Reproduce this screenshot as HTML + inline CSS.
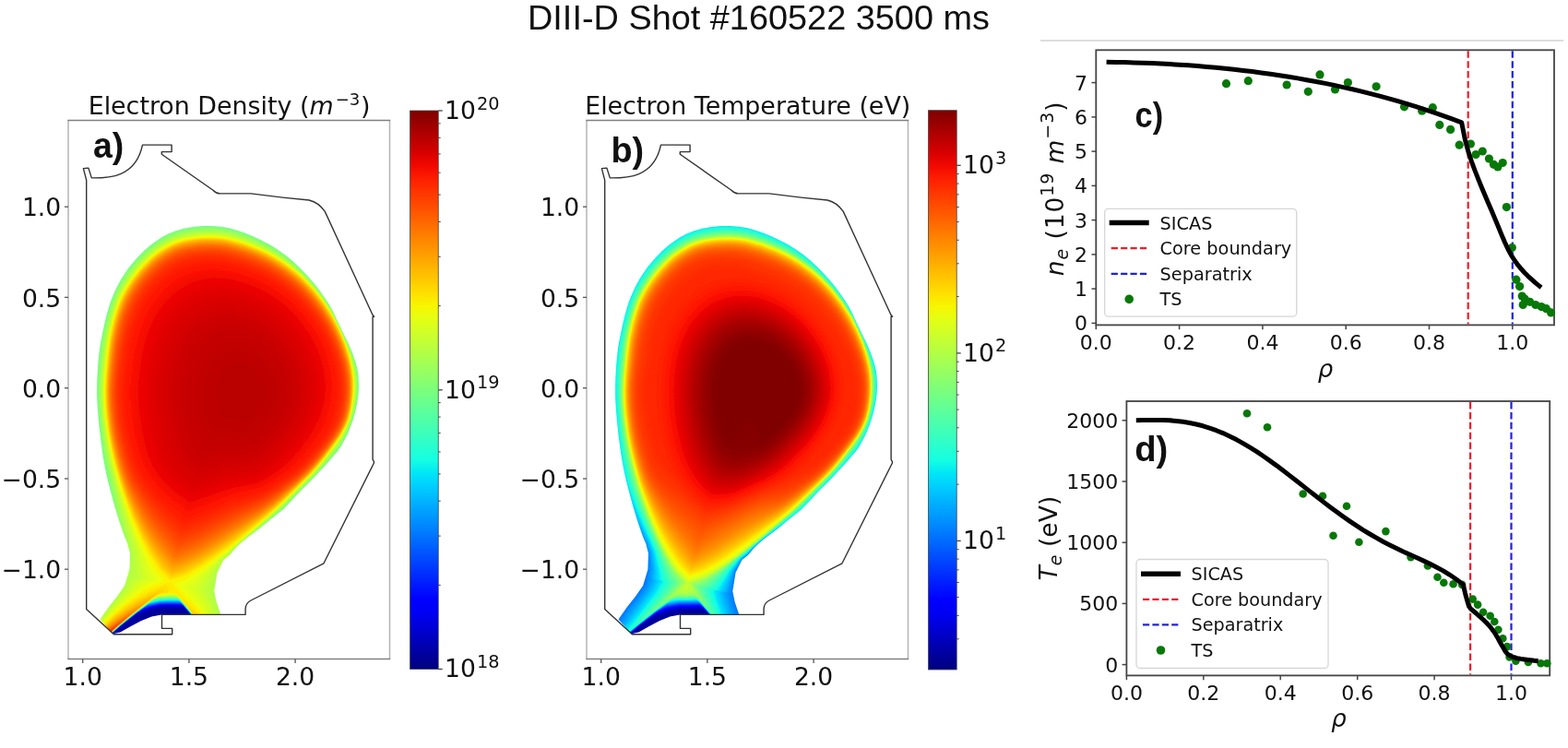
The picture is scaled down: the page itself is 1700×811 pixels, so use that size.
<!DOCTYPE html><html><head><meta charset="utf-8"><title>DIII-D Shot #160522 3500 ms</title><style>html,body{margin:0;padding:0;background:#fff;overflow:hidden}svg{display:block}text{font-family:"DejaVu Sans","Liberation Sans",sans-serif;fill:#111}</style></head><body>
<svg width="1700" height="811" viewBox="0 0 1700 811">
<defs><linearGradient id="gjet" x1="0" y1="0" x2="0" y2="1"><stop offset="0.000" stop-color="#800000"/><stop offset="0.025" stop-color="#9c0000"/><stop offset="0.050" stop-color="#b90000"/><stop offset="0.075" stop-color="#d60000"/><stop offset="0.100" stop-color="#f30900"/><stop offset="0.125" stop-color="#ff2100"/><stop offset="0.150" stop-color="#ff3900"/><stop offset="0.175" stop-color="#ff5000"/><stop offset="0.200" stop-color="#ff6800"/><stop offset="0.225" stop-color="#ff8000"/><stop offset="0.250" stop-color="#ff9700"/><stop offset="0.275" stop-color="#ffaf00"/><stop offset="0.300" stop-color="#ffc600"/><stop offset="0.325" stop-color="#ffde00"/><stop offset="0.350" stop-color="#f7f600"/><stop offset="0.375" stop-color="#e2ff15"/><stop offset="0.400" stop-color="#ceff29"/><stop offset="0.425" stop-color="#b9ff3e"/><stop offset="0.450" stop-color="#a5ff52"/><stop offset="0.475" stop-color="#90ff67"/><stop offset="0.500" stop-color="#7bff7b"/><stop offset="0.525" stop-color="#67ff90"/><stop offset="0.550" stop-color="#52ffa5"/><stop offset="0.575" stop-color="#3effb9"/><stop offset="0.600" stop-color="#29ffce"/><stop offset="0.625" stop-color="#15ffe2"/><stop offset="0.650" stop-color="#00e5f7"/><stop offset="0.675" stop-color="#00ccff"/><stop offset="0.700" stop-color="#00b2ff"/><stop offset="0.725" stop-color="#0099ff"/><stop offset="0.750" stop-color="#0080ff"/><stop offset="0.775" stop-color="#0066ff"/><stop offset="0.800" stop-color="#004cff"/><stop offset="0.825" stop-color="#0033ff"/><stop offset="0.850" stop-color="#0019ff"/><stop offset="0.875" stop-color="#0000ff"/><stop offset="0.900" stop-color="#0000f3"/><stop offset="0.925" stop-color="#0000d6"/><stop offset="0.950" stop-color="#0000b9"/><stop offset="0.975" stop-color="#00009c"/><stop offset="1.000" stop-color="#000080"/></linearGradient><clipPath id="cda"><path d="M108.5 671.5 117.6 658.5 126.9 646.8 135.1 635.1 140.4 617.6 141.0 600.0 138.2 589.3 137.6 587.9 136.7 585.8 135.5 582.9 133.9 578.8 132.0 573.3 129.7 566.4 127.1 558.2 124.4 549.4 121.8 540.0 119.2 530.1 116.5 519.5 114.2 508.7 112.1 497.5 110.4 486.1 108.9 474.4 107.7 463.9 106.8 454.7 106.1 446.8 105.6 440.0 105.3 433.8 105.1 427.9 105.1 422.5 105.1 417.5 105.3 412.2 105.5 406.6 105.9 400.6 106.3 394.4 106.8 388.8 107.3 383.8 107.8 379.6 108.3 375.9 109.1 371.2 110.3 365.3 111.7 358.2 113.5 350.1 115.4 342.3 117.4 335.0 119.6 328.1 122.0 321.7 124.8 315.2 128.0 308.8 131.6 302.3 135.7 295.9 140.2 289.6 145.2 283.4 150.6 277.4 156.5 271.6 162.7 266.2 169.1 261.4 175.8 257.1 182.9 253.3 190.8 250.2 199.5 247.8 209.2 246.1 219.7 245.1 229.8 245.0 239.4 245.7 248.5 247.3 257.1 249.7 265.8 252.7 274.5 256.3 283.3 260.5 292.1 265.1 300.5 270.3 308.4 275.8 315.8 281.8 322.9 288.3 329.6 295.0 336.0 302.0 342.2 309.3 348.0 317.0 353.2 324.4 357.7 331.6 361.5 338.6 364.7 345.4 367.8 352.0 370.8 358.3 373.8 364.5 376.8 370.4 379.4 376.2 381.8 381.9 383.8 387.4 385.5 392.8 386.9 397.8 387.9 402.5 388.5 406.8 388.7 410.8 388.9 414.5 389.0 417.9 389.0 421.1 388.8 424.1 388.6 427.5 388.1 431.5 387.4 435.9 386.5 440.8 385.4 445.7 384.1 450.7 382.6 455.6 380.9 460.5 379.0 465.3 377.1 469.9 375.0 474.3 372.7 478.6 370.7 482.2 368.9 485.2 367.3 487.6 365.9 489.4 363.7 492.0 360.6 495.5 356.8 499.9 352.1 505.2 347.1 510.6 341.9 516.2 336.3 521.9 330.5 527.7 325.2 533.1 320.6 537.9 316.6 542.2 313.1 546.1 309.7 549.6 306.2 552.9 302.6 556.0 299.0 558.8 296.3 560.9 294.5 562.3 282.2 572.5 265.5 585.0 256.3 593.2 248.9 602.1 242.5 607.0 235.6 620.8 232.3 641.0 234.7 652.7 239.3 666.5 175.2 666.5 175.2 666.5 164.4 668.5 152.7 673.2 141.0 679.6 130.4 685.5 122.2 687.2Z"/></clipPath><clipPath id="cdb"><path d="M670.5 671.5 679.6 658.5 688.9 646.8 697.1 635.1 702.4 617.6 703.0 600.0 700.2 589.3 699.6 587.9 698.7 585.8 697.5 582.9 695.9 578.8 694.0 573.3 691.7 566.4 689.1 558.2 686.4 549.4 683.8 540.0 681.2 530.1 678.5 519.5 676.2 508.7 674.1 497.5 672.4 486.1 670.9 474.4 669.7 463.9 668.8 454.7 668.1 446.8 667.6 440.0 667.3 433.8 667.1 427.9 667.1 422.5 667.1 417.5 667.3 412.2 667.5 406.6 667.9 400.6 668.3 394.4 668.8 388.8 669.3 383.8 669.8 379.6 670.3 375.9 671.1 371.2 672.3 365.3 673.7 358.2 675.5 350.1 677.4 342.3 679.4 335.0 681.6 328.1 684.0 321.7 686.8 315.2 690.0 308.8 693.6 302.3 697.7 295.9 702.2 289.6 707.2 283.4 712.6 277.4 718.5 271.6 724.6 266.2 731.1 261.4 737.8 257.1 744.9 253.3 752.8 250.2 761.5 247.8 771.2 246.1 781.7 245.1 791.8 245.0 801.4 245.7 810.5 247.3 819.1 249.7 827.8 252.7 836.5 256.3 845.3 260.5 854.1 265.1 862.5 270.3 870.4 275.8 877.8 281.8 884.9 288.3 891.6 295.0 898.0 302.0 904.2 309.3 910.0 317.0 915.2 324.4 919.7 331.6 923.5 338.6 926.7 345.4 929.8 352.0 932.8 358.3 935.8 364.5 938.8 370.4 941.4 376.2 943.8 381.9 945.8 387.4 947.5 392.8 948.9 397.8 949.9 402.5 950.5 406.8 950.7 410.8 950.9 414.5 951.0 417.9 951.0 421.1 950.8 424.1 950.6 427.5 950.1 431.5 949.4 435.9 948.5 440.8 947.4 445.7 946.1 450.7 944.6 455.6 942.9 460.5 941.0 465.3 939.1 469.9 937.0 474.3 934.7 478.6 932.7 482.2 930.9 485.2 929.3 487.6 927.9 489.4 925.7 492.0 922.6 495.5 918.8 499.9 914.1 505.2 909.1 510.6 903.9 516.2 898.3 521.9 892.5 527.7 887.2 533.1 882.6 537.9 878.6 542.2 875.1 546.1 871.7 549.6 868.2 552.9 864.6 556.0 861.0 558.8 858.3 560.9 856.5 562.3 844.2 572.5 827.5 585.0 818.3 593.2 810.9 602.1 804.5 607.0 797.6 620.8 794.3 641.0 796.7 652.7 801.3 666.5 737.2 666.5 737.2 666.5 726.4 668.5 714.7 673.2 703.0 679.6 692.4 685.5 684.2 687.2Z"/></clipPath><filter id="sm" x="0" y="0" width="1" height="1"><feGaussianBlur stdDeviation="0.7"/></filter></defs>
<rect width="1700" height="811" fill="#fff"/>
<text x="572" y="32.1" font-size="36.5" textLength="501" lengthAdjust="spacingAndGlyphs" style="font-family:'Liberation Sans',sans-serif">DIII-D Shot #160522 3500 ms</text>
<line x1="1128" y1="44.1" x2="1695" y2="44.1" stroke="#d2d2d2" stroke-width="1.5"/>
<g clip-path="url(#cda)"><g filter="url(#sm)"><path fill="#00009e" fill-rule="evenodd" d="M95.0 235.0H400.0V695.0H95.0Z"/>
<path fill="#0000ab" fill-rule="evenodd" d="M400.0 695.0 206.2 695.0 206.2 666.5 200.5 659.6 199.5 659.0 182.0 659.0 174.5 659.1 162.5 661.3 149.5 666.5 142.0 670.6 135.5 675.5 122.8 686.5 114.4 695.0 95.0 695.0 95.0 235.0 400.0 235.0 400.0 695.0Z"/>
<path fill="#0000b9" fill-rule="evenodd" d="M400.0 695.0 206.4 695.0 206.4 666.5 199.5 658.5 181.0 658.3 174.0 658.5 162.5 660.7 148.2 666.5 142.4 670.0 131.0 679.0 122.5 686.5 114.3 695.0 95.0 695.0 95.0 235.0 400.0 235.0 400.0 695.0Z"/>
<path fill="#0000c7" fill-rule="evenodd" d="M400.0 695.0 206.5 695.0 206.5 666.5 199.0 657.9 181.0 657.8 174.0 658.0 162.5 660.1 147.2 666.5 141.5 670.5 131.5 678.5 122.3 686.5 114.2 695.0 95.0 695.0 95.0 235.0 400.0 235.0 400.0 695.0Z"/>
<path fill="#0000d5" fill-rule="evenodd" d="M400.0 695.0 206.6 695.0 206.6 666.5 200.5 659.0 198.5 657.4 181.0 657.3 174.0 657.5 162.5 659.7 149.0 665.1 142.0 670.0 131.4 678.5 122.2 686.5 114.1 695.0 95.0 695.0 95.0 235.0 400.0 235.0 400.0 695.0Z"/>
<path fill="#0000e3" fill-rule="evenodd" d="M400.0 695.0 206.7 695.0 206.7 666.5 198.5 657.1 181.0 656.9 174.0 657.1 162.0 659.4 149.5 664.5 131.2 678.5 122.0 686.5 113.5 695.0 95.0 695.0 95.0 235.0 400.0 235.0 400.0 695.0Z"/>
<path fill="#0000f1" fill-rule="evenodd" d="M400.0 695.0 206.8 695.0 206.8 666.5 200.5 658.8 198.0 656.6 181.0 656.6 174.0 656.8 162.3 659.0 150.0 664.0 131.1 678.5 122.0 686.4 113.5 695.0 95.0 695.0 95.0 235.0 400.0 235.0 400.0 695.0Z"/>
<path fill="#0000ff" fill-rule="evenodd" d="M400.0 695.0 207.0 695.0 207.0 666.5 200.5 658.7 198.0 656.4 181.5 656.2 174.0 656.4 162.0 658.7 150.5 663.5 131.0 678.5 122.0 686.4 113.5 695.0 95.0 695.0 95.0 235.0 400.0 235.0 400.0 695.0Z"/>
<path fill="#0000ff" fill-rule="evenodd" d="M400.0 695.0 207.0 695.0 207.0 666.5 200.0 658.0 197.5 655.9 181.5 655.9 174.0 656.1 162.0 658.4 151.0 663.0 130.9 678.5 122.0 686.3 113.5 695.0 95.0 695.0 95.0 235.0 400.0 235.0 400.0 695.0Z"/>
<path fill="#0009ff" fill-rule="evenodd" d="M400.0 695.0 207.1 695.0 207.1 666.5 200.5 658.5 197.5 655.7 181.5 655.6 174.0 655.8 162.0 658.1 152.4 662.0 144.0 668.0 131.4 678.0 122.0 686.2 113.5 695.0 95.0 695.0 95.0 235.0 400.0 235.0 400.0 695.0Z"/>
<path fill="#0015ff" fill-rule="evenodd" d="M400.0 695.0 207.2 695.0 207.2 666.5 200.5 658.4 197.5 655.5 181.5 655.3 174.0 655.5 162.0 657.8 153.0 661.5 144.5 667.5 131.4 678.0 122.0 686.2 113.5 695.0 95.0 695.0 95.0 235.0 400.0 235.0 400.0 695.0Z"/>
<path fill="#0022ff" fill-rule="evenodd" d="M400.0 695.0 207.3 695.0 207.3 666.5 200.0 657.7 197.0 655.1 181.5 655.0 174.0 655.2 162.0 657.5 153.5 661.0 144.4 667.5 131.3 678.0 122.0 686.1 113.5 695.0 95.0 695.0 95.0 235.0 400.0 235.0 400.0 695.0Z"/>
<path fill="#002eff" fill-rule="evenodd" d="M400.0 695.0 207.3 695.0 207.3 666.5 200.0 657.6 197.0 654.9 181.5 654.7 174.0 655.0 162.5 657.2 155.0 660.0 147.0 665.5 131.2 678.0 122.0 686.1 113.4 695.0 95.0 695.0 95.0 235.0 400.0 235.0 400.0 695.0Z"/>
<path fill="#003aff" fill-rule="evenodd" d="M400.0 695.0 207.4 695.0 207.4 666.5 200.0 657.5 196.5 654.5 181.5 654.4 174.0 654.7 162.0 657.0 154.8 660.0 147.5 665.0 131.1 678.0 122.0 686.0 121.9 686.5 113.4 695.0 95.0 695.0 95.0 235.0 400.0 235.0 400.0 695.0Z"/>
<path fill="#0046ff" fill-rule="evenodd" d="M400.0 695.0 207.5 695.0 207.5 666.5 200.0 657.4 196.5 654.3 181.5 654.2 173.5 654.5 162.0 656.7 155.3 659.5 147.4 665.0 131.0 678.0 122.0 685.9 121.9 686.5 113.4 695.0 95.0 695.0 95.0 235.0 400.0 235.0 400.0 695.0Z"/>
<path fill="#0053ff" fill-rule="evenodd" d="M400.0 695.0 207.6 695.0 207.6 666.5 200.0 657.3 196.5 654.2 181.5 653.9 173.5 654.2 162.0 656.5 156.0 659.0 148.0 664.5 131.0 678.0 122.0 685.9 121.9 686.5 113.4 695.0 95.0 695.0 95.0 235.0 400.0 235.0 400.0 695.0Z"/>
<path fill="#005fff" fill-rule="evenodd" d="M400.0 695.0 207.6 695.0 207.6 666.5 200.0 657.3 196.5 654.0 181.5 653.6 173.0 654.1 161.5 656.4 156.5 658.5 147.9 664.5 130.9 678.0 122.0 685.8 121.9 686.5 113.4 695.0 95.0 695.0 95.0 235.0 400.0 235.0 400.0 695.0Z"/>
<path fill="#006bff" fill-rule="evenodd" d="M400.0 695.0 207.7 695.0 207.7 666.5 199.5 656.6 196.0 653.6 181.5 653.4 173.0 653.8 161.5 656.1 157.2 658.0 148.5 664.0 130.8 678.0 122.0 685.8 121.9 686.5 113.4 695.0 95.0 695.0 95.0 235.0 400.0 235.0 400.0 695.0Z"/>
<path fill="#0077ff" fill-rule="evenodd" d="M400.0 695.0 207.8 695.0 207.8 666.5 200.0 657.1 196.0 653.4 181.5 653.1 172.5 653.7 161.0 656.0 157.0 658.0 148.4 664.0 130.8 678.0 122.0 685.7 121.9 686.5 113.4 695.0 95.0 695.0 95.0 235.0 400.0 235.0 400.0 695.0Z"/>
<path fill="#0083ff" fill-rule="evenodd" d="M400.0 695.0 207.8 695.0 207.8 666.5 199.5 656.4 195.5 653.0 181.5 652.9 173.0 653.3 161.0 655.8 157.5 657.5 147.0 665.0 130.7 678.0 122.0 685.7 121.9 686.5 113.4 695.0 95.0 695.0 95.0 235.0 400.0 235.0 400.0 695.0Z"/>
<path fill="#0090ff" fill-rule="evenodd" d="M400.0 695.0 207.9 695.0 207.9 666.5 199.5 656.4 195.5 652.8 181.5 652.6 173.0 653.1 161.5 655.4 159.0 656.5 148.2 664.0 130.6 678.0 122.0 685.6 121.9 686.5 113.4 695.0 95.0 695.0 95.0 235.0 400.0 235.0 400.0 695.0Z"/>
<path fill="#009cff" fill-rule="evenodd" d="M400.0 695.0 208.0 695.0 208.0 666.5 199.5 656.3 195.5 652.7 181.5 652.4 173.0 652.9 161.5 655.2 159.5 656.1 148.1 664.0 130.6 678.0 122.0 685.6 121.9 686.5 113.4 695.0 95.0 695.0 95.0 235.0 400.0 235.0 400.0 695.0Z"/>
<path fill="#00a8ff" fill-rule="evenodd" d="M400.0 695.0 208.0 695.0 208.0 666.5 199.5 656.2 195.5 652.5 194.5 652.2 181.5 652.2 173.0 652.6 161.5 655.0 159.5 655.9 148.1 664.0 130.5 678.0 122.0 685.5 121.9 686.5 113.4 695.0 95.0 695.0 95.0 235.0 400.0 235.0 400.0 695.0Z"/>
<path fill="#00b4ff" fill-rule="evenodd" d="M400.0 695.0 208.1 695.0 208.1 666.5 199.5 656.1 195.5 652.4 194.5 652.0 182.0 651.9 173.0 652.4 162.0 654.6 160.0 655.5 148.0 664.0 130.5 677.9 122.0 685.5 121.9 686.5 113.4 695.0 95.0 695.0 95.0 235.0 400.0 235.0 400.0 695.0Z"/>
<path fill="#00c1ff" fill-rule="evenodd" d="M400.0 695.0 208.1 695.0 208.1 666.5 199.5 656.0 195.0 652.0 182.0 651.7 173.0 652.2 162.5 654.3 159.8 655.5 148.0 663.9 130.5 677.9 121.9 685.5 121.8 686.5 113.3 695.0 95.0 695.0 95.0 235.0 400.0 235.0 400.0 695.0Z"/>
<path fill="#00cdff" fill-rule="evenodd" d="M400.0 695.0 208.2 695.0 208.2 666.5 199.5 655.9 195.0 651.8 194.0 651.5 182.0 651.4 173.0 651.9 162.5 654.1 159.7 655.5 148.5 663.5 130.5 677.8 121.8 685.5 121.8 686.5 113.3 695.0 95.0 695.0 95.0 235.0 400.0 235.0 400.0 695.0Z"/>
<path fill="#00d9ff" fill-rule="evenodd" d="M400.0 695.0 208.3 695.0 208.3 666.5 199.5 655.9 195.0 651.7 193.5 651.3 182.0 651.2 172.5 651.8 163.0 653.8 159.5 655.5 148.0 663.8 130.5 677.8 121.7 685.5 121.8 686.5 113.3 695.0 95.0 695.0 95.0 235.0 400.0 235.0 400.0 695.0Z"/>
<path fill="#00e5f7" fill-rule="evenodd" d="M400.0 695.0 208.3 695.0 208.3 666.5 199.5 655.8 195.0 651.6 193.5 651.0 182.0 651.0 172.5 651.6 163.0 653.5 160.0 655.1 148.0 663.7 130.5 677.7 121.7 685.5 121.8 686.5 113.3 695.0 95.0 695.0 95.0 235.0 400.0 235.0 400.0 695.0Z"/>
<path fill="#0af2ed" fill-rule="evenodd" d="M400.0 695.0 208.4 695.0 208.4 666.5 199.0 655.1 194.5 651.1 193.5 650.8 182.0 650.7 172.5 651.3 163.5 653.2 160.0 655.0 148.0 663.7 130.5 677.7 121.6 685.5 121.8 686.5 113.3 695.0 95.0 695.0 95.0 235.0 400.0 235.0 400.0 695.0Z"/>
<path fill="#14fee3" fill-rule="evenodd" d="M400.0 695.0 208.5 695.0 208.5 666.5 199.0 655.1 194.5 651.0 193.0 650.5 182.0 650.5 172.5 651.1 163.6 653.0 160.0 654.9 148.0 663.6 130.5 677.6 121.5 685.5 121.8 686.5 113.3 695.0 95.0 695.0 95.0 235.0 400.0 235.0 400.0 695.0Z"/>
<path fill="#1effd9" fill-rule="evenodd" d="M400.0 695.0 208.5 695.0 208.5 666.5 199.0 655.0 194.5 650.8 193.0 650.3 182.0 650.3 172.5 650.9 164.5 652.5 160.5 654.5 148.0 663.6 130.5 677.6 121.5 685.5 121.8 686.5 113.3 695.0 95.0 695.0 95.0 235.0 400.0 235.0 400.0 695.0Z"/>
<path fill="#27ffcf" fill-rule="evenodd" d="M400.0 695.0 208.6 695.0 208.6 666.5 199.0 654.9 194.5 650.7 193.0 650.1 182.0 650.0 172.0 650.7 164.5 652.4 160.5 654.4 148.0 663.5 130.5 677.5 121.5 685.4 121.8 686.5 113.3 695.0 95.0 695.0 95.0 235.0 400.0 235.0 400.0 695.0Z"/>
<path fill="#31ffc6" fill-rule="evenodd" d="M400.0 695.0 208.6 695.0 208.6 666.5 199.0 654.8 194.5 650.6 192.5 649.8 182.0 649.8 173.5 650.3 166.0 651.8 163.5 652.6 160.0 654.7 148.0 663.4 130.5 677.5 121.5 685.4 121.8 686.5 113.3 695.0 95.0 695.0 95.0 235.0 400.0 235.0 400.0 695.0Z"/>
<path fill="#3bffbc" fill-rule="evenodd" d="M400.0 695.0 208.7 695.0 208.7 666.5 199.0 654.7 194.0 650.1 192.5 649.6 182.0 649.5 173.5 650.0 166.0 651.5 160.0 654.6 148.0 663.4 130.4 677.5 121.5 685.3 121.8 686.5 113.3 695.0 95.0 695.0 95.0 235.0 400.0 235.0 400.0 695.0Z"/>
<path fill="#45ffb2" fill-rule="evenodd" d="M400.0 695.0 208.8 695.0 208.8 666.5 199.0 654.6 194.0 650.0 192.5 649.4 182.0 649.3 173.5 649.8 166.5 651.2 160.0 654.5 148.0 663.3 130.0 677.8 121.5 685.3 121.8 686.5 113.3 695.0 95.0 695.0 95.0 235.0 400.0 235.0 400.0 695.0Z"/>
<path fill="#4fffa8" fill-rule="evenodd" d="M400.0 695.0 208.8 695.0 208.8 666.5 199.0 654.5 194.0 649.8 192.0 649.1 182.0 649.0 173.5 649.6 166.5 651.0 160.0 654.4 148.0 663.3 130.0 677.7 121.5 685.2 121.8 686.5 113.3 695.0 95.0 695.0 95.0 235.0 400.0 235.0 400.0 695.0Z"/>
<path fill="#59ff9e" fill-rule="evenodd" d="M400.0 695.0 208.9 695.0 208.9 666.5 198.5 653.9 194.0 649.7 192.0 648.9 182.0 648.8 173.5 649.3 167.0 650.6 160.5 654.0 148.0 663.2 130.0 677.7 121.5 685.2 121.7 686.5 113.2 695.0 95.0 695.0 95.0 235.0 400.0 235.0 400.0 695.0Z"/>
<path fill="#63ff94" fill-rule="evenodd" d="M400.0 695.0 209.0 695.0 209.0 666.5 199.0 654.3 194.0 649.6 192.0 648.6 182.0 648.5 173.5 649.1 167.5 650.3 160.5 653.9 148.0 663.1 130.0 677.6 121.5 685.2 121.7 686.5 113.2 695.0 95.0 695.0 95.0 235.0 400.0 235.0 400.0 695.0Z"/>
<path fill="#6cff8a" fill-rule="evenodd" d="M400.0 695.0 209.0 695.0 209.0 666.5 199.0 654.2 194.0 649.4 191.5 648.3 182.0 648.3 173.5 648.8 167.5 650.1 160.5 653.8 148.0 663.1 130.0 677.6 121.5 685.1 121.7 686.5 113.2 695.0 95.0 695.0 95.0 235.0 400.0 235.0 400.0 695.0Z"/>
<path fill="#76ff80" fill-rule="evenodd" d="M400.0 695.0 209.1 695.0 209.1 666.5 198.5 653.6 193.5 648.9 191.5 648.1 182.0 648.0 173.5 648.6 168.0 649.7 160.5 653.7 147.5 663.4 130.0 677.5 121.5 685.1 121.7 686.5 113.2 695.0 95.0 695.0 95.0 235.0 400.0 235.0 400.0 695.0Z"/>
<path fill="#80ff77" fill-rule="evenodd" d="M400.0 695.0 209.2 695.0 209.2 666.5 198.5 653.5 193.5 648.8 191.5 647.8 182.0 647.8 173.5 648.3 168.0 649.5 160.5 653.6 147.5 663.4 130.0 677.5 121.5 685.0 121.7 686.5 113.2 695.0 95.0 695.0 95.0 546.1 105.5 543.2 107.5 542.2 119.0 538.7 121.1 537.5 121.0 536.6 119.0 536.5 120.5 535.8 120.7 535.0 120.5 534.0 119.5 534.0 120.0 534.0 120.3 533.0 115.0 508.5 111.1 486.0 108.2 462.0 106.3 440.0 105.8 422.5 106.6 401.0 108.5 380.0 110.9 365.5 116.0 342.5 122.1 323.5 128.7 309.0 136.2 296.5 145.8 284.0 157.3 272.0 169.5 262.2 183.0 254.2 191.0 251.1 200.0 248.7 209.5 247.0 219.5 246.1 230.0 245.9 240.5 246.8 248.5 248.2 256.5 250.4 267.0 254.1 282.5 260.9 291.5 265.6 300.0 270.8 315.2 282.0 329.0 295.0 341.0 308.5 341.6 308.5 341.4 309.0 343.0 311.0 343.6 311.0 343.4 311.5 344.5 312.9 345.3 313.0 345.0 313.5 348.0 317.5 348.6 317.5 348.4 318.0 349.0 318.9 349.7 319.0 349.4 319.5 350.0 320.3 350.9 320.5 350.5 321.0 351.5 322.5 352.1 322.5 351.9 323.0 352.5 323.9 353.3 324.0 352.9 324.5 353.5 325.4 354.2 325.5 353.9 326.0 354.5 327.0 355.0 327.0 355.0 327.8 355.9 328.0 355.4 328.5 356.0 329.4 356.7 329.5 356.4 330.0 357.0 331.0 357.5 331.0 357.5 331.8 358.3 332.0 358.0 332.7 358.9 333.0 358.5 333.5 359.0 334.5 359.5 334.5 359.5 335.4 360.1 335.5 360.0 336.3 360.7 336.5 360.5 337.2 361.3 337.5 361.0 338.1 361.9 338.5 361.5 339.0 362.4 339.5 361.9 340.0 362.8 340.5 362.4 341.0 363.3 341.5 362.9 342.0 363.7 342.5 363.3 343.0 364.1 343.5 364.0 344.4 366.5 344.5 368.5 343.5 369.8 343.5 366.0 345.3 365.0 346.5 365.9 347.0 365.5 347.5 366.4 348.0 365.9 348.5 366.8 349.0 366.4 349.5 367.3 350.0 366.9 350.5 367.7 351.0 367.4 351.5 368.2 352.0 367.8 352.5 368.6 353.0 368.5 353.9 371.0 353.9 374.5 352.4 375.5 352.5 376.0 351.9 377.0 352.0 383.5 349.0 384.9 349.0 371.0 355.9 370.0 357.0 370.9 357.5 370.5 358.1 371.4 358.5 371.0 359.1 371.9 359.5 371.5 360.1 372.3 360.5 372.0 361.2 372.8 361.5 372.4 362.0 373.3 362.5 372.9 363.0 373.8 363.5 373.4 364.0 374.2 364.5 373.9 365.0 374.7 365.5 374.3 366.0 375.2 366.5 374.8 367.0 375.7 367.5 375.3 368.0 376.1 368.5 376.0 369.4 376.6 369.5 376.3 370.0 377.1 370.5 377.0 371.5 377.9 372.0 377.4 372.5 378.3 373.0 377.9 373.5 378.7 374.0 378.3 374.5 379.1 375.0 378.8 375.5 379.5 376.0 379.5 377.2 380.2 377.5 379.8 378.0 380.6 378.5 380.5 379.6 381.3 380.0 380.9 380.5 381.6 381.0 381.3 381.5 382.2 382.5 381.8 383.0 382.5 383.5 382.2 384.0 382.5 384.9 383.1 385.0 382.7 385.5 383.0 386.3 383.6 386.5 383.3 387.0 383.5 387.7 384.1 388.0 383.8 388.5 384.0 389.3 384.6 389.5 384.2 390.0 384.5 390.9 385.1 391.0 384.7 391.5 385.0 392.5 385.5 392.5 385.2 393.0 385.5 394.3 386.1 394.5 385.7 395.0 387.5 403.1 388.1 403.5 387.6 404.0 388.0 406.7 388.5 407.0 388.1 407.5 388.5 417.0 400.0 417.0 400.0 421.3 388.5 421.3 388.1 427.5 389.0 428.5 388.0 428.5 387.6 431.5 388.1 432.0 387.5 432.4 387.1 435.0 387.5 435.5 387.0 435.7 386.6 438.0 387.0 438.5 386.5 438.6 386.2 440.5 386.6 441.0 386.0 441.3 385.6 443.0 386.0 443.5 385.5 443.6 385.2 445.0 385.6 445.5 385.0 445.8 384.7 447.0 385.1 447.5 384.5 447.7 384.2 449.0 384.6 449.5 384.0 449.7 383.2 452.5 383.5 453.0 383.0 453.0 382.7 454.0 383.1 454.5 382.5 454.7 382.2 455.5 382.6 456.0 382.0 456.2 381.7 457.0 382.1 457.5 381.5 457.6 381.2 458.5 381.5 459.0 381.0 459.0 374.6 474.0 366.7 487.5 352.1 504.5 341.5 516.0 309.5 549.2 299.5 558.5 297.8 559.5 297.7 560.5 298.6 562.0 298.5 562.9 296.5 560.9 295.4 561.5 295.3 562.5 301.2 571.5 305.2 576.0 305.2 576.5 339.2 618.5 339.2 619.0 345.2 626.0 345.2 626.5 351.2 633.5 351.2 634.0 357.2 641.0 357.2 641.5 361.2 646.0 361.2 646.5 363.2 648.5 363.2 649.0 373.2 661.0 375.2 664.0 385.2 676.0 385.2 676.5 389.0 679.5 393.5 681.5 394.5 682.5 398.0 684.0 400.0 685.5 400.0 695.0ZM371.5 342.8 371.8 342.5 371.5 342.8ZM370.5 343.3 370.0 343.0 370.8 343.0 370.5 343.3ZM388.5 347.4 388.9 347.0 388.5 347.4ZM387.5 347.9 387.9 347.5 387.5 347.9ZM386.5 348.4 386.0 348.0 386.9 348.0 386.5 348.4ZM385.5 348.9 385.0 348.5 385.9 348.5 385.5 348.9ZM299.0 563.4 298.6 563.0 299.1 563.0 299.0 563.4ZM299.5 563.9 299.1 563.5 299.6 563.5 299.5 563.9Z"/>
<path fill="#8aff6d" fill-rule="evenodd" d="M400.0 695.0 209.2 695.0 209.2 666.5 198.5 653.4 193.5 648.6 191.0 647.5 182.0 647.5 173.5 648.1 168.5 649.1 160.0 653.9 147.5 663.3 130.0 677.4 121.5 685.0 121.7 686.5 113.2 695.0 95.0 695.0 95.0 561.1 96.5 561.1 98.5 560.1 103.5 559.1 104.0 558.6 123.0 552.6 125.1 551.5 125.0 550.8 123.9 550.5 124.8 550.0 124.1 546.0 113.8 496.5 109.9 469.5 107.4 444.5 106.6 422.5 107.4 401.0 109.4 379.5 112.8 360.5 116.9 342.5 123.3 322.5 129.4 309.5 137.0 297.0 146.5 284.6 158.0 272.6 170.1 263.0 183.5 255.2 191.5 252.1 200.0 249.8 209.0 248.2 220.0 247.2 230.5 247.1 239.0 247.7 247.5 249.1 256.5 251.5 267.0 255.2 282.5 261.9 292.5 267.2 307.5 276.8 316.0 283.6 329.0 295.7 336.5 303.8 347.6 317.5 357.0 331.6 364.0 344.9 364.6 345.0 364.3 345.5 365.0 346.0 364.8 346.5 368.5 354.3 369.1 354.5 369.0 355.4 369.6 355.5 369.3 356.0 370.1 356.5 369.8 357.0 370.5 357.5 370.2 358.0 376.2 370.5 381.0 382.0 384.7 393.0 387.0 403.0 387.9 414.5 387.6 427.5 385.6 441.0 381.8 455.5 378.2 465.0 373.7 474.5 368.0 484.5 362.6 491.5 346.5 510.0 312.3 545.5 305.2 552.5 286.8 568.5 286.8 569.5 289.7 574.5 296.6 583.0 296.6 583.5 299.1 586.0 299.1 586.5 301.6 589.0 301.6 589.5 304.1 592.0 304.1 592.5 311.6 601.0 311.6 601.5 336.6 631.0 336.6 631.5 341.6 637.0 341.6 637.5 344.1 640.0 344.1 640.5 346.6 643.0 349.1 646.5 351.6 649.0 354.1 652.5 356.6 655.0 356.6 655.5 366.6 667.0 366.6 667.5 368.5 669.0 388.0 678.6 389.0 679.6 393.5 681.6 394.5 682.6 399.5 685.1 400.0 685.6 400.0 695.0Z"/>
<path fill="#94ff63" fill-rule="evenodd" d="M400.0 695.0 209.3 695.0 209.3 666.5 198.5 653.3 193.5 648.5 191.0 647.3 182.0 647.2 181.5 647.5 173.5 647.8 169.0 648.8 165.5 650.3 160.0 653.8 147.5 663.2 130.0 677.4 121.5 684.9 121.7 686.5 113.2 695.0 95.0 695.0 95.0 574.9 95.5 574.4 96.5 574.4 100.0 572.9 101.0 572.9 101.5 572.4 102.5 572.4 103.0 571.9 104.0 571.9 104.5 571.4 105.5 571.4 107.5 570.4 123.5 565.4 124.0 564.9 125.0 564.9 125.5 564.4 126.5 564.4 128.7 563.0 124.9 543.5 114.8 497.0 111.3 474.0 108.3 446.5 107.4 427.5 107.9 406.5 110.2 380.0 113.5 360.5 117.7 342.5 123.8 323.5 130.1 310.0 137.7 297.5 147.4 285.0 158.5 273.5 170.5 263.9 184.0 256.1 191.5 253.2 198.5 251.3 209.5 249.2 220.0 248.2 230.5 248.1 242.0 249.2 248.0 250.3 256.0 252.4 266.5 256.0 282.0 262.6 292.0 267.8 307.0 277.3 315.5 283.9 328.5 295.9 336.1 304.0 347.1 317.5 356.9 332.0 362.1 341.5 378.7 377.0 384.1 392.5 386.4 403.0 387.4 414.5 387.0 428.5 384.1 445.5 379.9 459.5 375.0 470.8 367.5 484.0 362.6 490.5 351.2 504.0 340.7 515.5 308.6 548.5 279.2 574.5 279.1 575.5 280.0 577.6 278.0 575.6 277.4 576.0 277.4 577.0 280.3 582.0 333.8 653.0 339.0 655.6 340.0 655.6 344.5 658.1 345.5 658.1 350.0 660.6 351.0 660.6 355.5 663.1 356.5 663.1 365.0 667.6 366.0 667.6 398.0 684.2 400.0 685.7 400.0 695.0Z"/>
<path fill="#9eff59" fill-rule="evenodd" d="M400.0 695.0 209.4 695.0 209.4 666.5 198.5 653.2 193.5 648.3 191.0 647.0 182.5 646.9 173.5 647.6 169.5 648.4 165.5 650.2 160.5 653.3 148.0 662.8 130.0 677.3 121.5 684.9 121.7 686.5 113.2 695.0 95.0 695.0 95.0 587.9 96.0 587.9 98.0 586.9 100.5 586.4 101.0 585.9 102.0 585.9 102.5 585.4 103.5 585.4 105.5 584.4 106.5 584.4 107.0 583.9 108.0 583.9 110.0 582.9 111.0 582.9 111.5 582.4 129.0 576.9 129.5 576.4 130.5 576.4 132.7 575.0 126.8 546.0 115.6 496.5 112.1 474.0 109.0 446.5 108.1 427.5 108.7 406.5 111.0 380.0 114.3 360.5 118.3 343.0 124.2 324.5 130.8 310.5 138.4 298.0 148.0 285.7 159.0 274.3 171.0 264.8 183.5 257.5 192.0 254.1 200.5 251.8 210.0 250.2 219.5 249.3 230.5 249.2 239.0 249.8 247.5 251.2 256.0 253.4 266.5 257.0 282.0 263.5 292.0 268.7 307.0 278.1 315.5 284.7 328.0 296.1 336.0 304.5 347.0 318.0 356.6 332.0 361.9 341.5 378.4 377.0 383.8 393.0 385.9 403.0 387.0 418.0 386.2 431.0 383.7 445.5 379.2 460.0 373.3 473.0 366.8 484.0 359.4 493.5 346.1 509.0 308.0 548.4 281.5 572.0 271.2 580.5 271.2 581.5 272.0 583.6 270.0 581.6 269.4 582.0 269.4 583.0 272.2 588.0 315.7 646.0 319.0 647.5 321.5 648.1 323.0 649.1 325.5 649.6 327.0 650.6 328.0 650.6 332.0 652.6 333.0 652.6 335.5 654.2 336.5 654.2 339.0 655.7 340.0 655.7 344.5 658.2 345.5 658.2 350.0 660.7 351.0 660.7 355.5 663.2 356.5 663.2 385.0 677.3 388.0 678.8 389.0 679.8 393.5 681.8 394.5 682.8 398.0 684.3 400.0 685.8 400.0 695.0Z"/>
<path fill="#a8ff4f" fill-rule="evenodd" d="M400.0 695.0 209.4 695.0 209.4 666.5 198.5 653.0 193.5 648.1 190.5 646.7 182.5 646.6 173.5 647.3 170.0 648.0 166.0 649.8 160.5 653.3 148.0 662.7 130.0 677.3 121.5 684.8 121.7 686.5 113.2 695.0 95.0 695.0 95.0 604.1 95.5 603.6 97.0 603.6 97.5 603.1 98.5 603.1 108.0 599.6 109.0 599.6 109.5 599.1 110.5 599.1 111.0 598.6 112.0 598.6 112.5 598.1 113.5 598.1 114.0 597.6 115.0 597.6 115.5 597.1 116.5 597.1 117.0 596.6 118.0 596.6 118.5 596.1 119.5 596.1 120.0 595.6 121.0 595.6 122.5 594.7 131.5 591.3 137.7 588.0 116.6 497.0 113.3 477.5 110.5 454.0 108.9 430.5 109.1 412.0 111.7 380.5 115.0 360.5 119.2 342.5 125.1 324.5 130.9 312.0 138.4 299.5 148.4 286.5 159.5 275.0 171.5 265.5 183.5 258.5 192.0 255.2 201.0 252.8 210.0 251.2 220.0 250.3 230.5 250.2 240.0 250.9 247.5 252.2 255.5 254.3 266.0 257.7 281.5 264.2 291.5 269.2 306.5 278.6 315.0 285.0 328.0 296.7 335.9 305.0 346.6 318.0 356.2 332.0 361.9 342.0 372.2 363.5 378.2 377.5 383.3 393.0 385.5 403.0 386.5 418.0 385.8 431.0 383.3 445.5 378.8 460.0 372.7 473.0 366.4 483.5 358.6 493.5 345.5 509.0 304.6 551.0 281.3 571.5 265.1 585.0 265.1 586.0 268.0 590.5 268.0 591.4 263.5 586.9 260.9 589.0 260.9 590.0 266.9 599.0 275.9 609.5 275.9 610.0 278.9 613.0 278.9 613.5 281.9 616.5 281.9 617.0 308.9 644.0 311.5 645.0 313.0 645.0 319.0 647.8 321.5 648.3 323.0 649.3 325.5 649.8 329.5 651.8 333.0 652.8 335.5 654.3 336.5 654.3 339.0 655.8 340.0 655.8 344.5 658.4 345.5 658.4 350.0 660.9 351.0 660.9 355.5 663.4 356.5 663.4 365.0 667.9 366.0 667.9 388.0 678.9 389.0 679.9 398.0 684.4 400.0 685.9 400.0 695.0ZM268.5 591.9 268.1 591.5 268.5 591.9ZM269.0 592.4 268.6 592.0 269.0 592.4ZM269.5 592.9 269.1 592.5 269.5 592.9Z"/>
<path fill="#b2ff45" fill-rule="evenodd" d="M400.0 695.0 209.5 695.0 209.5 666.5 198.0 652.3 193.5 648.0 190.5 646.4 182.5 646.3 170.5 647.6 166.5 649.4 160.5 653.2 146.5 663.8 129.5 677.7 121.5 684.8 121.7 686.5 113.2 695.0 95.0 695.0 95.0 608.4 99.0 608.7 141.0 608.6 142.0 600.0 140.2 589.0 137.1 578.0 119.3 505.5 115.4 485.5 111.8 460.0 109.9 437.0 109.7 415.0 112.2 383.0 115.8 360.5 119.8 343.0 125.6 325.0 131.5 312.5 139.1 300.0 149.0 287.1 160.0 275.7 171.5 266.6 184.0 259.3 192.0 256.2 201.0 253.8 210.0 252.2 220.0 251.3 230.5 251.2 240.0 251.9 247.5 253.1 255.5 255.2 272.0 260.9 283.0 265.8 298.0 273.8 307.0 279.7 320.5 290.4 329.0 298.3 341.0 311.5 351.5 325.3 359.7 338.5 365.1 349.0 375.3 371.0 379.7 382.5 383.0 393.5 385.5 407.0 386.0 421.0 384.7 435.5 381.7 450.0 376.5 464.5 371.3 474.5 364.3 485.5 350.5 502.5 340.5 513.8 304.0 550.9 281.0 571.2 265.0 584.5 256.0 593.0 254.0 595.5 254.4 596.0 253.5 596.1 252.4 597.5 255.6 601.0 255.0 601.1 254.0 600.1 253.5 600.2 252.0 599.2 251.0 599.3 250.4 600.0 291.0 640.7 294.5 641.4 295.0 641.9 299.0 642.4 299.5 642.9 301.5 642.9 302.0 643.4 304.5 643.4 305.0 643.9 307.0 643.9 307.5 644.4 309.5 644.5 311.5 645.5 313.0 645.5 315.0 646.5 317.5 647.0 319.0 648.0 321.5 648.5 323.0 649.5 325.5 650.0 329.5 652.0 333.0 653.0 339.0 656.0 340.0 656.0 344.5 658.5 345.5 658.5 350.0 661.0 351.0 661.0 355.5 663.5 356.5 663.5 365.0 668.0 366.0 668.0 388.0 679.0 389.0 680.0 393.5 682.0 394.5 683.0 399.5 685.5 400.0 686.0 400.0 695.0Z"/>
<path fill="#bbff3b" fill-rule="evenodd" d="M235.5 695.0 209.6 695.0 209.6 666.5 198.0 652.2 193.5 647.8 190.0 646.0 182.5 646.0 182.0 646.4 174.0 646.7 170.5 647.4 166.5 649.2 161.0 652.7 147.0 663.4 129.5 677.6 121.5 684.7 121.7 686.5 113.2 695.0 95.0 695.0 95.0 686.6 109.1 672.5 118.5 659.3 128.1 648.0 137.0 636.5 140.7 627.5 142.0 627.2 143.0 627.5 144.5 618.5 144.5 599.5 142.2 588.5 138.9 577.5 127.0 532.5 118.2 496.5 113.6 469.0 111.2 446.5 110.2 422.5 110.8 407.0 112.2 390.0 115.3 366.5 120.5 343.0 126.8 324.0 129.7 317.5 135.5 307.0 140.7 299.0 147.6 290.0 153.8 283.0 160.5 276.4 172.5 267.0 179.0 263.0 186.0 259.4 192.5 257.0 201.0 254.7 210.0 253.2 220.5 252.2 230.5 252.1 239.5 252.8 247.0 254.0 257.5 256.7 274.0 262.6 290.5 270.3 305.5 279.4 314.5 286.0 328.5 298.4 341.0 312.0 351.3 325.5 359.7 339.0 365.2 349.5 375.2 371.5 380.5 386.0 384.1 400.0 385.5 414.0 385.5 424.0 384.3 435.5 382.6 445.0 380.1 454.0 376.2 464.0 373.6 469.5 364.0 485.0 350.3 502.0 340.5 513.2 309.0 545.4 281.0 570.6 264.5 584.4 255.7 592.5 248.0 601.4 241.6 606.5 233.6 620.0 227.4 642.0 227.4 642.5 228.8 643.5 236.0 666.5 236.0 695.0 235.5 695.0Z"/>
<path fill="#c5ff31" fill-rule="evenodd" d="M232.5 695.0 209.7 695.0 209.7 666.5 198.0 652.1 193.0 647.2 190.0 645.7 182.5 645.6 182.0 646.1 174.5 646.3 171.0 646.9 166.0 649.4 160.0 653.3 141.5 667.7 127.0 679.8 121.5 684.7 121.3 685.5 121.7 686.5 113.2 695.0 95.0 695.0 95.0 687.0 99.7 683.0 109.7 673.0 119.5 660.0 139.2 637.5 144.2 628.0 148.5 628.0 148.8 619.0 147.0 599.5 144.1 588.0 140.3 576.5 132.1 547.5 121.3 506.5 115.5 477.5 112.3 452.0 111.2 437.0 110.9 423.0 112.2 398.0 115.0 372.0 118.1 355.5 121.2 343.0 127.3 324.5 130.8 317.0 136.0 307.5 145.8 293.5 154.0 284.0 160.0 277.9 171.5 268.6 178.0 264.5 186.0 260.4 192.5 257.9 201.0 255.6 210.5 254.0 220.5 253.1 230.5 253.0 239.5 253.7 247.0 254.8 257.0 257.4 273.5 263.2 290.0 270.8 305.0 279.7 314.0 286.3 328.0 298.5 339.7 311.0 347.3 320.5 356.9 334.5 364.7 349.0 374.8 371.0 380.2 386.0 383.6 400.0 385.1 414.0 385.0 424.0 383.9 435.5 382.2 445.0 379.8 454.0 377.7 459.5 373.4 469.0 369.3 476.0 363.3 485.0 349.8 502.0 335.0 518.5 303.1 550.5 280.5 570.5 264.3 584.0 255.4 592.0 247.5 600.6 241.0 605.7 231.3 619.5 221.8 641.5 223.5 641.9 224.0 642.5 228.2 652.5 232.8 666.5 232.5 695.0Z"/>
<path fill="#cfff28" fill-rule="evenodd" d="M229.5 695.0 209.7 695.0 209.7 666.5 197.6 651.5 193.5 647.4 190.0 645.4 182.5 645.3 182.0 645.7 171.5 646.5 167.0 648.7 160.5 652.9 142.0 667.2 127.5 679.3 121.5 684.6 121.2 685.5 121.6 686.5 113.1 695.0 95.0 695.0 95.0 687.1 104.3 679.5 110.3 673.5 120.5 660.7 141.5 638.5 148.2 628.5 149.0 628.9 154.2 629.0 153.3 620.0 149.5 599.5 133.6 549.0 121.7 505.0 116.2 477.5 113.1 454.0 111.8 437.0 111.5 423.0 113.1 394.5 114.9 377.5 116.6 366.5 120.1 349.5 123.4 337.5 127.4 326.0 130.2 319.5 134.2 312.0 140.7 301.5 146.3 294.0 154.5 284.5 166.0 273.7 178.5 265.1 185.0 261.7 193.0 258.6 201.0 256.5 210.5 254.9 220.5 254.0 229.5 253.8 241.0 254.7 248.0 255.9 256.5 258.1 273.0 263.7 288.5 270.7 298.5 276.3 313.5 286.5 326.5 297.6 334.5 305.6 346.5 319.9 356.3 334.0 364.8 349.5 371.6 364.0 377.6 379.0 381.9 393.5 384.3 407.0 384.8 420.5 384.4 428.0 382.8 440.0 379.2 454.5 375.4 464.0 371.2 472.0 366.2 480.0 359.6 489.0 349.2 502.0 339.7 513.0 306.7 546.5 284.0 566.9 255.0 591.7 246.8 600.0 240.0 605.4 229.0 619.0 216.2 640.0 218.5 641.0 224.5 652.2 227.5 658.9 229.5 665.5 229.5 695.0Z"/>
<path fill="#d9ff1e" fill-rule="evenodd" d="M226.5 695.0 209.8 695.0 209.8 666.5 196.0 649.5 192.0 646.1 189.0 645.0 182.5 644.9 182.0 645.4 172.5 646.0 168.5 647.7 163.5 650.7 148.0 662.4 129.5 677.4 121.5 684.6 121.2 685.5 121.6 686.5 113.1 695.0 95.0 695.0 95.0 687.5 97.0 685.3 97.5 685.3 102.0 681.2 107.9 677.0 110.9 674.0 121.5 661.4 143.5 639.8 152.3 629.5 159.0 629.6 160.1 630.0 152.0 600.0 137.2 557.0 126.9 522.0 122.4 504.5 118.4 486.5 114.4 460.0 112.8 444.0 112.1 430.5 112.8 406.5 114.8 383.5 116.7 369.0 120.2 351.5 124.0 337.5 128.0 326.0 130.7 320.0 134.6 312.5 141.2 302.0 146.8 294.5 155.0 285.0 166.5 274.2 179.0 265.7 185.5 262.3 193.0 259.4 201.5 257.2 210.5 255.7 220.5 254.8 230.0 254.6 239.5 255.3 246.0 256.3 256.5 258.8 273.0 264.5 289.0 271.7 299.0 277.2 313.5 287.1 326.5 298.1 334.4 306.0 346.3 320.0 356.3 334.5 364.4 349.0 371.4 364.0 377.3 379.0 381.5 393.5 383.9 407.0 384.4 420.5 383.9 429.5 382.1 442.0 380.3 450.0 377.2 459.0 372.8 468.5 369.6 474.0 362.8 484.0 353.2 496.5 344.1 507.5 335.0 517.5 303.0 549.5 280.0 569.9 254.5 591.5 246.1 599.5 239.1 605.0 227.0 618.0 210.0 639.0 212.0 639.4 212.7 640.0 223.4 656.5 226.0 663.0 226.8 666.5 226.8 695.0 226.5 695.0Z"/>
<path fill="#e3ff14" fill-rule="evenodd" d="M224.0 695.0 209.9 695.0 209.9 666.5 195.5 648.8 192.0 645.7 189.0 644.5 182.5 644.5 182.0 645.0 173.0 645.5 169.0 647.2 164.0 650.2 148.0 662.3 129.5 677.4 121.5 684.5 121.2 685.5 121.6 686.5 113.1 695.0 95.0 695.0 95.0 687.5 102.0 681.3 110.5 675.5 123.0 661.6 155.5 631.7 157.7 630.0 159.0 629.9 159.5 630.4 166.2 630.0 163.9 625.5 159.1 613.5 154.1 599.5 146.1 579.0 132.9 540.0 122.8 503.5 119.0 486.0 116.0 468.5 114.0 452.0 112.9 437.0 112.6 423.0 113.3 407.0 115.4 383.5 117.6 367.0 121.1 350.0 124.6 337.5 128.6 326.0 131.3 320.0 135.3 312.5 141.6 302.5 147.2 295.0 155.5 285.4 161.0 279.8 167.0 274.6 179.0 266.5 185.5 263.1 193.0 260.2 201.5 257.9 210.5 256.4 220.5 255.5 230.0 255.4 244.5 256.8 256.0 259.4 273.0 265.1 289.0 272.3 298.0 277.2 313.0 287.2 325.0 297.2 334.0 306.0 346.3 320.5 356.4 335.0 364.2 349.0 371.3 364.0 377.2 379.5 381.2 393.5 383.5 407.0 384.0 421.0 383.7 428.0 381.8 442.0 378.9 453.5 375.4 462.5 371.8 469.5 365.8 479.0 348.3 502.0 334.5 517.5 302.0 550.0 279.5 569.9 245.5 599.0 238.4 604.5 207.5 634.2 204.0 637.0 206.1 638.5 210.3 644.5 221.1 658.0 222.9 662.0 224.1 666.5 224.0 695.0Z"/>
<path fill="#edff0a" fill-rule="evenodd" d="M221.0 695.0 210.0 695.0 210.0 666.5 195.5 648.6 192.0 645.4 188.5 644.0 182.5 644.0 182.0 644.6 173.0 645.2 169.5 646.7 164.5 649.7 148.5 661.8 129.5 677.3 121.5 684.5 121.2 685.5 121.6 686.5 113.1 695.0 95.0 695.0 95.0 687.5 97.0 685.5 97.5 685.5 106.0 678.4 109.0 676.4 112.0 675.1 121.0 665.3 127.5 659.1 140.0 648.3 155.5 636.0 164.8 630.5 170.5 630.2 171.0 630.6 172.5 630.5 167.0 622.5 159.8 608.0 147.3 578.5 141.7 563.5 133.7 540.0 127.2 518.0 121.4 495.0 117.8 476.5 115.4 460.0 113.8 444.0 113.1 430.0 113.3 415.0 115.2 390.5 117.2 372.5 120.3 356.0 125.0 338.0 128.8 327.0 131.6 320.5 136.2 312.0 142.2 302.5 148.3 294.5 156.0 285.7 167.0 275.4 173.0 271.0 179.5 266.9 186.0 263.5 193.5 260.7 201.5 258.6 210.5 257.1 220.5 256.2 230.0 256.1 239.0 256.6 246.0 257.7 256.0 260.0 272.5 265.5 289.0 272.8 302.0 280.2 313.0 287.7 324.5 297.2 334.0 306.3 345.7 320.0 356.2 335.0 364.1 349.0 371.1 364.0 376.9 379.0 381.0 393.5 383.2 407.0 383.7 421.0 382.8 433.5 381.3 443.0 378.7 453.5 374.6 463.5 369.4 473.0 363.2 482.0 343.7 507.0 334.2 517.5 308.0 543.8 289.5 560.8 245.5 598.1 216.5 621.8 204.6 631.0 197.3 635.0 206.1 645.5 219.0 659.7 220.5 662.5 221.5 666.5 221.5 695.0 221.0 695.0Z"/>
<path fill="#f7f600" fill-rule="evenodd" d="M219.0 695.0 210.1 695.0 210.1 666.5 197.9 651.0 193.0 645.7 189.0 643.6 182.5 643.4 182.0 644.1 174.5 644.5 172.0 645.2 166.5 648.2 160.0 652.7 138.5 669.8 121.4 684.5 121.2 685.5 121.6 686.5 113.1 695.0 95.0 695.0 95.0 694.5 95.0 693.4 122.5 665.3 140.5 650.2 155.5 639.6 161.5 636.1 173.4 631.0 178.1 630.5 170.0 621.0 163.7 610.5 154.1 591.0 145.6 571.0 137.1 548.0 129.2 523.0 122.2 496.0 118.3 477.0 115.8 459.5 114.2 444.0 113.5 430.0 113.7 415.0 115.6 390.5 117.6 372.5 120.7 356.0 125.2 338.5 129.2 327.0 132.1 320.5 135.2 314.5 142.1 303.5 147.3 296.5 156.4 286.0 167.5 275.6 179.5 267.5 186.0 264.1 193.5 261.3 201.5 259.2 210.5 257.7 220.5 256.8 230.0 256.6 239.0 257.2 246.0 258.2 256.0 260.5 272.5 266.0 289.0 273.3 298.0 278.2 312.5 287.7 327.0 299.7 334.5 307.2 346.2 321.0 356.0 335.0 362.1 345.5 370.1 362.0 376.7 379.0 380.7 393.5 382.8 405.5 383.4 421.0 382.3 436.0 380.2 447.0 377.7 455.5 374.1 464.0 368.7 473.5 361.8 483.5 348.8 500.5 338.5 512.5 307.9 543.5 297.5 553.3 277.5 570.8 251.0 592.9 228.0 610.8 215.5 619.8 203.0 627.8 190.8 633.0 196.5 640.5 217.0 661.1 218.1 663.0 219.1 666.5 219.0 695.0Z"/>
<path fill="#ffea00" fill-rule="evenodd" d="M184.5 630.1 172.5 618.5 166.5 609.5 158.4 595.5 147.5 572.0 147.0 572.4 146.8 572.0 147.3 571.5 143.5 562.2 142.8 562.0 143.2 561.5 142.5 559.6 141.9 559.5 142.3 559.0 141.3 558.0 141.7 557.5 141.0 555.7 140.4 555.5 140.7 555.0 139.9 554.0 140.2 553.5 139.5 551.6 139.0 551.5 139.0 550.2 138.5 550.0 138.5 548.8 137.9 548.5 138.2 548.0 137.4 547.0 137.5 546.0 136.8 545.5 137.2 545.0 133.5 534.2 132.9 533.5 133.0 532.7 132.4 532.0 132.6 531.5 131.9 530.5 132.1 530.0 130.4 525.5 130.6 525.0 130.0 524.0 130.2 523.5 125.4 507.5 125.6 507.0 122.9 497.5 120.5 486.5 117.4 469.5 115.0 449.0 113.9 434.0 113.9 418.5 114.4 408.5 116.4 386.0 118.9 366.5 121.4 354.0 125.4 339.0 130.5 325.0 135.9 314.0 144.1 301.5 149.4 294.5 156.5 286.4 166.0 277.4 174.0 271.4 175.0 271.2 175.5 270.5 176.0 270.5 180.5 267.4 182.1 267.0 182.5 266.4 183.0 266.5 187.5 264.0 192.4 262.5 193.0 261.9 199.6 260.5 200.5 259.9 201.0 260.1 202.4 259.5 206.0 259.2 208.5 258.5 209.0 258.7 212.0 258.0 215.6 258.0 218.5 257.4 219.0 257.7 230.0 257.3 235.5 257.7 236.0 257.4 248.0 259.0 249.5 259.7 250.0 259.5 251.5 260.2 252.0 260.0 253.5 260.7 256.0 261.0 257.0 261.6 257.5 261.4 258.3 262.0 261.0 262.5 262.0 263.1 262.5 262.9 265.0 264.1 265.5 263.9 266.2 264.5 267.0 264.4 272.0 266.6 272.5 266.4 273.5 267.2 281.0 269.9 281.5 270.5 290.5 274.4 290.9 275.0 299.5 279.4 309.5 285.9 319.5 293.5 327.5 300.5 334.5 307.5 344.0 318.5 351.5 328.5 359.5 341.0 368.0 357.5 376.5 379.0 379.0 387.5 382.0 401.5 383.1 411.5 383.1 425.5 381.0 442.5 378.5 452.5 375.0 461.5 369.9 471.0 361.1 484.0 350.0 498.5 340.0 510.5 334.0 517.1 307.5 543.6 292.0 558.0 288.1 561.0 288.0 561.6 287.0 562.0 277.5 570.0 277.5 570.6 277.0 570.4 250.6 592.0 231.1 606.5 219.2 614.5 202.0 624.2 184.5 630.1ZM143.5 563.6 143.9 563.5 143.5 563.6ZM144.5 566.1 144.9 566.0 144.5 566.1ZM145.5 568.7 145.9 568.5 145.5 568.7ZM146.5 571.2 146.8 571.0 146.5 571.2ZM148.0 574.8 148.0 574.3 148.4 574.5 148.0 574.8ZM271.0 576.1 270.7 576.0 271.0 575.6 271.0 576.1ZM149.5 578.3 149.5 577.8 149.9 578.0 149.5 578.3ZM268.0 578.6 267.7 578.5 268.0 578.1 268.0 578.6ZM265.0 581.1 265.0 580.6 265.0 581.1ZM151.0 581.7 151.0 581.4 151.0 581.7ZM151.5 582.9 151.5 582.3 151.9 582.5 151.5 582.9ZM153.5 587.3 153.5 586.9 153.5 587.3ZM154.0 588.3 154.0 587.8 154.3 588.0 154.0 588.3ZM256.5 588.1 256.5 587.7 256.5 588.1ZM154.5 589.4 154.5 588.8 154.9 589.0 154.5 589.4ZM155.0 590.5 155.0 589.7 155.4 590.0 155.0 590.5ZM254.0 590.1 254.0 589.7 254.0 590.1ZM251.5 592.1 251.5 591.7 251.5 592.1ZM247.0 595.6 247.0 595.2 247.0 595.6ZM158.0 596.5 158.0 595.7 158.4 596.0 158.0 596.5ZM158.5 597.4 158.5 596.8 158.8 597.0 158.5 597.4ZM159.0 598.4 159.0 597.8 159.0 598.4ZM159.5 599.4 159.5 598.8 159.5 599.4ZM160.0 600.3 160.0 599.9 160.0 600.3ZM160.5 601.3 160.5 600.9 160.5 601.3ZM161.5 603.0 161.2 602.5 161.5 602.3 161.8 602.5 161.5 603.0ZM162.0 603.9 162.0 603.3 162.0 603.9ZM162.5 604.8 162.5 604.4 162.5 604.8ZM163.0 605.7 163.0 605.4 163.0 605.7ZM163.5 606.6 163.1 606.0 163.5 605.8 163.8 606.0 163.5 606.6ZM233.0 606.2 233.0 605.7 233.0 606.2ZM164.0 607.4 164.0 606.8 164.0 607.4ZM164.5 608.2 164.5 607.9 164.5 608.2ZM165.0 609.1 164.6 608.5 165.0 608.3 165.0 609.1ZM229.5 608.7 229.5 608.3 229.5 608.7ZM165.5 609.9 165.5 609.4 165.5 609.9ZM228.0 609.7 228.0 609.2 228.0 609.7ZM166.5 611.4 166.5 610.8 166.5 611.4ZM167.5 612.9 167.2 612.5 167.5 612.3 167.5 612.9ZM222.0 613.8 222.0 613.2 222.4 613.5 222.0 613.8ZM168.5 614.5 168.2 614.0 168.5 613.8 168.5 614.5ZM220.5 614.8 220.5 614.2 220.9 614.5 220.5 614.8ZM169.0 615.2 169.0 614.9 169.0 615.2ZM169.5 616.0 169.2 615.5 169.5 615.3 169.5 616.0ZM219.0 615.7 219.0 615.3 219.3 615.5 219.0 615.7ZM170.0 616.8 170.0 616.4 170.0 616.8ZM170.5 617.5 170.1 617.0 170.5 616.8 170.5 617.5ZM216.5 617.3 216.5 616.8 216.9 617.0 216.5 617.3ZM171.0 618.3 171.0 617.9 171.0 618.3ZM215.0 618.2 215.0 617.8 215.0 618.2ZM171.5 619.1 171.1 618.5 171.5 618.3 171.5 619.1ZM214.0 618.8 214.0 618.3 214.5 618.5 214.0 618.8ZM213.5 619.0 213.0 619.3 212.8 619.0 213.5 619.0ZM211.5 620.2 211.8 620.0 211.5 620.2ZM210.5 620.8 210.5 620.3 210.9 620.5 210.5 620.8ZM210.0 621.0 209.5 621.3 209.3 621.0 210.0 621.0ZM209.0 621.6 208.5 621.9 208.3 621.5 209.0 621.6ZM208.0 622.2 207.5 622.4 207.3 622.0 207.5 621.7 208.3 622.0 208.0 622.2ZM175.0 622.7 174.8 622.5 175.0 622.7ZM207.0 622.7 207.0 622.4 207.4 622.5 207.0 622.7ZM175.5 623.2 175.3 623.0 175.5 623.2ZM206.0 623.3 206.0 622.8 206.5 623.0 206.0 623.3ZM176.0 623.7 175.8 623.5 176.0 623.7ZM205.5 623.6 205.0 623.9 204.8 623.5 205.5 623.6ZM176.5 624.3 176.3 624.0 176.5 624.3ZM204.5 624.1 204.0 624.4 203.8 624.0 204.5 624.1ZM177.0 624.8 176.7 624.5 177.0 624.8ZM203.5 624.7 203.0 625.0 202.8 624.5 203.8 624.5 203.5 624.7ZM177.5 625.3 177.2 625.0 177.5 625.3ZM202.5 625.3 202.5 624.9 202.9 625.0 202.5 625.3ZM178.0 625.8 177.7 625.5 178.0 625.8ZM201.5 625.7 201.0 625.9 200.9 625.5 202.0 625.5 201.5 625.7ZM178.5 626.3 178.2 626.0 178.5 626.3ZM200.5 626.0 199.5 626.4 199.4 626.0 200.5 626.0ZM179.0 626.8 178.7 626.5 179.0 626.8ZM199.0 626.5 198.0 626.9 197.9 626.5 199.0 626.5ZM179.5 627.3 179.2 627.0 179.5 627.3ZM197.5 627.1 196.5 627.4 196.4 627.0 197.5 627.1ZM180.0 627.8 179.7 627.5 180.1 627.5 180.0 627.8ZM196.0 627.6 195.0 627.9 194.9 627.5 196.0 627.6ZM180.5 628.4 180.2 628.0 180.6 628.0 180.5 628.4ZM194.5 628.1 193.5 628.5 193.3 628.0 194.5 628.1ZM181.0 628.9 180.6 628.5 181.1 628.5 181.0 628.9ZM193.0 628.6 192.0 629.0 191.8 628.5 193.3 628.5 193.0 628.6ZM181.5 629.4 181.1 629.0 181.6 629.0 181.5 629.4ZM191.5 629.1 190.5 629.5 190.3 629.0 191.9 629.0 191.5 629.1ZM182.0 629.9 181.6 629.5 182.1 629.5 182.0 629.9ZM216.5 695.0 210.2 695.0 210.2 666.5 197.7 650.5 192.5 644.7 189.0 642.8 183.0 642.5 182.0 643.5 174.5 644.1 172.5 644.7 167.0 647.7 160.5 652.2 138.5 669.7 121.3 684.5 121.6 686.5 113.1 695.0 95.0 695.0 95.0 694.5 124.5 664.9 133.0 657.9 143.5 650.2 157.0 641.8 163.0 638.6 181.5 631.5 182.7 631.0 182.6 630.5 184.0 631.3 184.5 630.8 185.5 630.9 186.0 630.3 187.0 630.4 187.5 629.8 188.5 629.9 189.0 629.3 190.5 629.5 185.2 631.5 189.5 637.3 196.5 645.0 215.2 662.5 216.2 664.0 216.8 666.5 216.8 695.0 216.5 695.0ZM182.5 630.4 182.1 630.0 182.6 630.0 182.5 630.4Z"/>
<path fill="#ffdf00" fill-rule="evenodd" d="M185.5 628.1 184.5 628.2 173.5 617.3 162.5 600.4 154.0 584.2 145.0 563.7 138.5 546.9 131.0 524.6 125.2 504.0 121.0 485.8 117.9 468.5 115.8 451.5 114.6 436.5 114.4 423.0 115.2 407.0 117.4 383.5 119.4 367.5 123.0 350.3 126.3 338.5 130.5 326.7 135.9 315.5 143.5 303.5 152.5 292.0 162.5 281.5 168.0 276.8 174.6 272.0 186.5 265.3 194.0 262.5 202.0 260.4 211.0 258.9 220.5 258.1 230.0 257.9 239.0 258.5 247.5 259.8 263.5 264.1 280.0 270.4 288.9 274.5 304.7 283.5 319.0 294.0 326.5 300.5 339.5 313.9 350.5 328.0 359.8 342.5 367.2 357.0 373.5 372.0 378.6 387.5 381.4 400.5 382.7 411.5 382.7 425.5 381.1 439.5 379.2 449.0 376.0 458.4 371.6 467.5 365.6 477.0 353.1 494.0 338.5 511.6 307.1 543.0 289.0 559.5 272.0 573.5 250.5 590.6 230.5 605.3 218.5 613.2 201.5 622.7 185.5 628.1ZM113.0 695.0 95.0 695.0 95.0 694.5 97.5 691.6 103.5 687.0 122.7 668.0 136.5 657.0 146.5 650.3 158.0 643.9 180.0 634.6 183.0 638.1 182.6 639.0 182.5 642.5 175.0 643.4 172.5 644.2 168.0 646.8 161.0 651.7 139.0 669.3 121.2 684.5 121.6 686.5 113.0 695.0ZM197.0 649.0 197.0 648.5 197.4 649.0 197.0 649.0ZM197.5 649.7 197.5 649.0 198.0 649.5 197.5 649.7ZM198.0 650.4 198.0 649.5 198.5 650.0 198.0 650.4ZM214.5 695.0 210.4 695.0 210.4 666.5 199.5 652.5 198.2 650.5 198.5 650.0 205.1 656.5 213.8 664.0 214.5 665.1 214.5 695.0Z"/>
<path fill="#ffd900" fill-rule="evenodd" d="M186.0 626.1 185.0 626.4 174.9 616.5 163.6 599.5 154.7 583.0 145.4 562.5 137.8 543.0 131.0 522.9 125.6 503.5 121.4 485.5 118.3 468.5 116.2 451.5 115.0 436.5 114.8 423.0 115.6 407.0 117.8 383.5 119.9 367.5 123.4 350.5 126.8 338.5 130.9 327.0 136.5 315.5 144.0 303.6 152.7 292.5 162.7 282.0 168.5 277.0 175.5 272.0 186.5 265.8 194.0 263.0 202.0 260.9 211.0 259.5 221.0 258.6 230.0 258.5 239.0 259.0 247.5 260.3 263.5 264.7 280.0 271.0 296.3 279.0 304.5 284.0 318.9 294.5 326.4 301.0 339.0 314.0 350.0 328.0 359.5 342.8 367.0 357.3 373.2 372.0 378.0 386.6 381.1 400.5 382.5 414.0 382.2 428.0 380.5 441.5 377.6 453.5 373.7 463.0 368.0 473.0 361.0 483.0 348.0 500.0 338.2 511.5 307.0 542.5 294.5 553.9 277.0 568.5 256.0 585.0 235.5 600.0 218.0 611.7 200.5 621.4 186.0 626.1ZM113.0 695.0 95.0 695.0 95.0 694.5 100.5 689.2 101.0 689.2 105.5 685.1 108.0 683.5 123.5 668.6 135.0 659.7 145.0 653.1 153.0 648.6 163.0 643.8 175.5 638.9 177.8 641.5 177.3 642.0 172.5 643.6 166.0 647.8 139.5 668.8 121.2 684.5 121.6 686.5 113.0 695.0ZM204.0 658.1 204.0 657.7 204.3 658.0 204.0 658.1ZM204.5 658.7 204.5 658.2 204.9 658.5 204.5 658.7ZM213.0 695.0 210.5 695.0 210.5 666.5 205.0 659.5 205.0 658.6 212.3 665.0 213.0 666.0 213.0 695.0Z"/>
<path fill="#ffd600" fill-rule="evenodd" d="M186.0 626.1 185.0 626.3 174.9 616.5 163.6 599.5 154.7 583.0 145.4 562.5 137.8 543.0 131.0 522.9 125.6 503.5 121.4 485.5 118.3 468.5 116.2 451.5 115.0 436.5 114.8 423.0 115.6 407.0 117.8 383.5 119.9 367.5 123.4 350.5 126.8 338.5 130.9 327.0 136.5 315.5 144.0 303.6 152.7 292.5 162.7 282.0 168.5 277.0 174.7 272.5 186.5 265.8 194.0 263.0 202.0 260.9 211.0 259.5 221.0 258.6 230.0 258.5 239.0 259.0 247.5 260.3 263.5 264.7 280.0 271.0 296.3 279.0 304.5 284.0 318.9 294.5 326.4 301.0 339.0 314.0 350.0 328.1 359.5 342.8 367.0 357.3 373.2 372.0 378.0 386.6 381.1 400.5 382.5 414.0 382.2 428.0 380.5 441.5 377.6 453.5 373.7 463.0 368.0 473.0 361.0 483.0 348.0 500.0 338.2 511.5 307.0 542.5 294.5 553.9 277.0 568.5 256.0 585.0 235.5 600.0 218.0 611.7 200.5 621.4 186.0 626.1ZM113.0 695.0 95.0 695.0 95.0 694.5 100.5 689.2 101.0 689.2 105.5 685.1 110.0 682.0 114.5 677.0 123.5 668.6 135.5 659.4 145.0 653.2 153.5 648.4 163.0 643.9 174.5 639.0 175.5 638.9 177.7 641.5 177.3 642.0 172.5 643.6 166.0 647.8 139.5 668.8 121.2 684.5 121.6 686.5 113.0 695.0ZM204.0 658.1 204.0 657.7 204.3 658.0 204.0 658.1ZM204.5 658.7 204.5 658.2 204.8 658.5 204.5 658.7ZM213.0 695.0 210.5 695.0 210.5 666.5 205.0 659.5 205.0 658.7 212.9 666.0 213.0 695.0Z"/>
<path fill="#ffd100" fill-rule="evenodd" d="M186.5 625.0 185.0 625.1 175.5 615.8 164.1 599.0 155.1 582.5 146.0 562.7 138.5 543.9 131.2 522.5 126.0 504.0 121.6 485.5 118.5 468.3 116.4 451.5 115.2 436.5 115.0 423.0 115.8 407.0 118.0 383.4 120.1 367.5 123.7 350.5 127.0 338.5 131.1 327.0 136.5 316.0 144.0 304.0 153.0 292.6 163.0 282.1 168.3 277.5 174.5 273.0 186.8 266.0 194.0 263.3 202.0 261.2 211.0 259.7 221.0 258.9 234.0 259.0 247.0 260.5 263.5 265.0 279.3 271.0 289.1 275.5 304.0 284.0 312.0 289.5 326.0 301.0 338.7 314.0 350.0 328.4 359.4 343.0 366.9 357.5 373.0 372.0 377.9 387.0 381.0 400.5 382.4 414.0 382.1 428.0 380.4 441.5 377.5 453.3 373.5 463.0 368.0 472.8 361.0 482.8 347.8 500.0 338.0 511.5 306.6 542.5 294.5 553.6 279.5 566.0 255.5 584.7 235.1 599.5 217.5 611.0 200.3 620.5 186.5 625.0ZM113.0 695.0 95.0 695.0 95.0 694.5 100.5 689.2 101.0 689.2 105.5 685.2 111.3 681.0 123.8 669.0 135.0 660.5 151.5 650.4 173.1 640.5 174.0 641.7 173.5 642.5 164.5 648.8 150.0 660.2 130.0 676.6 121.1 684.5 121.6 686.5 113.0 695.0ZM207.0 661.7 207.0 661.3 207.0 661.7ZM212.0 695.0 210.6 695.0 210.6 666.5 207.5 662.5 207.5 661.8 211.7 665.5 212.3 666.5 212.0 695.0Z"/>
<path fill="#ffcb00" fill-rule="evenodd" d="M186.5 624.1 185.5 624.3 176.0 615.0 164.7 598.5 154.5 580.0 146.2 562.0 137.0 538.9 131.1 521.5 126.1 503.5 121.8 485.5 118.7 468.0 116.6 451.5 115.4 436.5 115.2 423.0 116.0 407.0 118.2 383.5 120.3 367.5 123.9 350.5 127.3 338.5 131.4 327.0 136.8 316.0 144.4 304.0 153.0 293.0 163.0 282.5 168.5 277.7 175.0 273.0 187.0 266.2 194.0 263.6 202.0 261.5 211.0 260.0 221.0 259.2 230.5 259.1 239.0 259.6 247.0 260.8 263.5 265.3 279.5 271.4 288.5 275.5 304.0 284.3 318.1 294.5 326.0 301.3 338.5 314.1 349.8 328.5 359.2 343.0 366.5 357.2 373.0 372.5 377.8 387.0 380.8 400.5 382.2 414.0 382.0 428.0 380.3 441.5 377.5 453.0 373.4 463.0 368.0 472.6 361.0 482.6 347.7 500.0 338.0 511.3 306.5 542.3 294.2 553.5 279.5 565.5 255.0 584.4 234.0 599.5 217.0 610.3 200.0 619.6 186.5 624.1ZM113.0 695.0 95.0 695.0 95.0 694.5 97.5 691.8 105.5 685.2 113.0 680.0 115.0 677.5 124.0 669.4 135.5 660.9 151.5 651.3 170.5 642.5 171.2 642.5 170.9 643.5 169.8 644.5 140.5 667.9 121.1 684.5 121.6 686.5 113.0 695.0ZM209.5 664.8 209.5 664.3 209.5 664.8ZM211.5 695.0 210.8 695.0 210.8 666.5 209.7 665.0 210.0 664.8 211.6 666.5 211.5 695.0Z"/>
<path fill="#ffc500" fill-rule="evenodd" d="M186.5 623.1 185.5 623.0 177.2 615.0 171.0 606.5 162.3 593.0 153.5 576.7 146.5 561.6 137.2 538.5 131.5 521.8 126.3 503.5 122.1 485.5 118.9 468.0 116.8 451.5 115.7 436.5 115.4 423.0 116.2 407.0 118.5 383.0 120.6 367.5 124.2 350.5 127.5 338.7 131.5 327.5 137.0 316.1 144.5 304.3 153.0 293.4 163.4 282.5 168.6 278.0 175.0 273.3 187.0 266.5 194.0 263.9 202.0 261.8 211.0 260.3 221.0 259.5 232.3 259.5 239.0 259.9 247.0 261.2 263.0 265.5 279.5 271.7 294.5 279.0 304.0 284.6 318.5 295.2 326.0 301.7 338.5 314.5 349.5 328.5 358.9 343.0 366.4 357.5 372.6 372.0 377.6 387.0 380.6 400.5 382.1 414.0 381.8 428.0 380.1 441.5 377.3 453.0 373.2 463.0 367.9 472.5 361.0 482.4 347.5 500.0 338.0 511.1 306.5 542.0 294.0 553.2 281.0 563.9 254.5 584.0 233.5 599.0 216.8 609.5 199.5 618.9 186.5 623.1ZM113.0 695.0 95.0 695.0 95.0 694.5 97.5 691.8 105.5 685.3 113.8 679.5 124.5 669.6 134.5 662.3 151.0 652.4 168.0 644.4 168.9 644.5 131.0 675.7 121.1 684.5 121.6 686.5 113.0 695.0ZM211.0 695.0 211.0 666.3 211.0 695.0Z"/>
<path fill="#ffc000" fill-rule="evenodd" d="M186.5 622.1 186.0 622.1 178.0 614.4 171.5 605.7 163.0 592.8 153.8 576.0 146.5 560.5 137.5 538.4 131.7 521.5 126.6 503.5 122.3 485.5 119.1 468.0 117.1 451.5 115.9 436.5 115.6 423.0 116.4 407.0 118.7 383.5 120.8 367.5 124.4 350.5 127.7 339.0 131.8 327.5 137.4 316.0 145.0 304.1 153.5 293.3 163.5 282.8 169.0 278.1 175.3 273.5 187.0 266.9 194.5 264.1 202.5 262.0 212.7 260.5 221.0 259.8 230.0 259.7 239.0 260.3 247.0 261.5 263.0 265.8 279.3 272.0 294.8 279.5 304.0 285.0 318.5 295.5 326.0 302.0 338.2 314.5 349.5 328.9 358.7 343.0 366.2 357.5 372.5 372.3 377.4 387.0 380.5 400.5 381.9 414.0 381.7 428.0 380.0 441.5 377.2 453.0 373.1 463.0 367.7 472.5 361.0 482.1 347.5 499.7 337.5 511.4 306.1 542.0 294.0 552.8 281.0 563.4 254.5 583.3 231.4 599.5 216.5 608.8 199.0 618.0 186.5 622.1ZM166.5 646.2 166.1 646.0 166.5 645.8 166.5 646.2ZM113.0 695.0 95.0 695.0 95.0 694.5 97.5 691.9 98.0 691.9 105.5 685.3 112.5 680.2 115.0 679.0 115.5 678.1 124.5 670.2 132.5 664.3 148.0 654.8 166.0 646.0 166.3 646.5 164.2 648.5 131.5 675.3 121.0 684.5 121.6 686.5 113.0 695.0Z"/>
<path fill="#ffba00" fill-rule="evenodd" d="M186.5 621.0 178.5 613.5 169.7 601.5 161.0 588.1 154.2 575.5 147.0 560.4 137.9 538.5 132.0 521.6 126.9 503.5 122.6 485.5 119.4 468.0 117.3 451.5 116.1 436.5 115.9 423.0 116.7 407.0 118.9 383.5 121.0 368.0 124.5 351.3 128.0 339.0 132.1 327.5 137.5 316.4 145.1 304.5 153.5 293.7 163.7 283.0 169.0 278.5 175.9 273.5 187.5 267.0 194.5 264.4 202.5 262.4 211.5 260.9 221.0 260.1 230.0 260.0 239.0 260.6 247.0 261.8 263.0 266.2 279.5 272.4 295.1 280.0 303.5 285.0 318.0 295.5 325.5 301.9 338.0 314.7 349.3 329.0 358.5 343.2 366.0 357.6 372.4 372.5 377.2 387.0 380.3 400.5 381.7 414.0 381.5 428.0 379.8 441.5 377.0 453.0 373.0 462.8 367.6 472.5 360.5 482.6 347.5 499.5 337.5 511.1 325.5 523.2 306.0 541.8 293.5 552.9 280.5 563.2 254.0 582.9 229.4 600.0 216.0 608.2 198.8 617.0 186.5 621.0ZM164.5 647.7 164.5 647.4 164.5 647.7ZM113.0 695.0 95.0 695.0 95.0 694.5 97.5 691.9 98.0 691.9 105.5 685.4 112.5 680.3 115.3 679.0 124.8 670.5 132.0 665.3 146.5 656.4 164.0 647.7 164.3 648.0 161.5 650.5 131.5 675.2 121.0 684.5 121.6 686.5 113.0 695.0Z"/>
<path fill="#ffb400" fill-rule="evenodd" d="M187.5 619.6 186.5 619.7 179.4 613.0 170.5 601.2 161.5 587.5 154.8 575.5 147.0 559.2 138.0 537.7 132.3 521.5 127.1 503.5 122.8 485.5 119.6 468.0 117.5 451.5 116.4 436.5 116.1 423.0 116.9 407.0 119.2 383.5 121.3 368.0 125.0 350.5 128.3 339.0 132.4 327.5 137.8 316.5 145.4 304.5 154.0 293.6 164.0 283.2 169.5 278.5 176.5 273.5 187.5 267.4 194.5 264.8 202.5 262.7 214.6 261.0 230.0 260.4 239.0 261.0 247.0 262.2 263.0 266.6 279.0 272.6 288.6 277.0 303.5 285.4 317.5 295.5 325.5 302.3 337.9 315.0 349.0 329.0 358.4 343.5 366.0 358.0 372.1 372.5 377.0 387.0 380.1 400.5 381.6 414.0 381.4 427.5 379.7 441.5 376.8 453.0 373.0 462.5 367.5 472.3 360.5 482.3 347.3 499.5 337.5 510.9 326.0 522.5 306.0 541.4 293.5 552.4 280.5 562.7 253.5 582.4 229.5 599.0 220.7 604.5 210.0 610.4 198.0 616.2 187.5 619.6ZM162.5 649.2 162.5 648.9 162.5 649.2ZM113.0 695.0 95.0 695.0 95.0 694.5 105.5 685.5 112.5 680.4 115.5 679.1 125.0 670.9 132.5 665.5 147.0 656.8 162.0 649.2 162.3 649.5 129.5 676.9 121.0 684.5 121.6 686.5 113.0 695.0Z"/>
<path fill="#ffaf00" fill-rule="evenodd" d="M187.0 618.6 180.0 612.0 171.0 600.5 162.0 587.0 155.0 574.4 147.0 557.9 138.5 537.9 132.5 521.2 127.4 503.5 123.0 485.1 119.9 468.0 117.8 451.5 116.6 436.5 116.3 423.0 117.1 407.0 119.4 383.5 121.6 368.0 125.2 351.0 128.6 339.0 132.5 328.0 138.0 316.8 145.5 305.0 154.0 294.1 164.1 283.5 169.5 278.9 175.5 274.5 187.5 267.7 194.5 265.1 202.5 263.1 212.9 261.5 221.0 260.8 230.0 260.7 238.5 261.3 247.0 262.5 263.0 267.0 279.0 273.0 287.9 277.0 303.0 285.5 317.0 295.5 325.2 302.5 337.5 315.0 349.0 329.5 358.1 343.5 365.5 357.6 371.9 372.5 376.8 387.0 380.0 401.0 381.4 414.0 381.2 427.5 379.5 441.5 376.7 453.0 372.8 462.5 367.5 472.1 360.5 482.1 347.0 499.6 337.1 511.0 325.0 523.2 305.5 541.5 293.0 552.4 280.0 562.5 246.5 586.5 227.3 599.5 209.5 609.7 197.5 615.2 187.0 618.6ZM160.0 651.3 159.6 651.0 160.0 650.8 160.4 651.0 160.0 651.3ZM113.0 695.0 100.5 695.0 115.5 680.0 116.0 679.0 126.0 670.7 139.5 661.8 159.5 651.1 159.9 651.5 157.1 654.0 129.5 676.8 121.0 684.4 121.6 686.5 113.0 695.0Z"/>
<path fill="#ffa900" fill-rule="evenodd" d="M188.0 617.1 187.0 617.1 181.1 611.5 172.0 600.3 163.0 587.1 156.0 574.9 148.5 559.9 139.0 538.0 133.0 521.7 127.7 503.5 123.4 485.5 120.1 468.0 118.0 451.5 116.8 436.5 116.6 423.0 117.4 407.0 119.7 384.0 121.9 368.0 125.5 351.0 128.9 339.0 133.0 327.7 138.5 316.5 145.9 305.0 154.5 294.1 164.5 283.6 169.9 279.0 176.2 274.5 187.5 268.1 194.5 265.5 202.5 263.4 211.5 262.0 221.0 261.2 230.5 261.1 238.5 261.6 246.5 262.9 262.5 267.2 279.0 273.4 294.8 281.0 303.0 285.9 317.1 296.0 325.0 302.7 337.5 315.4 348.5 329.3 358.0 343.8 365.4 358.0 371.7 372.5 376.6 387.0 379.8 401.0 381.2 414.0 381.0 427.8 379.3 441.5 376.5 453.0 372.5 462.8 367.3 472.0 360.0 482.5 347.0 499.3 337.0 510.8 325.0 522.9 305.6 541.0 293.0 552.0 280.0 562.0 246.0 586.0 226.5 599.0 209.0 608.9 197.0 614.2 188.0 617.1ZM158.5 652.5 158.0 652.9 157.8 652.5 158.5 652.5ZM113.0 695.0 100.8 695.0 116.5 679.0 126.0 671.3 141.5 661.2 157.5 652.6 158.0 653.0 129.5 676.8 121.0 684.4 121.6 686.5 113.0 695.0Z"/>
<path fill="#ffa300" fill-rule="evenodd" d="M188.5 615.6 187.5 615.9 182.0 610.7 172.9 600.0 163.6 586.5 156.5 574.5 149.0 559.7 139.5 538.2 134.0 523.6 129.5 508.9 125.5 493.6 121.5 474.6 119.0 457.6 117.1 437.0 116.9 423.0 117.5 409.2 121.3 373.0 124.4 357.0 127.4 345.0 131.2 333.5 135.7 322.5 142.2 311.0 150.0 300.1 155.0 294.0 164.6 284.0 170.5 279.0 181.5 271.7 188.0 268.3 195.0 265.7 204.4 263.5 220.5 261.6 230.0 261.5 239.0 262.1 247.0 263.3 263.0 267.8 279.0 273.8 295.0 281.5 310.0 291.0 322.5 301.0 331.1 309.0 343.0 322.5 353.5 337.0 361.5 350.7 368.5 365.4 374.1 380.0 378.2 394.0 380.5 407.5 381.1 421.0 380.0 435.7 378.0 446.9 376.3 453.0 372.5 462.5 367.0 472.2 356.0 487.5 342.0 505.0 332.3 515.5 320.5 526.9 299.5 546.0 286.5 556.6 239.0 589.8 225.5 598.6 213.5 605.6 197.0 613.1 188.5 615.6ZM113.0 695.0 101.5 695.0 116.0 680.5 116.5 679.5 126.0 671.8 138.0 663.8 156.5 653.8 155.0 655.5 129.5 676.7 121.0 684.4 121.5 686.5 113.0 695.0Z"/>
<path fill="#ff9e00" fill-rule="evenodd" d="M188.0 614.5 182.8 610.0 170.7 595.5 162.5 583.2 154.5 569.2 146.5 553.0 137.5 532.1 133.5 521.0 128.2 503.0 123.8 485.0 120.7 468.0 118.6 451.5 117.4 436.5 117.1 423.0 117.9 407.0 120.2 384.0 122.4 368.0 126.0 351.5 129.5 339.4 133.6 328.0 139.0 317.1 146.4 305.5 155.0 294.6 165.0 284.2 170.0 279.9 176.0 275.5 188.0 268.7 195.0 266.1 202.5 264.2 211.5 262.8 221.0 262.0 231.9 262.0 238.5 262.4 246.5 263.7 262.5 268.0 278.5 274.0 289.3 279.0 302.6 286.5 317.0 296.8 324.5 303.2 337.0 315.8 348.0 329.6 357.5 344.0 365.0 358.3 371.3 373.0 376.2 387.5 379.3 401.0 380.8 414.0 380.6 427.5 379.0 441.2 376.1 453.0 372.3 462.5 366.9 472.0 360.0 481.9 346.5 499.3 336.8 510.5 325.5 521.8 307.5 538.5 293.0 551.0 283.0 558.6 245.4 584.5 226.5 596.9 218.0 602.0 208.0 607.2 196.5 612.2 188.0 614.5ZM154.5 655.6 154.0 655.5 154.5 655.2 154.5 655.6ZM113.0 695.0 101.7 695.0 117.0 679.5 126.0 672.3 138.0 664.4 154.0 655.5 154.2 656.0 152.5 657.5 121.0 684.3 121.5 686.5 113.0 695.0Z"/>
<path fill="#ff9800" fill-rule="evenodd" d="M190.0 612.6 188.0 612.9 183.9 609.5 177.1 602.0 168.0 590.1 158.5 575.0 150.5 560.0 141.0 539.4 136.0 527.0 131.0 511.8 126.2 494.0 122.3 476.0 119.7 459.0 117.7 437.0 117.4 423.0 118.0 410.0 121.9 373.0 125.0 357.1 128.0 345.4 132.0 333.2 136.5 322.6 142.8 311.5 151.0 300.0 156.5 293.5 165.2 284.5 171.2 279.5 182.0 272.3 188.4 269.0 195.0 266.6 203.3 264.5 211.5 263.2 219.8 262.5 230.0 262.3 239.0 263.0 246.5 264.1 254.5 266.1 269.9 271.0 286.5 278.0 295.0 282.4 310.0 291.9 322.0 301.5 330.6 309.5 342.5 322.9 352.8 337.0 361.0 351.0 368.0 365.5 373.6 380.0 377.7 394.0 380.1 407.5 380.7 421.0 379.7 435.0 378.0 445.1 375.9 453.0 372.1 462.5 366.7 472.0 356.0 486.9 341.5 504.9 332.0 515.2 322.0 524.8 302.5 542.5 287.5 554.7 238.0 588.4 224.5 597.1 212.5 603.9 196.0 611.2 190.0 612.6ZM152.5 657.2 152.1 657.0 152.5 656.7 152.5 657.2ZM113.0 695.0 102.0 695.0 117.0 679.9 126.4 672.5 138.5 664.7 152.0 657.1 152.3 657.5 150.0 659.5 121.0 684.3 121.5 686.5 113.0 695.0Z"/>
<path fill="#ff9200" fill-rule="evenodd" d="M189.5 611.6 188.5 611.8 184.5 608.5 175.5 598.4 166.0 585.5 158.5 573.5 150.5 558.6 140.7 537.5 135.5 524.5 131.0 510.5 126.5 493.7 122.5 475.2 120.0 458.8 118.0 437.4 117.7 425.5 118.0 414.5 119.5 396.5 122.0 374.8 124.5 360.9 128.3 345.5 132.1 334.0 136.7 323.0 143.3 311.5 151.0 300.7 156.0 294.7 165.5 284.8 171.2 280.0 182.0 272.8 188.5 269.4 195.5 266.9 203.0 265.0 211.5 263.6 219.1 263.0 230.0 262.8 238.5 263.3 247.0 264.7 262.8 269.0 278.5 274.8 294.5 282.5 309.5 292.0 321.5 301.5 330.5 309.9 342.2 323.0 352.5 337.1 360.7 351.0 367.7 365.5 373.5 380.5 377.5 394.3 379.8 407.5 380.5 420.5 379.5 435.0 377.5 446.5 375.7 453.0 371.8 462.5 366.5 472.0 355.5 487.2 341.5 504.6 331.9 515.0 321.5 525.0 302.0 542.5 287.0 554.5 237.5 587.7 224.0 596.3 212.0 603.0 196.0 610.0 189.5 611.6ZM150.5 658.8 150.2 658.5 151.0 658.5 150.5 658.8ZM113.0 695.0 102.0 695.0 106.7 691.0 117.4 680.0 126.5 672.9 139.0 664.9 150.0 658.6 150.4 659.0 121.0 684.3 121.5 686.5 113.0 695.0Z"/>
<path fill="#ff8d00" fill-rule="evenodd" d="M191.0 610.0 188.5 610.3 185.5 607.9 179.0 600.8 170.0 589.5 159.5 573.5 151.5 559.1 141.5 538.1 136.5 526.0 131.8 512.0 126.9 494.0 123.0 476.1 120.4 459.5 118.7 443.5 118.0 430.0 118.3 415.5 119.6 398.5 122.0 377.3 124.5 362.5 128.5 346.2 132.5 334.0 137.0 323.3 143.4 312.0 149.4 303.5 156.3 295.0 166.0 285.0 172.0 280.0 182.5 273.0 188.5 269.9 195.5 267.4 203.0 265.5 212.7 264.0 229.5 263.2 238.5 263.8 246.5 265.0 262.9 269.5 278.5 275.3 294.5 283.0 309.5 292.5 321.5 302.0 330.2 310.0 342.0 323.3 352.4 337.5 360.5 351.3 367.3 365.5 373.2 380.5 377.3 394.5 379.6 407.5 380.2 420.5 379.3 435.0 377.5 445.4 375.5 453.0 371.6 462.5 366.5 471.6 355.5 486.9 341.5 504.3 331.6 515.0 322.0 524.1 298.0 545.4 287.5 553.6 277.5 560.5 236.1 587.5 219.0 598.0 206.3 604.5 195.0 609.1 191.0 610.0ZM148.5 660.5 148.0 661.0 147.5 660.5 149.0 659.7 148.5 660.5ZM113.0 695.0 102.1 695.0 106.9 691.0 117.5 680.3 126.5 673.4 140.0 664.8 147.5 660.5 148.0 661.0 121.0 684.2 121.5 686.5 113.0 695.0Z"/>
<path fill="#ff8700" fill-rule="evenodd" d="M190.0 609.0 189.0 609.1 186.4 607.0 174.4 593.5 165.0 580.5 157.0 567.6 148.9 552.5 140.5 534.5 135.0 520.6 131.0 507.8 127.0 492.8 123.0 474.2 120.5 457.6 118.6 436.5 118.3 423.0 119.0 409.0 122.9 373.5 126.0 357.4 129.1 345.5 132.9 334.0 137.5 323.2 143.9 312.0 151.0 302.1 156.5 295.4 166.1 285.5 172.1 280.5 182.6 273.5 189.0 270.2 195.5 267.9 203.5 265.9 218.5 264.0 230.0 263.7 238.5 264.3 246.6 265.5 264.4 270.5 278.0 275.6 294.5 283.5 309.0 292.6 321.5 302.5 330.0 310.4 341.7 323.5 352.0 337.5 360.0 351.0 367.2 366.0 372.9 380.5 377.0 394.5 379.3 407.5 380.0 421.0 379.0 435.3 377.0 446.7 375.4 452.5 371.5 462.2 366.0 472.0 355.5 486.5 341.0 504.5 331.5 514.8 321.0 524.7 296.5 546.1 286.0 554.0 277.0 560.1 229.5 590.5 217.0 597.9 203.5 604.4 194.5 608.0 190.0 609.0ZM147.5 661.1 147.5 660.8 147.5 661.1ZM113.0 695.0 102.1 695.0 111.2 687.5 117.8 680.5 124.0 675.7 132.5 669.8 147.0 661.2 147.2 661.5 145.5 663.0 121.0 684.2 121.5 686.5 113.0 695.0Z"/>
<path fill="#ff8100" fill-rule="evenodd" d="M190.5 607.6 189.5 607.8 187.5 606.3 175.1 592.5 165.5 579.5 158.0 567.6 149.5 552.1 142.0 536.6 136.5 523.4 132.0 509.8 127.6 493.5 123.5 475.0 121.0 458.9 119.0 438.0 118.6 425.5 119.0 414.0 120.5 396.5 123.0 375.3 125.5 361.5 129.5 345.5 133.4 334.0 137.8 323.5 144.1 312.5 152.0 301.5 157.0 295.5 166.5 285.8 172.0 281.2 182.7 274.0 189.0 270.8 195.5 268.4 203.5 266.4 218.1 264.5 230.0 264.2 238.5 264.7 246.5 266.0 263.0 270.5 278.0 276.1 294.0 283.7 308.8 293.0 321.5 303.0 329.6 310.5 341.5 323.8 351.9 338.0 359.9 351.5 366.9 366.0 372.6 380.5 376.7 394.5 379.0 407.5 379.7 420.5 378.8 435.0 377.0 445.5 375.0 453.0 371.3 462.0 366.1 471.5 355.2 486.5 341.5 503.6 331.4 514.5 322.0 523.4 297.5 544.7 288.0 552.0 279.0 558.0 229.2 589.5 218.2 596.0 205.5 602.3 194.0 606.8 190.5 607.6ZM145.0 663.2 144.5 663.0 145.0 662.7 145.3 663.0 145.0 663.2ZM113.0 695.0 102.2 695.0 111.4 687.5 118.0 680.7 123.0 676.9 131.0 671.2 144.5 663.0 144.8 663.5 121.0 684.2 120.8 684.5 121.5 686.5 113.0 695.0Z"/>
<path fill="#ff7c00" fill-rule="evenodd" d="M191.5 606.0 190.0 606.4 188.6 605.5 178.0 594.0 169.5 583.3 160.0 569.2 151.5 554.3 142.6 536.5 137.0 523.4 132.9 511.5 128.0 493.5 124.1 476.0 121.4 459.5 119.7 443.5 119.0 430.0 119.3 415.5 123.0 378.0 125.5 363.4 128.3 351.5 131.7 340.0 136.0 328.5 141.3 318.0 148.4 307.0 157.0 296.2 163.5 289.4 172.0 281.8 178.0 277.5 189.0 271.4 196.0 268.8 203.5 266.9 218.1 265.0 230.0 264.7 238.5 265.2 246.5 266.5 262.9 271.0 277.8 276.5 293.6 284.0 308.5 293.3 318.5 301.0 329.5 311.0 341.1 324.0 351.5 338.0 359.5 351.5 366.6 366.0 372.2 380.5 376.4 394.5 378.7 407.5 379.5 420.5 378.5 435.2 376.5 446.7 374.9 452.5 371.1 462.0 365.8 471.5 355.0 486.4 342.5 502.0 331.5 514.0 322.0 523.0 297.5 544.1 281.0 556.0 220.3 593.5 205.0 601.1 191.5 606.0ZM143.5 664.5 143.0 664.9 142.6 664.5 144.0 663.8 143.5 664.5ZM113.0 695.0 102.2 695.0 109.0 689.1 113.5 686.0 118.1 681.0 122.5 677.6 129.5 672.6 142.5 664.6 142.9 665.0 121.0 684.1 120.7 684.5 121.5 686.5 113.0 695.0Z"/>
<path fill="#ff7600" fill-rule="evenodd" d="M192.0 604.5 190.5 604.9 189.6 604.5 177.5 591.5 167.5 578.6 159.5 566.6 151.0 551.8 143.0 535.9 137.5 523.3 133.4 511.5 128.4 493.5 124.5 476.0 121.8 459.0 120.1 443.5 119.4 430.0 119.6 415.5 121.0 399.0 123.4 378.0 126.0 363.0 128.7 351.5 132.0 340.5 136.3 329.0 141.5 318.5 148.6 307.5 157.4 296.5 163.6 290.0 172.0 282.4 178.0 278.1 189.0 272.0 196.0 269.4 203.5 267.4 218.4 265.5 230.0 265.2 238.5 265.8 246.5 267.0 262.7 271.5 277.5 276.9 293.5 284.5 308.5 293.9 321.9 304.5 329.5 311.6 341.0 324.5 351.0 338.0 359.4 352.0 366.4 366.5 372.0 380.8 376.0 394.5 378.4 407.5 379.2 420.5 378.2 435.0 376.5 445.3 374.6 452.5 370.8 462.0 365.5 471.4 355.0 486.0 343.0 501.0 331.5 513.6 322.0 522.6 297.5 543.5 283.0 554.0 220.5 592.0 207.0 598.8 192.0 604.5ZM142.0 665.6 141.6 665.5 142.0 665.2 142.0 665.6ZM113.0 695.0 102.2 695.0 109.0 689.2 113.5 686.1 118.5 681.1 123.0 677.7 129.0 673.4 141.5 665.6 141.1 666.5 121.0 684.1 120.7 684.5 121.5 686.5 113.0 695.0Z"/>
<path fill="#ff7000" fill-rule="evenodd" d="M192.0 603.1 190.5 603.3 178.5 590.5 168.0 577.3 160.0 565.5 151.8 551.5 143.0 534.4 137.5 521.8 133.5 510.1 128.9 493.5 124.9 476.0 122.2 459.0 120.5 443.5 119.8 430.0 120.0 415.5 121.5 398.5 123.9 378.0 126.5 363.0 129.2 351.5 132.5 340.5 137.0 328.6 142.1 318.5 149.3 307.5 157.7 297.0 164.0 290.3 172.5 282.7 178.4 278.5 189.5 272.3 196.0 269.9 203.5 268.0 218.0 266.1 230.0 265.7 238.5 266.4 246.0 267.5 253.5 269.3 268.3 274.0 284.3 280.5 293.3 285.0 308.0 294.1 320.0 303.5 328.8 311.5 340.5 324.5 350.9 338.5 358.9 352.0 366.0 366.5 371.7 381.0 375.7 394.5 378.1 407.5 378.9 420.5 378.0 434.5 376.0 446.3 374.3 452.5 370.5 461.9 365.4 471.0 355.0 485.6 343.5 500.0 332.5 512.1 322.0 522.1 298.0 542.5 283.0 553.2 220.0 590.9 208.0 596.9 192.0 603.1ZM140.0 667.2 139.6 667.0 140.0 666.7 140.0 667.2ZM113.0 695.0 102.3 695.0 109.0 689.2 116.5 684.0 118.5 681.4 122.0 678.8 139.5 667.1 139.7 667.5 121.0 684.1 120.7 684.5 121.5 686.5 113.0 695.0Z"/>
<path fill="#ff6b00" fill-rule="evenodd" d="M192.0 601.5 191.0 601.6 176.5 586.1 168.9 576.5 160.0 563.6 152.5 551.0 143.0 532.9 138.0 521.6 134.0 510.0 129.4 493.5 125.4 476.0 122.6 459.0 120.9 443.5 120.2 430.0 120.5 415.5 121.9 398.5 124.3 378.0 126.5 365.2 129.6 352.0 133.0 340.5 137.2 329.5 142.5 318.9 149.6 308.0 158.0 297.5 164.1 291.0 173.0 283.0 178.5 279.1 189.5 273.0 196.2 270.5 204.0 268.5 217.0 266.8 230.0 266.3 238.5 267.0 246.0 268.1 253.5 269.9 268.0 274.5 284.0 281.0 293.0 285.5 307.6 294.5 318.0 302.5 328.5 311.9 340.0 324.6 350.4 338.5 358.5 352.1 365.6 366.5 371.3 381.0 375.3 394.5 377.7 407.5 378.5 420.5 377.5 435.7 375.6 446.5 374.0 452.4 370.4 461.5 365.1 471.0 354.0 486.4 340.5 503.0 330.5 513.7 321.0 522.5 296.5 543.0 282.5 552.7 255.0 568.4 219.5 589.6 207.5 595.6 192.0 601.5ZM139.0 668.0 138.6 668.0 139.0 668.0ZM138.5 668.5 138.0 668.9 137.8 668.5 138.5 668.2 138.5 668.5ZM137.5 669.3 137.0 669.0 137.5 668.7 138.0 669.0 137.5 669.3ZM113.0 695.0 102.3 695.0 109.0 689.3 116.5 684.1 119.0 681.4 128.0 674.8 137.0 669.0 137.4 669.5 121.0 684.0 120.7 684.5 121.5 686.5 113.0 695.0Z"/>
<path fill="#ff6500" fill-rule="evenodd" d="M193.0 599.5 191.5 599.8 178.0 585.6 170.0 575.8 161.0 563.2 153.5 550.9 143.5 532.3 138.5 521.2 134.5 509.8 129.7 493.0 125.7 475.5 123.1 459.0 121.4 443.5 120.7 430.0 120.9 415.5 122.4 398.5 124.8 378.5 127.0 365.3 130.1 352.0 133.5 340.8 137.8 329.5 143.0 319.2 150.0 308.4 155.5 301.3 163.5 292.4 171.0 285.5 179.0 279.5 190.0 273.5 196.5 271.1 204.0 269.2 215.9 267.5 229.5 267.0 238.0 267.5 246.0 268.8 261.6 273.0 277.0 278.6 292.7 286.0 307.3 295.0 319.0 304.0 328.0 312.1 339.7 325.0 350.0 338.8 358.0 352.0 365.1 366.5 370.9 381.0 375.0 394.9 377.3 407.5 378.1 420.5 377.3 434.5 376.0 442.9 373.8 452.0 370.0 461.5 365.0 470.5 355.5 484.0 344.5 497.9 334.5 509.2 322.0 521.2 297.5 541.5 282.5 551.9 255.0 567.1 218.5 588.6 207.0 594.2 193.0 599.5ZM137.0 669.6 136.7 669.5 137.0 669.3 137.0 669.6ZM113.0 695.0 102.4 695.0 109.0 689.3 117.4 683.5 119.3 681.5 136.5 669.6 136.1 670.5 121.0 684.0 120.6 684.5 121.5 686.5 113.0 695.0Z"/>
<path fill="#ff5f00" fill-rule="evenodd" d="M193.5 597.6 192.0 598.0 179.1 584.5 170.5 574.2 161.5 561.8 154.0 549.9 144.5 532.6 139.5 522.0 135.5 511.0 130.3 493.0 126.3 475.5 123.6 459.0 121.9 443.5 121.1 430.0 121.4 415.5 125.0 380.6 127.0 368.0 130.7 352.0 134.0 341.0 138.2 330.0 143.5 319.5 150.5 308.8 156.5 301.1 164.0 292.8 172.0 285.5 179.5 280.0 190.4 274.0 196.5 271.8 204.0 269.8 217.0 268.1 229.5 267.7 238.0 268.2 246.0 269.5 261.0 273.5 276.5 279.1 292.5 286.6 307.0 295.5 319.9 305.5 327.6 312.5 339.4 325.5 349.6 339.0 357.5 352.1 364.9 367.0 370.5 381.1 374.6 395.0 376.9 407.5 377.7 420.5 376.9 434.5 375.0 445.9 373.4 452.0 369.6 461.5 364.6 470.5 355.5 483.4 344.0 497.9 334.0 509.2 321.6 521.0 297.2 541.0 282.5 550.9 254.0 566.3 218.0 587.2 206.0 592.9 193.5 597.6ZM135.0 671.2 135.0 670.8 135.3 671.0 135.0 671.2ZM134.5 671.8 134.0 671.5 134.5 671.2 134.8 671.5 134.5 671.8ZM113.0 695.0 102.4 695.0 113.0 686.3 118.5 683.1 119.5 681.7 134.0 671.5 134.3 672.0 120.9 684.0 120.6 684.5 121.5 686.5 113.0 695.0Z"/>
<path fill="#ff5a00" fill-rule="evenodd" d="M194.0 595.6 192.5 596.0 180.5 583.6 170.5 571.9 161.5 559.7 153.5 547.0 144.5 530.9 139.5 520.2 136.0 510.5 130.9 493.0 126.8 475.5 124.1 459.0 122.4 443.5 121.7 430.0 121.9 415.5 125.5 381.0 127.5 368.5 131.2 352.5 134.7 341.0 138.9 330.0 144.0 320.0 151.0 309.2 157.0 301.6 164.5 293.3 171.3 287.0 179.5 280.9 190.5 274.8 197.0 272.4 204.4 270.5 217.0 268.8 229.5 268.4 238.0 268.9 245.5 270.1 261.7 274.5 276.5 279.9 292.0 287.1 306.6 296.0 319.0 305.5 327.2 313.0 339.0 325.9 349.3 339.5 357.4 353.0 364.4 367.0 370.1 381.5 374.2 395.0 376.5 407.5 377.3 420.5 376.5 434.5 374.5 446.3 372.9 452.0 369.4 461.0 364.2 470.5 355.0 483.5 344.0 497.4 334.0 508.6 321.5 520.5 299.4 538.5 290.5 545.0 283.5 549.4 253.5 565.2 217.1 586.0 205.1 591.5 194.0 595.6ZM134.0 672.1 133.7 672.0 134.0 672.1ZM112.0 695.0 102.4 695.0 113.0 686.4 118.5 683.3 119.5 682.0 122.5 679.8 133.5 672.2 120.9 684.0 120.6 684.5 121.2 686.0 112.0 695.0Z"/>
<path fill="#ff5400" fill-rule="evenodd" d="M194.0 593.7 193.0 593.8 192.5 593.4 178.5 578.9 170.0 568.9 161.0 556.7 152.1 542.5 144.5 529.1 140.0 519.5 136.5 509.9 131.5 492.8 127.4 475.5 124.7 459.0 123.0 443.5 122.2 430.0 122.5 415.5 126.0 381.9 128.0 369.0 131.9 352.5 135.4 341.0 139.4 330.5 144.8 320.0 151.5 309.8 157.0 302.7 165.0 293.9 171.9 287.5 180.0 281.5 190.8 275.5 197.0 273.2 204.5 271.3 218.0 269.5 229.5 269.2 238.0 269.7 245.5 270.9 252.5 272.6 268.0 277.4 283.5 283.7 292.2 288.0 306.1 296.5 318.5 306.0 326.8 313.5 338.5 326.2 348.6 339.5 356.8 353.0 364.0 367.4 369.6 381.5 373.7 395.0 376.0 407.5 376.9 420.5 376.0 434.5 374.0 446.4 372.5 451.9 368.9 461.0 364.0 470.0 356.0 481.5 343.5 497.3 334.0 508.0 321.5 519.9 300.3 537.0 292.0 543.1 284.0 548.1 253.0 563.9 216.5 584.5 204.5 589.8 194.0 593.7ZM132.0 673.7 132.0 673.3 132.0 673.7ZM131.5 674.2 131.1 674.0 131.5 673.7 131.5 674.2ZM111.0 695.0 102.5 695.0 113.0 686.5 116.0 684.5 118.5 683.4 119.5 682.3 131.0 674.1 131.2 674.5 120.8 684.0 120.9 685.5 111.0 695.0Z"/>
<path fill="#ff4e00" fill-rule="evenodd" d="M194.0 591.7 193.5 591.6 187.9 586.0 176.0 573.5 168.0 563.9 162.0 555.8 153.0 542.0 145.0 528.1 140.5 518.6 137.0 509.1 132.1 492.5 128.0 475.1 125.3 459.0 123.6 443.5 122.8 430.0 123.1 415.5 126.5 383.1 128.7 369.0 132.5 352.8 136.0 341.5 140.0 331.0 145.4 320.5 152.0 310.5 157.0 303.9 165.5 294.5 172.0 288.5 180.5 282.1 191.0 276.4 197.5 273.9 204.5 272.2 217.5 270.4 229.5 270.0 238.0 270.6 245.0 271.7 252.5 273.4 267.2 278.0 283.4 284.5 291.5 288.5 306.0 297.3 318.0 306.5 326.4 314.0 338.0 326.6 348.2 340.0 356.4 353.5 363.4 367.5 369.1 381.5 373.1 395.0 375.6 408.0 376.4 420.5 375.5 434.7 374.0 443.8 372.1 451.5 368.5 460.7 363.5 470.0 354.0 483.5 343.0 497.3 332.0 509.4 320.6 520.0 300.0 536.4 291.5 542.5 284.2 547.0 253.0 562.4 215.5 583.0 203.5 588.2 194.0 591.7ZM130.0 675.5 129.5 675.8 129.2 675.5 130.5 674.8 130.0 675.5ZM129.0 676.3 128.5 676.0 129.0 675.6 129.4 676.0 129.0 676.3ZM111.0 695.0 108.2 695.0 119.2 684.0 119.6 682.5 128.5 676.0 128.8 676.5 120.8 684.0 120.5 685.5 111.0 695.0Z"/>
<path fill="#ff4900" fill-rule="evenodd" d="M195.5 589.0 194.0 589.2 181.8 577.0 173.0 567.4 163.5 555.5 154.5 542.1 146.0 527.9 141.5 518.7 138.0 509.6 132.9 492.5 128.7 475.0 126.0 458.9 124.3 443.5 123.5 430.0 123.8 416.0 127.0 384.5 129.5 369.0 132.5 355.9 136.5 342.6 140.9 331.0 146.1 321.0 153.0 310.5 158.5 303.5 166.0 295.3 172.2 289.5 181.0 282.9 191.5 277.2 197.5 274.9 205.0 273.0 216.5 271.4 229.5 270.9 238.0 271.5 252.0 274.3 267.3 279.0 283.0 285.3 291.6 289.5 305.5 297.9 318.0 307.5 325.8 314.5 337.4 327.0 347.5 340.2 355.5 353.2 363.0 368.0 368.6 382.0 372.7 395.5 375.0 408.0 375.8 420.5 375.0 434.5 373.5 443.7 371.5 451.6 368.0 460.5 363.0 469.9 354.5 482.1 343.0 496.5 333.2 507.5 321.5 518.5 300.0 535.5 285.0 545.4 252.0 561.2 216.5 580.5 207.5 584.5 195.5 589.0ZM129.0 676.2 129.0 675.8 129.0 676.2ZM128.5 676.7 128.1 676.5 128.5 676.2 128.5 676.7ZM110.0 695.0 108.4 695.0 119.4 684.0 119.5 683.0 128.0 676.6 128.2 677.0 110.0 695.0Z"/>
<path fill="#ff4300" fill-rule="evenodd" d="M196.0 586.7 195.0 587.0 194.5 586.6 179.8 572.0 170.5 561.7 164.0 553.5 155.5 541.2 147.0 527.4 142.5 518.6 139.0 509.8 133.8 492.5 129.5 475.0 126.7 458.5 125.0 443.5 124.3 430.0 124.5 416.0 127.8 385.0 130.0 370.7 133.0 357.4 137.5 342.3 141.7 331.5 147.0 321.3 153.5 311.5 158.5 305.0 166.7 296.0 172.6 290.5 181.5 283.8 192.0 278.1 198.0 275.9 205.0 274.1 215.9 272.5 229.5 272.0 237.5 272.5 245.0 273.6 259.7 277.5 275.0 282.9 290.6 290.0 304.7 298.5 316.1 307.0 325.2 315.0 336.8 327.5 347.0 340.8 355.0 353.7 362.2 368.0 367.9 382.0 372.0 395.5 374.4 408.0 375.2 420.5 374.4 434.5 373.0 443.2 371.0 451.3 367.5 460.3 362.5 469.7 354.0 481.9 342.5 496.3 332.0 507.9 320.6 518.5 299.3 535.0 285.5 544.0 278.5 547.6 252.0 559.4 217.5 577.9 206.5 582.7 196.0 586.7ZM127.5 677.6 127.2 677.5 127.5 677.6ZM120.5 684.5 119.7 684.0 119.8 683.0 127.0 677.7 120.5 684.5Z"/>
<path fill="#ff3d00" fill-rule="evenodd" d="M196.5 584.1 195.5 584.3 179.0 568.1 171.0 559.4 163.5 550.1 156.5 540.2 147.5 526.0 143.4 518.0 139.5 508.2 134.6 492.0 130.4 475.0 127.6 458.5 125.9 443.5 125.1 430.0 125.3 416.0 128.5 386.0 130.5 372.9 133.7 358.5 137.5 345.4 142.6 332.0 147.8 322.0 154.0 312.6 159.1 306.0 167.5 296.7 174.3 290.5 182.5 284.5 192.5 279.1 198.2 277.0 205.5 275.1 217.5 273.5 229.5 273.1 237.5 273.6 251.5 276.3 266.5 280.9 282.0 287.0 291.2 291.5 304.5 299.5 317.7 309.5 326.5 317.6 336.1 328.0 346.5 341.5 354.5 354.4 361.5 368.2 367.3 382.5 371.3 395.5 373.7 408.0 374.6 420.5 373.8 434.0 372.5 442.4 370.4 451.0 367.0 460.0 362.0 469.3 354.0 480.9 342.0 496.0 332.5 506.5 320.7 517.5 299.0 534.1 285.0 543.0 251.5 557.8 218.0 575.4 196.5 584.1ZM125.5 679.2 125.5 678.9 125.5 679.2ZM125.0 679.8 124.7 679.5 125.0 679.2 125.0 679.8ZM124.5 680.3 124.0 680.0 124.5 679.6 124.8 680.0 124.5 680.3ZM120.5 684.3 119.8 683.5 120.0 683.0 124.0 680.0 124.3 680.5 120.5 684.3Z"/>
<path fill="#ff3a00" fill-rule="evenodd" d="M196.5 581.6 176.5 562.4 169.0 554.1 163.3 547.0 153.5 533.0 148.0 524.2 144.0 516.5 140.0 506.3 135.5 491.6 131.3 474.5 128.5 458.5 126.8 443.0 126.0 430.0 126.3 416.0 129.5 386.0 132.0 370.5 135.0 357.6 139.5 343.0 143.6 332.5 148.9 322.5 154.5 314.0 160.0 306.8 168.0 298.0 173.9 292.5 183.0 285.7 192.6 280.5 198.5 278.3 205.5 276.4 217.0 274.8 229.5 274.3 237.5 274.9 251.0 277.4 266.0 282.0 281.5 288.0 291.6 293.0 304.0 300.5 317.0 310.3 326.5 319.0 335.5 328.7 345.5 341.6 353.5 354.4 360.7 368.5 366.5 382.5 370.5 395.6 372.9 408.0 373.8 420.5 373.0 434.2 371.1 445.5 369.0 452.8 365.5 461.3 360.5 470.4 352.0 482.5 341.5 495.5 331.0 507.0 319.6 517.5 298.0 533.6 284.5 541.9 251.5 555.8 217.0 573.4 196.5 581.6ZM124.5 680.1 124.5 679.8 124.5 680.1ZM124.0 680.6 123.7 680.5 124.0 680.2 124.0 680.6ZM120.5 684.0 120.0 683.5 120.3 683.0 123.5 680.7 123.6 681.0 120.5 684.0Z"/>
<path fill="#ff3700" fill-rule="evenodd" d="M197.0 580.5 196.5 580.6 178.0 562.9 170.0 554.3 164.1 547.0 149.0 525.0 144.9 517.5 141.0 508.0 136.0 492.0 131.8 475.0 129.5 462.7 127.5 446.8 126.5 433.0 126.4 421.0 127.2 408.0 129.5 388.6 131.6 374.5 134.0 363.2 138.0 348.6 142.0 337.5 146.5 327.5 152.5 317.5 160.0 307.5 165.0 301.7 173.4 293.5 178.5 289.4 188.5 283.0 196.5 279.5 205.5 276.9 213.5 275.6 226.0 274.8 237.5 275.3 251.0 277.9 266.0 282.4 281.5 288.5 291.6 293.5 303.5 300.6 316.7 310.5 326.5 319.5 335.3 329.0 345.4 342.0 353.5 355.0 360.5 368.7 366.2 382.5 370.3 396.0 372.6 408.0 373.5 420.5 372.7 434.0 371.0 444.5 369.0 451.9 366.0 459.7 360.5 469.9 352.0 482.1 341.5 495.1 331.0 506.7 319.8 517.0 298.0 533.2 284.5 541.5 276.5 545.1 253.5 554.2 219.5 571.4 197.0 580.5ZM123.5 681.1 123.1 681.0 123.5 680.7 123.5 681.1ZM121.0 683.5 120.5 684.0 120.0 683.5 123.0 681.1 123.1 681.5 121.0 683.5Z"/>
<path fill="#ff3500" fill-rule="evenodd" d="M198.0 579.1 197.0 579.4 196.5 579.0 181.0 564.5 172.5 555.7 165.5 547.5 158.5 538.1 150.0 525.5 145.5 517.4 141.9 509.0 136.5 492.0 132.5 476.1 130.5 466.0 128.3 450.0 127.1 436.0 126.8 423.0 127.7 408.0 129.5 392.0 132.0 375.1 134.2 364.5 138.5 348.8 142.5 337.7 146.9 328.0 152.5 318.6 158.0 310.9 165.0 302.6 173.2 294.5 178.7 290.0 188.5 283.7 195.5 280.5 205.5 277.5 213.5 276.2 226.0 275.4 237.5 275.9 251.0 278.5 266.0 283.0 281.4 289.0 291.5 294.0 303.2 301.0 316.5 311.0 325.5 319.2 334.7 329.0 344.8 342.0 353.0 355.0 360.0 368.6 365.9 383.0 369.9 396.0 372.2 408.0 373.1 420.5 372.4 434.0 370.5 445.1 368.5 452.2 365.0 460.9 360.0 470.1 352.0 481.5 341.0 495.2 331.0 506.2 319.8 516.5 297.5 533.0 284.5 540.8 276.3 544.5 253.5 553.3 220.3 570.0 198.0 579.1ZM123.0 681.6 122.6 681.5 123.0 681.6ZM121.5 683.0 121.0 683.5 120.5 683.0 122.5 681.6 121.5 683.0ZM120.5 683.9 120.1 683.5 120.5 683.0 121.0 683.5 120.5 683.9Z"/>
<path fill="#ff3300" fill-rule="evenodd" d="M197.5 578.1 177.5 559.6 165.5 546.2 157.0 534.7 150.0 524.3 146.0 517.0 142.0 507.7 137.0 491.9 133.0 476.1 131.0 466.0 128.8 450.0 127.6 436.0 127.3 423.0 128.2 408.0 130.1 391.5 132.5 375.2 134.7 364.5 139.0 349.0 143.0 337.9 147.5 328.1 153.0 318.9 158.5 311.3 165.5 303.0 173.5 295.1 179.1 290.5 189.0 284.2 196.0 281.0 205.5 278.2 213.5 276.8 226.0 276.0 237.5 276.5 250.6 279.0 265.5 283.5 281.0 289.5 291.2 294.5 303.0 301.5 316.0 311.2 325.0 319.4 334.5 329.5 344.5 342.3 352.5 355.0 359.7 369.0 365.5 383.0 369.5 396.0 371.9 408.5 372.7 420.5 372.0 434.0 370.0 445.5 367.5 453.9 363.3 463.5 359.0 471.0 350.5 483.0 339.0 497.0 328.5 508.2 319.2 516.5 297.4 532.5 284.9 540.0 277.0 543.5 253.0 552.6 221.2 568.5 197.5 578.1ZM122.0 682.5 121.5 682.9 121.3 682.5 122.5 681.9 122.0 682.5ZM121.0 683.4 120.6 683.0 121.0 682.7 121.5 683.0 121.0 683.4ZM120.5 683.9 120.2 683.5 120.5 683.1 120.9 683.5 120.5 683.9Z"/>
<path fill="#ff3000" fill-rule="evenodd" d="M198.5 576.5 197.5 576.7 182.0 562.5 173.0 553.5 166.4 546.0 158.5 535.5 150.9 524.5 146.5 516.7 142.5 507.4 137.5 491.5 133.5 475.9 131.5 466.0 129.3 450.0 128.1 436.0 127.8 423.0 128.7 408.0 130.5 392.3 133.0 375.5 135.3 364.5 139.5 349.4 143.5 338.3 148.0 328.5 153.0 320.1 158.0 312.9 165.9 303.5 173.5 296.0 179.5 291.0 189.0 285.0 196.7 281.5 205.5 278.9 213.5 277.5 226.0 276.7 237.5 277.2 250.5 279.6 265.5 284.1 280.8 290.0 290.9 295.0 302.5 301.9 315.5 311.5 324.5 319.6 334.0 329.7 344.0 342.5 352.0 355.1 359.2 369.0 365.0 383.0 369.0 396.0 371.4 408.5 372.3 420.5 371.5 434.1 369.5 445.5 367.0 454.0 363.0 463.2 358.5 471.0 350.0 483.0 339.5 495.9 329.2 507.0 319.2 516.0 297.3 532.0 284.6 539.5 276.5 543.0 253.0 551.7 221.5 567.3 198.5 576.5ZM121.5 682.7 121.8 682.5 121.5 682.7ZM121.0 683.3 121.0 682.8 121.3 683.0 121.0 683.3ZM120.5 683.8 120.5 683.2 120.9 683.5 120.5 683.8Z"/>
<path fill="#ff2e00" fill-rule="evenodd" d="M198.0 575.5 178.3 557.5 166.0 544.0 157.0 532.1 151.0 523.3 147.0 516.2 143.0 507.0 138.0 491.3 134.0 475.6 132.0 465.6 129.8 450.0 128.6 436.0 128.3 423.0 129.2 408.0 131.0 392.8 133.5 376.0 135.9 364.5 140.0 349.8 144.0 338.8 148.5 329.0 153.5 320.5 158.4 313.5 166.4 304.0 174.0 296.5 180.0 291.6 189.5 285.6 196.1 282.5 206.0 279.5 213.5 278.2 224.5 277.4 237.0 277.8 250.5 280.3 265.0 284.6 280.3 290.5 290.6 295.5 302.4 302.5 315.2 312.0 324.5 320.4 333.6 330.0 343.8 343.0 351.5 355.2 358.9 369.5 364.5 383.0 368.5 396.0 371.0 408.5 371.8 420.5 371.0 434.3 369.0 445.5 366.5 454.0 362.5 463.2 357.5 471.8 349.5 483.0 337.5 497.5 327.0 508.6 318.5 516.0 297.0 531.6 284.5 538.9 276.5 542.3 253.0 550.8 221.0 566.4 198.0 575.5ZM121.0 683.2 121.0 682.9 121.0 683.2ZM120.5 683.7 120.5 683.2 120.5 683.7Z"/>
<path fill="#ff2c00" fill-rule="evenodd" d="M198.5 574.1 177.0 554.7 170.0 547.3 164.0 540.1 155.0 527.9 149.5 519.4 145.5 511.4 142.0 502.2 137.0 485.3 133.5 470.3 131.3 457.5 129.5 440.5 128.9 429.5 129.2 416.0 130.5 401.7 133.0 382.9 135.3 370.0 139.0 355.3 142.9 343.5 147.0 333.5 152.0 324.2 158.5 314.6 164.5 307.2 171.5 299.8 177.5 294.5 185.1 289.0 194.5 284.0 200.0 281.9 210.6 279.5 222.0 278.2 232.5 278.3 243.5 279.5 257.5 283.0 272.5 288.0 285.2 293.5 295.0 298.7 308.5 307.5 318.9 316.0 327.5 324.2 338.5 336.8 347.5 349.5 355.0 362.7 361.4 376.5 366.3 390.0 369.5 402.5 371.0 414.0 371.1 427.0 370.0 438.0 368.0 447.5 365.0 456.4 361.0 465.0 355.5 474.0 346.5 486.1 335.2 499.5 325.9 509.0 317.2 516.5 296.1 531.5 284.5 538.2 276.5 541.5 252.0 550.2 220.5 565.4 198.5 574.1ZM120.5 683.7 120.5 683.3 120.5 683.7Z"/>
<path fill="#ff2900" fill-rule="evenodd" d="M199.0 572.6 178.0 554.1 171.0 546.9 165.0 539.9 156.5 528.6 150.5 519.6 146.5 511.9 143.0 503.0 139.0 490.2 134.9 474.0 132.0 458.0 130.3 443.0 129.6 429.5 129.8 416.0 131.0 402.8 133.3 385.0 136.0 370.0 139.0 357.9 143.5 344.0 147.6 334.0 152.7 324.5 159.0 315.2 164.5 308.4 172.0 300.5 178.2 295.0 185.5 289.8 194.5 284.9 200.5 282.7 212.5 280.0 222.0 279.0 231.8 279.0 243.0 280.2 257.5 283.7 272.0 288.6 283.6 293.5 294.5 299.1 308.0 308.0 317.5 315.6 327.0 324.6 337.9 337.0 347.0 349.8 354.5 362.9 360.8 376.5 365.7 390.0 368.9 402.5 370.5 414.5 370.6 427.0 369.4 438.0 368.0 445.2 365.0 454.9 361.5 463.0 355.5 473.1 346.0 486.0 335.0 499.0 325.5 508.8 317.0 516.0 296.5 530.6 284.5 537.4 277.0 540.6 252.0 549.2 220.5 564.2 199.0 572.6Z"/>
<path fill="#ff2700" fill-rule="evenodd" d="M199.5 571.1 199.0 571.1 179.0 553.5 172.0 546.5 166.0 539.5 157.5 528.5 151.5 519.6 147.5 512.3 144.0 503.7 140.0 491.0 135.5 473.5 132.7 458.0 131.0 442.8 130.2 429.5 130.5 416.0 131.5 404.0 134.0 385.2 136.5 371.0 139.5 358.8 143.5 346.2 148.3 334.5 153.4 325.0 159.5 316.0 165.0 309.1 172.5 301.2 179.0 295.5 186.0 290.5 195.4 285.5 200.9 283.5 211.9 281.0 222.0 279.9 232.5 279.9 243.0 281.0 257.0 284.4 272.0 289.4 285.1 295.0 294.5 300.0 307.6 308.5 317.5 316.5 326.5 325.0 337.5 337.5 346.5 350.1 354.0 363.2 360.4 377.0 365.1 390.0 368.3 402.5 369.9 414.5 370.0 427.0 368.8 438.0 366.5 448.5 363.5 457.1 359.0 466.4 354.5 473.6 345.0 486.4 334.5 498.8 325.1 508.5 316.2 516.0 296.2 530.0 284.5 536.7 276.5 539.9 252.0 548.1 221.0 562.7 199.5 571.1Z"/>
<path fill="#ff2500" fill-rule="evenodd" d="M200.0 569.5 199.3 569.5 179.5 552.3 172.5 545.4 166.5 538.5 158.0 527.6 152.0 518.8 148.0 511.4 144.5 502.8 140.5 490.1 136.3 473.5 133.5 458.2 131.8 443.0 131.0 429.5 131.2 416.0 134.5 386.9 136.5 374.9 140.0 360.0 144.0 347.3 149.0 334.9 154.1 325.5 159.5 317.5 165.0 310.5 173.0 302.0 178.6 297.0 186.5 291.3 195.5 286.5 201.0 284.5 211.6 282.0 222.0 280.8 232.0 280.8 243.0 281.9 257.0 285.3 271.5 290.1 283.2 295.0 293.9 300.5 307.0 309.0 317.0 317.0 326.0 325.5 337.0 338.0 346.0 350.5 353.4 363.5 359.7 377.0 364.5 390.1 367.6 402.5 369.2 414.5 369.3 427.0 368.1 438.0 365.6 449.0 362.6 457.5 358.5 466.0 353.5 474.0 345.0 485.6 334.1 498.5 324.8 508.0 316.0 515.5 296.5 529.1 284.5 535.9 276.7 539.0 251.5 547.3 221.5 561.2 200.0 569.5Z"/>
<path fill="#ff2200" fill-rule="evenodd" d="M200.0 568.1 178.5 549.7 167.0 537.5 158.0 526.0 152.5 517.9 148.5 510.4 145.0 501.7 141.5 490.5 137.0 473.1 134.2 457.5 132.5 442.5 131.8 429.5 132.0 416.0 133.2 403.0 135.5 385.6 138.0 371.7 141.0 359.6 145.0 347.1 150.0 335.0 155.0 325.9 161.0 317.1 167.0 309.7 173.9 302.5 180.3 297.0 187.4 292.0 196.0 287.5 202.5 285.1 213.5 282.7 222.0 281.8 232.5 281.7 243.0 282.8 256.5 286.1 271.5 291.0 284.5 296.5 294.0 301.5 306.5 309.6 317.0 318.0 325.5 326.0 336.1 338.0 345.4 351.0 352.6 363.5 359.0 377.0 363.9 390.5 367.0 403.0 368.5 414.5 368.6 426.5 367.5 436.8 365.0 448.5 362.0 457.0 357.7 466.0 353.0 473.6 344.5 485.2 333.7 498.0 324.5 507.5 315.6 515.0 296.2 528.5 284.5 535.0 277.0 538.0 251.5 546.1 222.0 559.6 200.0 568.1Z"/>
<path fill="#ff2000" fill-rule="evenodd" d="M201.5 566.1 200.5 566.5 200.0 566.2 184.5 553.3 176.5 546.0 170.0 539.2 162.4 530.0 155.0 520.0 150.6 512.5 147.0 504.5 142.4 490.5 138.0 473.6 135.9 463.0 134.0 448.8 132.9 436.0 132.6 423.0 133.5 408.5 135.5 391.5 138.0 376.2 140.5 365.1 144.5 351.5 148.9 340.0 153.2 331.0 159.0 321.6 166.0 312.5 171.5 306.5 179.0 299.5 185.7 294.5 193.0 290.2 201.5 286.6 212.4 284.0 222.0 282.9 231.5 282.7 242.5 283.8 256.3 287.0 271.0 291.8 283.4 297.0 293.1 302.0 306.0 310.3 316.0 318.2 324.9 326.5 335.5 338.5 344.5 351.0 352.0 363.9 358.4 377.5 363.0 390.2 366.2 403.0 367.7 414.0 367.8 425.5 366.9 435.5 365.1 445.0 362.0 454.7 357.5 464.7 352.5 473.0 344.0 484.8 333.3 497.5 324.0 507.1 315.9 514.0 297.2 527.0 284.5 534.2 277.0 537.1 251.0 545.2 223.5 557.6 201.5 566.1Z"/>
<path fill="#ff1e00" fill-rule="evenodd" d="M201.5 564.6 200.5 564.6 181.5 548.9 175.0 542.8 169.2 536.5 161.0 526.4 155.0 518.0 150.9 511.0 147.5 503.1 143.2 490.0 139.0 473.5 136.5 460.5 134.7 446.0 133.7 431.5 133.7 420.5 134.5 408.0 136.5 391.4 139.0 376.2 141.5 365.2 145.5 351.7 149.8 340.5 154.2 331.5 159.8 322.5 166.0 314.3 172.0 307.6 180.0 300.2 186.4 295.5 193.5 291.3 202.0 287.7 211.5 285.4 222.0 284.0 231.5 283.8 242.5 284.9 256.0 288.0 270.5 292.7 283.3 298.0 293.0 303.0 305.5 311.0 315.6 319.0 324.1 327.0 334.8 339.0 343.9 351.5 350.5 362.8 357.0 376.3 361.5 388.3 365.0 401.4 366.6 412.0 367.0 423.0 366.0 435.1 364.3 444.0 361.5 453.4 357.5 462.7 352.0 472.3 344.0 483.5 333.0 496.8 323.5 506.6 315.4 513.5 296.6 526.5 284.0 533.5 276.0 536.5 259.0 541.3 251.0 544.0 223.0 556.4 201.5 564.6Z"/>
<path fill="#ff1b00" fill-rule="evenodd" d="M201.5 563.1 181.5 547.0 169.5 535.0 161.0 524.5 155.5 516.7 151.5 509.7 148.0 501.5 144.0 489.0 139.9 473.0 137.4 459.5 135.6 444.5 134.7 430.0 134.8 419.5 135.5 408.1 137.5 391.7 140.0 376.7 142.5 365.7 146.0 353.8 150.5 341.9 155.3 332.0 160.0 324.4 165.5 316.9 172.5 308.9 180.5 301.5 186.5 297.0 194.0 292.6 202.4 289.0 212.5 286.5 222.0 285.3 231.5 285.0 242.3 286.0 255.5 289.0 270.0 293.6 283.0 299.0 292.7 304.0 305.0 311.9 315.3 320.0 323.5 327.7 334.1 339.5 343.2 352.0 350.5 364.6 356.8 378.0 361.0 389.5 364.1 401.5 365.7 412.5 366.0 423.0 365.0 435.0 363.0 445.1 360.0 454.5 355.5 464.5 350.5 473.0 342.5 484.1 332.2 496.5 323.0 506.0 314.8 513.0 296.7 525.5 284.1 532.5 276.0 535.5 259.0 540.1 251.0 542.7 222.0 555.4 201.5 563.1Z"/>
<path fill="#ff1900" fill-rule="evenodd" d="M202.5 561.1 201.5 561.1 184.4 547.5 177.6 541.5 171.5 535.2 163.5 525.7 157.0 516.8 153.0 510.0 149.5 502.1 145.3 489.5 141.1 473.0 138.6 460.0 137.0 447.2 136.0 434.0 135.8 421.5 136.6 408.5 138.5 392.5 141.0 377.7 143.5 366.5 146.6 356.0 151.0 344.0 154.5 336.3 160.0 326.8 166.0 318.5 173.5 309.9 181.0 303.0 186.9 298.5 194.5 293.9 202.5 290.5 212.1 288.0 222.0 286.6 231.5 286.4 242.0 287.2 255.0 290.1 269.1 294.5 280.4 299.0 291.4 304.5 304.1 312.5 313.5 319.8 322.9 328.5 333.2 340.0 342.0 352.0 348.5 362.9 355.0 376.3 359.5 388.2 362.5 399.0 364.5 411.0 364.9 422.5 364.0 434.1 362.1 444.0 359.0 454.0 354.5 464.0 349.5 472.7 341.5 483.9 331.5 496.0 322.3 505.5 314.1 512.5 296.7 524.5 284.0 531.5 276.0 534.5 259.0 538.9 250.5 541.6 223.0 553.4 202.5 561.1Z"/>
<path fill="#ff1600" fill-rule="evenodd" d="M203.5 559.1 202.0 559.3 186.0 546.8 179.2 541.0 172.7 534.5 164.5 524.8 158.0 516.0 153.9 509.0 150.5 501.2 146.5 489.0 142.4 473.0 140.0 460.5 138.2 446.5 137.3 433.5 137.1 421.0 137.9 408.5 139.8 392.5 142.0 379.2 144.8 367.0 148.0 356.0 152.0 345.2 155.8 337.0 161.0 327.9 167.0 319.6 174.5 311.1 181.5 304.6 187.5 300.0 195.5 295.2 203.0 292.0 212.5 289.5 222.5 288.1 232.0 287.8 242.0 288.6 255.0 291.4 269.0 295.7 280.8 300.5 291.0 305.6 303.5 313.5 312.6 320.5 321.9 329.0 332.0 340.2 340.0 350.9 346.5 361.5 352.5 373.2 358.0 387.1 361.1 398.0 363.2 410.0 363.7 421.0 362.8 433.5 361.0 443.5 357.9 453.5 353.5 463.4 348.5 472.2 341.0 482.9 331.5 494.5 322.0 504.5 314.0 511.5 297.5 523.0 290.9 527.0 283.9 530.5 276.0 533.4 258.5 537.8 250.5 540.3 223.5 551.7 203.5 559.1Z"/>
<path fill="#ff1400" fill-rule="evenodd" d="M204.0 557.1 202.5 557.4 187.6 546.0 180.5 540.1 173.8 533.5 166.0 524.5 159.5 515.8 155.5 509.0 152.0 501.3 147.9 489.0 144.0 473.9 141.6 461.5 139.8 448.5 138.8 435.5 138.5 423.0 139.2 409.0 141.0 393.9 143.3 380.0 146.0 367.9 149.4 356.5 153.1 346.5 157.3 337.5 162.0 329.3 168.3 320.5 175.5 312.4 182.0 306.4 188.5 301.4 196.0 296.9 204.0 293.5 213.5 291.0 222.5 289.7 231.5 289.3 241.5 290.0 254.5 292.7 268.5 297.0 279.9 301.5 290.0 306.5 302.5 314.3 311.9 321.5 321.0 329.7 330.8 340.5 339.0 351.4 345.5 362.0 351.5 373.8 356.6 386.5 359.9 398.0 361.8 409.5 362.4 420.5 361.6 433.0 359.7 443.0 356.6 453.0 352.5 462.5 347.2 472.0 339.5 483.0 330.0 494.6 321.0 504.1 313.0 511.0 296.5 522.5 283.5 529.6 275.5 532.4 259.0 536.4 250.5 538.9 224.0 549.8 204.0 557.1Z"/>
<path fill="#fe1200" fill-rule="evenodd" d="M203.5 555.5 184.0 540.9 173.0 530.3 165.5 521.4 160.0 513.8 156.0 506.8 152.9 499.5 149.3 488.5 145.2 472.5 142.8 459.5 141.1 446.0 140.2 432.0 140.2 420.0 140.9 408.0 142.7 393.0 145.0 379.5 147.5 368.4 150.9 357.0 154.7 347.0 158.7 338.5 163.5 330.2 169.5 321.9 176.5 314.0 183.0 308.0 189.5 303.0 197.0 298.6 204.5 295.3 214.0 292.7 222.5 291.4 232.0 291.0 241.5 291.6 254.0 294.1 268.0 298.3 279.9 303.0 290.0 308.0 302.0 315.5 311.5 322.8 320.0 330.5 330.0 341.5 338.0 352.2 344.7 363.0 350.5 374.6 355.5 387.4 358.6 398.5 360.5 410.0 361.0 421.0 360.1 433.0 358.2 443.0 355.1 453.0 351.0 462.4 345.5 472.2 338.0 483.0 329.0 494.0 320.0 503.5 311.3 511.0 294.6 522.5 282.5 528.8 274.5 531.5 258.5 535.1 250.0 537.6 224.5 548.0 203.5 555.5Z"/>
<path fill="#fb0f00" fill-rule="evenodd" d="M205.0 553.2 203.5 553.3 188.0 541.8 181.0 536.0 174.9 530.0 167.2 521.0 161.7 513.5 157.7 506.5 154.5 499.1 150.9 488.0 146.8 472.0 144.5 459.4 142.8 446.0 141.9 433.0 141.9 420.0 142.6 408.0 144.4 393.0 146.5 380.4 149.3 368.5 152.6 357.5 156.5 347.5 160.5 339.0 165.5 330.7 171.1 323.0 178.0 315.3 184.5 309.3 191.0 304.5 198.5 300.1 205.9 297.0 215.0 294.5 223.0 293.3 233.0 292.8 242.5 293.5 253.5 295.6 267.5 299.7 280.7 305.0 290.5 310.0 301.5 316.9 312.5 325.5 321.0 333.5 329.5 343.0 337.5 353.8 344.0 364.6 349.9 376.5 354.2 388.0 357.2 399.0 359.1 410.5 359.5 421.5 358.6 433.0 356.6 443.0 353.6 452.5 349.5 462.0 343.9 472.0 337.0 482.0 327.7 493.5 319.0 502.7 310.1 510.5 294.1 521.5 288.0 525.0 282.0 527.8 274.0 530.3 258.5 533.7 250.0 536.1 224.0 546.4 205.0 553.2Z"/>
<path fill="#f80d00" fill-rule="evenodd" d="M205.5 551.0 204.0 551.1 188.0 539.5 181.5 534.0 175.4 528.0 168.2 519.5 163.0 512.3 159.0 505.2 155.8 497.5 152.0 485.5 148.5 471.0 146.0 456.9 144.4 442.5 143.7 429.5 143.9 416.5 144.9 403.5 146.8 389.5 149.0 377.5 151.5 367.5 155.0 356.5 159.1 346.5 163.4 338.0 168.5 330.0 174.3 322.5 181.0 315.4 188.0 309.4 195.2 304.5 202.5 300.7 210.0 298.0 219.0 295.9 229.0 294.8 237.0 294.9 246.0 295.9 259.5 299.0 271.7 303.0 282.3 307.5 293.4 313.5 302.5 319.5 312.0 327.0 321.0 335.6 329.5 345.3 337.0 355.7 343.5 366.7 349.1 378.5 353.3 390.0 356.1 401.0 357.6 412.5 357.8 423.5 356.7 434.5 354.5 444.5 351.3 454.0 347.0 463.4 341.5 473.0 334.1 483.5 325.4 494.0 317.0 502.8 308.1 510.5 293.5 520.5 281.9 526.5 274.0 529.0 258.0 532.4 249.5 534.7 223.5 544.7 205.5 551.0Z"/>
<path fill="#f50b00" fill-rule="evenodd" d="M205.5 549.0 204.7 549.0 187.5 536.6 181.5 531.5 175.6 525.5 169.7 518.5 164.4 511.0 160.6 504.0 157.3 496.0 153.5 483.5 150.2 469.5 147.9 456.0 146.4 442.0 145.8 429.5 145.9 416.5 146.9 403.5 148.8 389.5 151.0 377.8 153.6 367.5 157.0 357.2 161.0 347.5 165.5 338.8 170.5 331.0 176.0 324.0 182.7 317.0 189.8 311.0 196.5 306.5 203.5 302.9 210.5 300.3 220.0 298.0 229.0 297.0 237.5 297.0 246.5 298.0 259.0 300.8 270.6 304.5 281.4 309.0 292.5 314.9 302.4 321.5 311.2 328.5 320.5 337.4 328.5 346.6 335.7 356.5 342.5 368.2 348.0 380.0 351.7 390.5 354.4 401.5 355.9 412.5 356.1 423.5 354.9 434.5 352.8 444.0 349.5 453.9 345.0 463.6 339.5 473.1 332.0 483.6 323.0 494.5 314.7 503.0 305.9 510.5 291.9 520.0 281.0 525.4 273.5 527.7 257.5 531.0 249.5 533.1 205.5 549.0Z"/>
<path fill="#f20800" fill-rule="evenodd" d="M206.5 546.6 205.5 546.8 190.0 535.9 183.9 531.0 177.8 525.0 171.8 518.0 166.5 510.5 162.6 503.5 159.3 495.5 156.0 484.5 152.5 469.9 150.1 455.5 148.6 442.0 148.0 429.5 148.1 416.5 149.0 404.0 150.9 390.0 153.0 378.9 155.6 368.5 159.0 358.3 163.0 348.7 167.0 341.0 172.1 333.0 177.5 326.0 184.2 319.0 191.4 313.0 198.0 308.6 204.5 305.2 212.0 302.4 220.5 300.4 229.0 299.3 238.0 299.3 247.0 300.2 258.5 302.7 270.5 306.5 281.0 310.9 291.6 316.5 301.5 323.0 310.5 330.2 319.6 339.0 327.4 348.0 334.3 357.5 341.0 369.0 346.3 380.5 350.2 391.5 352.8 402.5 354.2 413.5 354.3 423.5 353.1 434.5 351.0 444.0 347.5 454.1 343.1 463.5 337.5 473.0 329.6 484.0 320.8 494.5 312.5 503.0 304.2 510.0 291.0 519.0 280.5 524.1 272.5 526.5 257.5 529.3 249.5 531.4 206.5 546.6Z"/>
<path fill="#ef0600" fill-rule="evenodd" d="M207.5 544.1 206.0 544.3 192.0 534.7 185.5 529.5 179.3 523.5 173.3 516.5 168.1 509.0 164.5 502.3 161.2 494.0 157.5 481.5 154.5 468.0 152.3 454.5 150.9 441.0 150.3 427.5 150.6 414.5 151.7 401.0 153.7 387.5 156.0 376.4 159.0 365.7 162.5 356.0 166.5 347.3 170.8 339.5 176.0 332.0 181.5 325.5 188.0 319.2 194.6 314.0 202.0 309.5 208.5 306.5 216.3 304.0 225.0 302.3 233.5 301.6 241.5 301.9 250.0 303.0 260.6 305.5 272.0 309.2 282.9 314.0 292.8 319.5 302.5 326.1 311.4 333.5 319.4 341.5 327.4 351.0 334.0 360.5 340.0 371.0 345.0 382.1 348.8 393.5 351.2 404.0 352.3 414.5 352.3 425.0 351.1 435.0 348.9 444.5 345.5 454.0 341.0 463.6 335.0 473.5 327.4 484.0 318.5 494.5 310.1 503.0 301.7 510.0 289.5 518.2 279.5 522.9 272.5 524.9 256.5 527.9 249.0 529.7 207.5 544.1Z"/>
<path fill="#ec0400" fill-rule="evenodd" d="M208.5 541.5 207.0 542.0 194.0 533.2 187.2 528.0 181.0 522.1 175.4 515.5 170.5 508.5 166.8 501.5 163.6 493.5 160.1 481.5 157.0 467.9 154.9 455.0 153.4 441.0 152.9 427.5 153.1 414.5 154.2 401.5 156.0 388.5 158.2 378.0 161.0 368.0 164.3 358.5 168.1 350.0 172.5 342.0 177.5 334.7 183.5 327.5 189.5 321.7 195.5 316.9 203.0 312.3 209.5 309.2 217.0 306.7 225.5 305.0 234.0 304.3 242.0 304.5 250.5 305.6 261.5 308.1 272.0 311.6 283.0 316.4 292.1 321.5 301.5 327.9 310.5 335.4 318.5 343.4 326.0 352.4 332.5 361.7 338.3 372.0 343.1 382.5 346.7 393.0 349.1 403.5 350.4 414.5 350.3 425.0 349.2 434.5 347.0 444.1 343.7 453.5 339.1 463.0 333.5 472.5 325.9 483.0 317.0 493.5 308.6 502.0 300.0 509.2 288.5 517.0 279.0 521.4 272.0 523.4 256.5 526.1 249.0 527.8 208.5 541.5Z"/>
<path fill="#e90100" fill-rule="evenodd" d="M208.5 539.1 207.5 539.2 192.5 529.1 186.5 524.2 181.4 519.0 176.2 512.5 171.9 506.0 168.5 499.1 165.5 491.1 162.1 479.0 159.2 465.5 157.1 451.5 155.9 438.5 155.5 425.0 155.9 412.0 157.1 399.5 159.1 386.5 161.3 376.5 164.1 367.0 167.5 358.0 171.5 349.6 175.9 342.0 180.9 335.0 186.7 328.5 192.6 323.0 199.3 318.0 206.0 314.2 213.0 311.1 220.5 308.9 228.5 307.5 236.0 307.0 244.5 307.4 253.0 308.6 263.5 311.2 274.5 315.1 284.0 319.5 293.5 325.0 302.5 331.5 310.7 338.5 318.5 346.5 325.5 355.2 332.0 364.8 337.5 374.9 342.0 385.4 345.2 395.5 347.4 406.0 348.4 416.0 348.2 426.0 346.9 436.0 344.5 445.4 341.1 454.5 336.5 463.7 330.8 473.0 323.0 483.5 314.0 493.9 305.9 502.0 297.5 509.0 287.0 515.9 278.0 520.0 271.5 521.7 256.0 524.3 248.0 526.1 208.5 539.1Z"/>
<path fill="#e60000" fill-rule="evenodd" d="M208.5 536.6 192.5 525.9 187.0 521.1 182.0 515.8 177.2 509.5 173.3 503.0 170.2 496.0 167.4 488.0 164.2 476.0 161.5 462.5 159.6 449.0 158.6 436.0 158.3 423.0 158.8 410.0 160.1 397.5 162.3 385.0 164.5 375.5 167.5 366.1 171.0 357.4 175.0 349.4 179.6 342.0 184.5 335.5 190.0 329.6 196.0 324.4 202.2 320.0 209.0 316.3 216.0 313.5 223.5 311.4 231.0 310.3 238.5 309.9 246.5 310.4 255.0 311.8 265.0 314.4 275.0 318.0 285.4 323.0 294.4 328.5 303.0 334.8 311.0 342.0 318.5 350.0 325.2 358.5 331.0 367.5 336.6 378.0 340.6 388.0 343.6 398.0 345.5 408.0 346.3 418.0 346.0 427.5 344.6 437.0 342.1 446.0 338.6 455.0 334.0 464.0 328.0 473.5 320.4 483.5 311.2 494.0 303.0 502.0 294.5 508.9 285.0 515.0 277.0 518.4 270.9 520.0 255.5 522.4 248.0 524.0 208.5 536.6Z"/>
<path fill="#e30000" fill-rule="evenodd" d="M209.5 533.6 194.0 523.6 189.0 519.3 184.1 514.0 179.5 507.9 175.8 501.5 172.7 494.5 170.0 486.5 166.8 474.0 164.1 460.5 162.4 447.5 161.4 434.5 161.2 422.0 161.8 409.0 163.2 396.5 165.4 384.5 167.8 375.0 170.6 366.5 173.9 358.5 177.7 351.0 182.1 344.0 187.1 337.5 192.5 331.8 198.5 326.7 205.0 322.2 211.5 318.8 218.5 316.2 225.5 314.4 233.0 313.3 240.5 313.1 248.5 313.6 256.5 315.0 266.5 317.7 276.0 321.3 285.0 325.7 294.0 331.2 302.0 337.2 310.2 344.5 317.5 352.4 324.0 360.8 329.8 370.0 334.7 379.5 338.8 389.5 341.6 399.0 343.4 409.0 344.1 418.5 343.8 427.5 342.3 437.0 339.9 446.0 336.3 455.0 331.6 464.0 325.5 473.4 317.7 483.5 308.8 493.5 300.5 501.5 292.5 508.0 283.8 513.5 276.0 516.7 270.0 518.2 255.5 520.3 247.5 521.9 209.5 533.6Z"/>
<path fill="#e10000" fill-rule="evenodd" d="M210.5 530.5 210.0 530.6 202.5 525.9 196.0 521.4 190.8 517.0 186.2 512.0 181.8 506.0 178.2 499.5 175.2 492.5 172.6 484.5 169.6 472.5 167.0 459.0 165.4 446.5 164.5 434.0 164.3 421.5 164.9 409.0 166.3 397.0 168.5 385.0 170.8 376.0 173.6 367.5 177.0 359.5 181.0 352.0 185.2 345.5 190.0 339.5 195.3 334.0 201.0 329.2 207.0 325.2 213.1 322.0 220.0 319.4 227.0 317.6 234.0 316.6 241.5 316.3 249.5 316.9 257.5 318.3 267.0 321.0 276.2 324.5 285.2 329.0 294.0 334.5 302.0 340.6 309.5 347.4 316.4 355.0 322.5 363.0 328.0 371.7 332.8 381.0 336.6 390.5 339.4 400.0 341.1 409.5 341.8 419.0 341.4 428.5 340.0 437.0 337.5 446.0 334.0 454.6 329.3 463.5 323.5 472.4 315.5 482.7 306.7 492.5 298.4 500.5 290.5 506.9 282.5 511.9 275.0 514.9 269.5 516.2 255.0 518.1 247.0 519.7 210.5 530.5Z"/>
<path fill="#de0000" fill-rule="evenodd" d="M212.5 527.0 210.5 527.1 200.1 520.5 194.4 516.0 189.5 511.0 185.3 505.5 181.5 499.0 178.5 492.0 175.9 484.0 172.8 472.0 170.3 459.5 168.6 446.5 167.7 434.0 167.5 421.5 168.1 409.5 169.4 398.0 171.5 386.5 173.7 378.0 176.5 369.5 179.5 362.3 183.3 355.0 187.1 349.0 192.0 342.7 197.4 337.0 202.8 332.5 208.5 328.6 214.5 325.4 221.0 322.9 228.0 321.0 235.0 320.0 242.0 319.8 250.0 320.3 257.5 321.6 266.5 324.0 275.5 327.4 284.0 331.6 292.5 336.9 300.6 343.0 308.0 349.7 314.7 357.0 320.8 365.0 326.1 373.5 330.7 382.5 334.3 391.5 337.1 401.0 338.8 410.0 339.4 419.5 339.0 428.5 337.6 437.0 335.2 445.5 331.7 454.0 327.2 462.5 321.7 471.0 313.9 481.0 305.0 491.0 296.7 499.0 289.0 505.2 281.3 510.0 274.0 512.9 268.5 514.1 254.5 515.8 246.5 517.3 212.5 527.0Z"/>
<path fill="#db0000" fill-rule="evenodd" d="M213.5 523.6 211.5 523.7 201.5 517.4 196.0 512.9 191.4 508.0 187.4 502.5 184.1 496.5 181.2 489.5 178.6 481.0 175.6 469.0 173.4 457.0 171.8 445.0 171.0 433.5 170.9 421.5 171.5 409.3 172.8 398.0 174.9 387.0 177.1 378.5 179.9 370.5 183.0 363.3 186.7 356.5 191.0 350.0 195.4 344.5 200.5 339.4 205.9 335.0 211.5 331.4 217.5 328.4 224.0 326.0 230.5 324.4 237.5 323.5 244.5 323.4 251.5 324.0 259.0 325.4 267.5 327.8 276.0 331.1 284.5 335.4 292.5 340.5 300.0 346.3 307.0 352.7 313.5 360.0 319.5 368.0 324.5 376.1 329.0 385.1 332.4 394.0 334.9 403.0 336.4 412.0 336.9 421.0 336.5 429.0 335.0 437.5 332.5 446.0 329.1 454.0 324.5 462.4 319.0 470.6 311.5 480.1 303.0 489.6 294.8 497.5 287.0 503.8 280.0 508.0 273.0 510.7 267.5 511.8 253.5 513.3 245.5 514.8 213.5 523.6Z"/>
<path fill="#d80000" fill-rule="evenodd" d="M214.0 520.1 212.5 520.1 202.5 513.6 197.6 509.5 193.2 504.5 189.6 499.0 186.5 493.0 183.9 486.0 181.2 477.0 178.5 465.4 176.4 453.5 175.1 442.0 174.4 430.5 174.4 419.5 175.2 408.0 176.6 397.0 178.6 387.0 183.5 371.5 186.5 364.8 190.0 358.5 194.0 352.5 198.6 347.0 203.5 342.2 208.7 338.0 214.3 334.5 220.0 331.7 226.4 329.5 233.0 328.0 239.5 327.3 246.5 327.3 253.5 328.0 260.5 329.4 269.0 332.0 277.5 335.5 285.5 339.8 292.7 344.5 300.0 350.3 306.5 356.5 312.5 363.3 318.1 371.0 323.0 379.2 327.0 387.4 330.1 395.5 332.5 404.5 333.9 413.0 334.3 421.5 333.8 429.5 332.3 437.5 329.9 445.5 326.5 453.5 322.1 461.5 316.7 469.5 309.5 478.6 300.5 488.5 292.5 496.2 285.2 502.0 278.5 506.0 272.0 508.4 245.0 511.9 214.0 520.1Z"/>
<path fill="#d50000" fill-rule="evenodd" d="M216.0 516.1 214.0 516.4 206.0 511.4 200.7 507.0 196.2 502.0 192.6 496.5 189.7 490.5 187.0 483.2 184.5 474.6 182.0 463.5 180.0 452.0 178.7 441.0 178.1 430.0 178.2 418.5 179.0 407.5 180.4 397.0 182.4 387.5 187.0 373.4 190.0 366.8 193.5 360.5 197.3 355.0 201.5 350.0 206.5 345.2 211.5 341.3 217.0 337.9 222.5 335.4 228.5 333.3 234.5 332.0 241.0 331.4 247.5 331.4 254.0 332.0 261.0 333.4 269.0 335.8 277.0 339.1 284.5 343.1 291.9 348.0 298.5 353.3 305.0 359.5 310.7 366.0 316.0 373.3 320.6 381.0 324.5 389.0 327.5 397.0 329.8 405.5 331.1 413.5 331.5 421.5 331.0 429.5 329.7 437.0 327.3 445.0 324.0 452.5 319.9 460.0 314.5 468.0 307.0 477.4 298.7 486.5 290.5 494.3 283.5 499.9 277.3 503.5 271.0 505.8 265.5 506.7 252.5 507.7 245.0 508.8 234.5 511.1 216.0 516.1Z"/>
<path fill="#d20000" fill-rule="evenodd" d="M216.5 512.0 215.0 512.1 206.5 506.5 202.2 502.5 198.5 498.0 195.4 493.0 192.5 486.5 187.5 470.0 183.5 448.5 182.4 438.0 182.0 427.5 182.2 417.5 183.0 407.0 184.5 397.0 186.5 388.0 191.1 374.5 194.0 368.4 197.5 362.4 201.4 357.0 205.5 352.4 210.0 348.2 215.0 344.5 220.1 341.5 226.0 338.9 231.5 337.2 237.5 336.1 243.5 335.6 250.0 335.8 262.5 337.9 270.5 340.5 278.0 343.8 285.0 347.7 292.0 352.5 298.1 357.5 304.2 363.5 309.5 369.8 314.6 377.0 318.9 384.5 322.4 392.0 325.1 399.5 327.2 407.5 328.3 415.5 328.6 423.0 328.0 430.5 326.5 438.0 324.0 445.5 320.6 453.0 316.5 460.1 311.4 467.5 304.5 476.0 296.0 485.2 288.2 492.5 281.5 497.7 275.5 501.1 269.5 503.0 244.5 505.4 216.5 512.0Z"/>
<path fill="#cf0000" fill-rule="evenodd" d="M217.5 507.6 216.5 507.6 215.5 507.0 208.0 501.7 204.0 497.7 200.6 493.0 198.0 488.0 195.3 481.5 190.6 464.5 187.2 444.5 186.2 425.0 187.4 406.0 189.0 396.5 190.9 388.5 195.5 375.5 201.7 364.5 205.5 359.5 209.5 355.1 214.0 351.2 218.5 348.0 223.5 345.2 228.5 343.2 234.0 341.6 239.5 340.6 245.5 340.2 251.5 340.4 263.5 342.6 270.5 344.9 277.5 348.0 284.6 352.0 291.5 356.8 297.5 361.9 303.0 367.5 308.5 374.2 313.0 380.9 317.0 388.0 320.1 395.0 322.6 402.5 324.4 410.0 325.3 417.5 325.4 424.5 324.7 431.5 323.2 438.5 320.8 445.5 317.5 452.5 313.3 459.5 308.0 467.0 301.0 475.4 292.8 484.0 285.5 490.8 279.5 495.3 274.0 498.2 268.5 499.9 244.0 501.7 217.5 507.6Z"/>
<path fill="#cc0000" fill-rule="evenodd" d="M220.0 502.5 217.7 502.5 212.0 498.5 207.9 494.5 204.5 489.9 201.9 485.0 199.3 478.5 194.7 461.5 191.6 442.5 190.7 424.5 191.9 406.5 193.4 398.0 195.3 390.0 199.7 378.0 205.7 367.5 213.0 358.9 221.5 352.3 231.0 347.8 241.5 345.4 252.5 345.3 264.0 347.5 271.0 349.9 277.5 352.8 284.0 356.6 290.0 360.8 295.6 365.5 301.0 371.0 306.0 377.1 310.3 383.5 314.0 390.0 317.1 397.0 319.5 404.0 321.1 411.0 322.0 418.0 322.0 425.0 321.4 431.5 319.9 438.0 317.5 445.0 314.5 451.3 310.5 458.0 305.5 464.9 298.8 473.0 291.0 481.2 284.0 487.7 278.0 492.2 273.0 494.8 267.5 496.4 244.0 497.5 220.0 502.5Z"/>
<path fill="#c90000" fill-rule="evenodd" d="M223.0 497.0 219.5 497.0 217.0 495.3 212.5 491.3 208.8 486.5 206.1 481.5 203.9 476.0 199.4 460.0 196.5 442.5 195.6 425.0 196.7 408.0 199.9 392.5 204.0 381.3 209.6 371.5 216.5 363.4 224.5 357.2 233.3 353.0 243.0 350.8 253.5 350.7 264.5 352.8 270.9 355.0 277.0 357.8 283.0 361.3 288.9 365.5 294.0 369.9 299.0 375.0 303.5 380.5 307.5 386.5 311.0 392.7 314.0 399.5 316.1 406.0 317.6 412.5 318.4 419.0 318.4 425.0 317.7 431.5 316.4 437.5 314.3 443.5 311.2 450.0 307.6 456.0 303.0 462.5 296.5 470.2 289.1 478.0 282.5 484.2 276.8 488.5 271.5 491.2 266.5 492.5 244.0 492.8 223.0 497.0Z"/>
<path fill="#c60000" fill-rule="evenodd" d="M225.0 491.0 221.5 490.8 219.7 489.5 215.6 485.5 212.4 481.0 208.0 470.5 203.8 454.5 201.5 438.5 201.0 422.5 202.4 407.0 205.4 393.5 209.4 383.5 214.5 374.9 221.0 367.6 228.5 362.1 237.0 358.3 246.0 356.5 255.5 356.7 265.5 358.8 271.5 361.0 277.0 363.6 282.5 366.9 288.0 370.9 297.3 380.0 305.0 390.7 310.6 402.5 312.5 408.5 313.9 415.0 314.4 421.0 314.4 426.5 313.6 432.5 312.2 438.0 310.2 443.5 307.1 449.5 299.0 461.3 286.0 475.6 280.0 481.0 275.0 484.7 270.5 486.9 266.0 488.0 261.5 488.2 250.5 487.4 245.0 487.4 225.0 491.0Z"/>
<path fill="#c40000" fill-rule="evenodd" d="M230.0 484.0 226.5 484.1 223.8 483.5 218.6 478.0 216.3 474.0 214.2 469.0 210.3 455.5 207.8 440.5 207.0 425.5 208.0 411.0 210.6 398.0 214.0 388.9 218.8 380.5 224.8 373.5 231.5 368.4 239.0 365.0 247.0 363.2 256.0 363.2 265.0 365.0 275.5 369.3 285.5 375.8 294.0 383.9 301.0 393.5 306.4 404.5 309.3 415.5 309.9 426.0 309.3 431.5 308.1 436.5 306.1 442.0 303.6 447.0 296.5 457.6 284.0 471.3 278.3 476.5 273.5 480.0 269.2 482.0 265.0 482.9 261.0 482.9 251.0 481.5 246.0 481.3 241.0 481.8 230.0 484.0Z"/>
<path fill="#c10000" fill-rule="evenodd" d="M266.5 476.5 261.0 476.6 247.5 474.2 243.5 474.4 232.5 476.2 229.5 475.9 227.0 475.0 223.9 471.5 220.8 465.5 218.2 457.5 216.0 448.0 214.2 434.0 214.1 420.5 215.7 407.5 219.0 396.0 223.7 387.0 226.7 383.0 230.1 379.5 237.5 374.3 241.8 372.5 246.5 371.3 255.0 370.7 264.5 372.2 274.0 376.0 282.6 381.5 290.2 388.5 296.6 397.0 301.3 406.5 304.1 416.0 304.8 424.0 304.0 432.0 301.7 439.5 297.9 447.0 290.5 457.0 280.0 468.0 272.6 474.0 269.5 475.6 266.5 476.5Z"/>
<path fill="#be0000" fill-rule="evenodd" d="M265.5 469.0 260.5 468.7 249.5 465.7 245.5 465.6 237.0 466.5 234.5 466.1 232.5 465.3 230.0 462.9 227.8 458.5 225.6 451.5 223.7 443.0 222.4 431.5 222.5 420.5 224.0 409.9 226.9 400.5 231.0 392.9 236.5 386.8 243.0 382.6 250.0 380.4 257.5 380.0 265.5 381.5 273.0 384.5 280.5 389.4 286.8 395.5 292.0 402.6 295.8 410.5 298.0 418.4 298.5 425.5 297.7 432.0 295.6 438.5 292.1 445.0 285.5 453.5 276.5 462.7 270.5 467.2 265.5 469.0Z"/>
<path fill="#bb0000" fill-rule="evenodd" d="M265.0 458.6 261.5 458.3 252.0 454.7 243.5 453.7 240.4 452.5 238.5 450.6 237.0 447.8 234.6 438.0 233.7 429.5 234.0 421.0 235.2 413.5 237.4 407.0 240.5 401.5 244.5 397.3 249.0 394.4 254.5 392.7 260.0 392.5 265.5 393.5 271.5 396.0 276.8 399.5 281.4 404.0 285.1 409.0 288.0 414.9 289.7 421.0 290.1 426.0 289.5 431.0 287.8 436.0 285.0 441.0 280.0 447.4 273.5 453.9 269.0 457.2 265.0 458.6Z"/></g></g>
<path fill="none" stroke="#b4b4b4" stroke-width="1.5" d="M74 130.5V714.5M422.5 130.5V714.5"/>
<path fill="none" stroke="#808080" stroke-width="1.6" d="M73.3 130.5H423.2M73.3 714.5H423.2"/>
<path fill="none" stroke="#333" stroke-width="1.4" stroke-linejoin="round" transform="translate(0,0)" d="M93.7 660.5L93.7 195.4L90.4 182.6L95.9 182.1L99.3 192.9C117 193.1 147 193 154.5 157.1L186.1 157.1L186.1 164.6L175.3 164.6L175.3 167.3L231 206.2Q234.5 209.9 238.6 209.9L272 209.9L306.5 214.1L335.1 217Q345.5 219.5 352.3 229.4L403.9 341.2L405.6 343.3L404.1 343.3L404.1 498.1L405.4 500.5L405.4 502L351 610.8L272 651Q266.3 654 266.1 660L266.1 666.4L175.5 666.4L175.5 681.4L186.7 681.4L186.7 687.8L123.4 687.8Z"/>
<line x1="70" y1="224.2" x2="74" y2="224.2" stroke="#555" stroke-width="1.3"/>
<text x="66.2" y="234.4" font-size="26.6" text-anchor="end">1.0</text>
<line x1="70" y1="322.4" x2="74" y2="322.4" stroke="#555" stroke-width="1.3"/>
<text x="66.2" y="332.6" font-size="26.6" text-anchor="end">0.5</text>
<line x1="70" y1="420.7" x2="74" y2="420.7" stroke="#555" stroke-width="1.3"/>
<text x="66.2" y="430.9" font-size="26.6" text-anchor="end">0.0</text>
<line x1="70" y1="519" x2="74" y2="519" stroke="#555" stroke-width="1.3"/>
<text x="66.2" y="529.2" font-size="26.6" text-anchor="end">−0.5</text>
<line x1="70" y1="617.2" x2="74" y2="617.2" stroke="#555" stroke-width="1.3"/>
<text x="66.2" y="627.4" font-size="26.6" text-anchor="end">−1.0</text>
<line x1="89.7" y1="714.5" x2="89.7" y2="719" stroke="#555" stroke-width="1.3"/>
<text x="89.7" y="743.2" font-size="26.6" text-anchor="middle">1.0</text>
<line x1="204.9" y1="714.5" x2="204.9" y2="719" stroke="#555" stroke-width="1.3"/>
<text x="204.9" y="743.2" font-size="26.6" text-anchor="middle">1.5</text>
<line x1="320.1" y1="714.5" x2="320.1" y2="719" stroke="#555" stroke-width="1.3"/>
<text x="320.1" y="743.2" font-size="26.6" text-anchor="middle">2.0</text>
<text x="95.7" y="123.6" font-size="26.85">Electron Density (<tspan font-style="italic">m</tspan><tspan font-size="18" dx="2.2" dy="-9.6">−3</tspan><tspan dy="9.6" dx="0.8">)</tspan></text>
<text transform="translate(101,170.8) scale(0.96,1)" font-size="39" font-weight="bold" style="font-family:'Liberation Sans',sans-serif">a)</text>
<rect x="444.6" y="120" width="30.6" height="605.5" fill="url(#gjet)" stroke="#444" stroke-width="0.8"/>
<line x1="475.2" y1="634.4" x2="477.7" y2="634.4" stroke="#444" stroke-width="1"/>
<line x1="475.2" y1="581.1" x2="477.7" y2="581.1" stroke="#444" stroke-width="1"/>
<line x1="475.2" y1="543.2" x2="477.7" y2="543.2" stroke="#444" stroke-width="1"/>
<line x1="475.2" y1="513.9" x2="477.7" y2="513.9" stroke="#444" stroke-width="1"/>
<line x1="475.2" y1="489.9" x2="477.7" y2="489.9" stroke="#444" stroke-width="1"/>
<line x1="475.2" y1="469.6" x2="477.7" y2="469.6" stroke="#444" stroke-width="1"/>
<line x1="475.2" y1="452.1" x2="477.7" y2="452.1" stroke="#444" stroke-width="1"/>
<line x1="475.2" y1="436.6" x2="477.7" y2="436.6" stroke="#444" stroke-width="1"/>
<line x1="475.2" y1="331.6" x2="477.7" y2="331.6" stroke="#444" stroke-width="1"/>
<line x1="475.2" y1="278.3" x2="477.7" y2="278.3" stroke="#444" stroke-width="1"/>
<line x1="475.2" y1="240.5" x2="477.7" y2="240.5" stroke="#444" stroke-width="1"/>
<line x1="475.2" y1="211.1" x2="477.7" y2="211.1" stroke="#444" stroke-width="1"/>
<line x1="475.2" y1="187.2" x2="477.7" y2="187.2" stroke="#444" stroke-width="1"/>
<line x1="475.2" y1="166.9" x2="477.7" y2="166.9" stroke="#444" stroke-width="1"/>
<line x1="475.2" y1="149.3" x2="477.7" y2="149.3" stroke="#444" stroke-width="1"/>
<line x1="475.2" y1="133.9" x2="477.7" y2="133.9" stroke="#444" stroke-width="1"/>
<line x1="475.2" y1="120" x2="479.7" y2="120" stroke="#444" stroke-width="1.3"/>
<text x="482" y="128.8" font-size="26.6">10<tspan font-size="19.3" dx="1.2" dy="-10.3">20</tspan></text>
<line x1="475.2" y1="422.8" x2="479.7" y2="422.8" stroke="#444" stroke-width="1.3"/>
<text x="482" y="431.6" font-size="26.6">10<tspan font-size="19.3" dx="1.2" dy="-10.3">19</tspan></text>
<line x1="475.2" y1="725.5" x2="479.7" y2="725.5" stroke="#444" stroke-width="1.3"/>
<text x="482" y="734.3" font-size="26.6">10<tspan font-size="19.3" dx="1.2" dy="-10.3">18</tspan></text>
<g clip-path="url(#cdb)"><g filter="url(#sm)"><path fill="#00009e" fill-rule="evenodd" d="M657.0 235.0H962.0V695.0H657.0Z"/>
<path fill="#0000ab" fill-rule="evenodd" d="M962.0 695.0 768.3 695.0 768.3 666.5 764.5 662.1 763.0 661.4 737.0 661.5 725.0 663.7 712.5 668.6 693.5 679.0 684.5 686.5 676.3 695.0 657.0 695.0 657.0 235.0 962.0 235.0 962.0 695.0Z"/>
<path fill="#0000b9" fill-rule="evenodd" d="M962.0 695.0 768.5 695.0 768.5 666.5 764.5 661.8 762.5 660.5 737.0 660.7 724.5 662.9 712.0 667.8 698.5 675.0 684.1 686.5 684.0 687.0 676.0 695.0 657.0 695.0 657.0 235.0 962.0 235.0 962.0 695.0Z"/>
<path fill="#0000c7" fill-rule="evenodd" d="M962.0 695.0 768.7 695.0 768.7 666.5 764.5 661.6 762.0 659.8 736.5 660.0 724.0 662.3 712.0 667.0 700.1 673.5 684.0 686.4 675.5 695.0 657.0 695.0 657.0 235.0 962.0 235.0 962.0 695.0Z"/>
<path fill="#0000d5" fill-rule="evenodd" d="M962.0 695.0 768.9 695.0 768.9 666.5 764.0 660.9 761.5 659.2 736.5 659.4 724.0 661.7 711.5 666.5 702.5 671.5 693.2 678.5 684.0 686.2 675.5 695.0 657.0 695.0 657.0 235.0 962.0 235.0 962.0 695.0Z"/>
<path fill="#0000e3" fill-rule="evenodd" d="M962.0 695.0 769.0 695.0 769.0 666.5 764.0 660.7 762.0 658.9 761.0 658.7 736.5 658.9 724.0 661.1 711.3 666.0 703.5 670.5 693.0 678.5 684.0 686.1 675.4 695.0 657.0 695.0 657.0 235.0 962.0 235.0 962.0 695.0Z"/>
<path fill="#0000f1" fill-rule="evenodd" d="M962.0 695.0 769.1 695.0 769.1 666.5 764.0 660.6 761.0 658.2 736.5 658.4 723.5 660.7 711.1 665.5 706.0 668.5 693.4 678.0 684.0 686.0 683.9 686.5 675.4 695.0 657.0 695.0 657.0 235.0 962.0 235.0 962.0 695.0Z"/>
<path fill="#0000ff" fill-rule="evenodd" d="M962.0 695.0 769.2 695.0 769.2 666.5 763.0 659.4 760.5 657.7 736.5 657.9 723.5 660.2 711.0 665.0 705.1 669.0 693.3 678.0 684.0 685.9 683.9 686.5 675.4 695.0 657.0 695.0 657.0 235.0 962.0 235.0 962.0 695.0Z"/>
<path fill="#0000ff" fill-rule="evenodd" d="M962.0 695.0 769.4 695.0 769.4 666.5 762.5 658.8 761.0 657.5 760.0 657.2 736.5 657.5 723.0 659.9 712.0 664.1 705.5 668.5 693.1 678.0 684.0 685.7 683.9 686.5 675.4 695.0 657.0 695.0 657.0 235.0 962.0 235.0 962.0 695.0Z"/>
<path fill="#0009ff" fill-rule="evenodd" d="M962.0 695.0 769.5 695.0 769.5 666.5 762.5 658.6 760.5 657.0 759.5 656.8 736.5 657.1 722.9 659.5 712.5 663.5 704.0 669.5 684.0 685.6 683.9 686.5 675.4 695.0 657.0 695.0 657.0 235.0 962.0 235.0 962.0 695.0Z"/>
<path fill="#0015ff" fill-rule="evenodd" d="M962.0 695.0 769.6 695.0 769.6 666.5 762.5 658.5 760.5 656.7 759.5 656.4 736.5 656.7 722.5 659.2 713.0 663.0 702.5 670.5 684.0 685.5 683.9 686.5 675.4 695.0 657.0 695.0 657.0 235.0 962.0 235.0 962.0 695.0Z"/>
<path fill="#0022ff" fill-rule="evenodd" d="M962.0 695.0 769.7 695.0 769.7 666.5 762.5 658.3 759.5 656.0 736.0 656.4 723.5 658.5 716.0 661.2 710.4 664.5 692.7 678.0 683.8 685.5 683.8 686.5 675.3 695.0 657.0 695.0 657.0 235.0 962.0 235.0 962.0 695.0Z"/>
<path fill="#002eff" fill-rule="evenodd" d="M962.0 695.0 769.8 695.0 769.8 666.5 762.0 657.7 759.0 655.6 736.0 656.0 723.5 658.1 716.5 660.6 709.5 665.0 692.5 678.0 683.7 685.5 683.8 686.5 675.3 695.0 657.0 695.0 657.0 235.0 962.0 235.0 962.0 695.0Z"/>
<path fill="#003aff" fill-rule="evenodd" d="M962.0 695.0 769.9 695.0 769.9 666.5 762.0 657.6 759.5 655.5 758.5 655.3 736.0 655.6 723.5 657.7 717.1 660.0 710.0 664.5 692.4 678.0 683.5 685.5 683.8 686.5 675.3 695.0 657.0 695.0 657.0 235.0 962.0 235.0 962.0 695.0Z"/>
<path fill="#0046ff" fill-rule="evenodd" d="M962.0 695.0 770.0 695.0 770.0 666.5 762.0 657.4 760.0 655.6 758.5 654.9 736.0 655.3 723.5 657.3 718.5 659.1 710.5 664.0 692.3 678.0 683.5 685.4 683.8 686.5 675.3 695.0 657.0 695.0 657.0 235.0 962.0 235.0 962.0 695.0Z"/>
<path fill="#0053ff" fill-rule="evenodd" d="M962.0 695.0 770.1 695.0 770.1 666.5 761.5 656.8 759.5 655.1 758.0 654.6 736.0 654.9 723.5 656.9 719.0 658.5 710.4 664.0 692.2 678.0 683.5 685.3 683.8 686.5 675.3 695.0 657.0 695.0 657.0 235.0 962.0 235.0 962.0 695.0Z"/>
<path fill="#005fff" fill-rule="evenodd" d="M962.0 695.0 770.2 695.0 770.2 666.5 761.5 656.7 759.5 654.9 758.0 654.2 736.0 654.6 724.0 656.5 720.5 657.5 710.9 663.5 692.5 677.6 683.5 685.2 683.7 686.5 675.2 695.0 657.0 695.0 657.0 235.0 962.0 235.0 962.0 695.0Z"/>
<path fill="#006bff" fill-rule="evenodd" d="M962.0 695.0 770.3 695.0 770.3 666.5 761.5 656.5 759.0 654.4 757.5 653.9 736.0 654.2 724.0 656.1 721.0 657.0 710.1 664.0 692.0 677.9 683.5 685.1 683.7 686.5 675.2 695.0 657.0 695.0 657.0 235.0 962.0 235.0 962.0 695.0Z"/>
<path fill="#0077ff" fill-rule="evenodd" d="M962.0 695.0 770.4 695.0 770.4 666.5 761.5 656.4 759.0 654.2 757.5 653.5 736.0 653.9 721.5 656.4 710.5 663.6 692.0 677.8 683.5 685.0 683.7 686.5 675.2 695.0 657.0 695.0 657.0 235.0 962.0 235.0 962.0 695.0Z"/>
<path fill="#0083ff" fill-rule="evenodd" d="M799.5 695.0 770.5 695.0 770.5 666.5 761.0 655.8 758.5 653.7 757.0 653.2 736.0 653.5 722.0 655.9 710.5 663.5 692.0 677.7 683.5 684.9 683.7 686.5 675.2 695.0 657.0 695.0 657.0 686.8 671.3 672.5 680.5 659.3 689.8 647.5 698.2 635.5 700.9 627.0 703.1 618.0 703.3 613.0 703.0 599.9 699.0 599.8 696.5 600.8 691.0 601.3 690.5 601.8 683.0 602.3 682.5 602.7 678.5 602.9 678.0 603.3 674.5 603.3 674.0 603.8 666.5 604.3 666.0 604.8 662.5 604.9 662.0 605.3 658.5 605.4 658.0 605.9 657.0 605.9 657.0 235.0 962.0 235.0 962.0 686.0 960.0 684.5 956.5 683.0 955.5 682.0 951.0 680.0 950.0 679.0 947.0 677.5 928.0 668.0 927.0 668.0 918.5 663.5 917.5 663.4 913.0 660.9 912.0 660.9 907.5 658.4 906.5 658.4 902.0 655.9 901.0 655.9 895.0 652.9 891.5 651.9 887.5 649.9 885.0 649.4 883.5 648.4 881.0 647.9 879.5 646.9 877.0 646.4 875.0 645.3 873.5 645.3 871.5 644.3 869.5 644.1 843.0 621.7 842.5 621.7 840.0 619.2 839.5 619.2 837.0 616.7 836.5 616.7 834.0 614.2 833.5 614.2 831.0 611.7 830.5 611.7 828.0 609.2 827.5 609.3 823.0 605.3 822.5 605.4 816.0 600.4 814.0 599.4 813.0 599.4 813.0 599.9 853.6 640.5 852.5 640.0 850.5 640.2 850.0 639.7 849.0 639.7 843.7 636.5 810.0 602.8 808.8 603.5 808.5 604.8 808.0 604.3 806.8 605.0 806.5 606.4 805.5 606.0 804.5 606.7 804.3 607.0 805.5 608.9 803.5 608.5 804.0 609.0 803.0 609.5 803.5 610.0 802.5 610.4 802.9 611.0 802.0 611.4 802.4 612.0 801.5 612.4 801.8 613.0 801.0 613.3 801.3 614.0 800.5 614.3 800.8 615.0 800.0 615.3 800.2 616.0 799.5 616.2 799.7 617.0 799.0 617.2 799.1 618.0 798.5 618.1 798.6 619.0 798.0 619.1 798.1 620.0 797.3 620.5 797.5 621.5 797.0 621.7 793.4 641.0 793.7 643.0 793.3 643.5 795.3 653.0 799.8 666.5 799.5 695.0ZM809.0 605.3 808.7 605.0 809.0 604.8 809.0 605.3ZM807.0 606.9 806.6 606.5 807.0 606.3 807.0 606.9ZM806.0 609.4 805.6 609.0 806.0 609.4Z"/>
<path fill="#0090ff" fill-rule="evenodd" d="M797.5 695.0 770.5 695.0 770.5 666.5 761.0 655.7 758.5 653.5 757.0 652.9 736.0 653.2 722.5 655.4 710.5 663.4 692.0 677.6 683.5 684.8 683.7 686.5 675.2 695.0 657.0 695.0 657.0 687.2 664.0 681.1 668.5 678.0 672.6 674.0 681.8 660.5 691.3 648.5 699.7 636.5 702.9 627.5 702.3 627.0 704.4 617.5 703.9 600.0 701.0 591.4 699.6 591.0 700.5 590.6 700.5 589.9 698.5 589.9 690.5 592.9 689.5 592.9 688.0 593.9 687.0 593.9 683.0 595.7 682.0 595.7 681.5 596.2 665.5 601.2 665.0 601.7 659.5 603.1 659.0 603.6 657.5 603.6 657.0 604.1 657.0 235.0 962.0 235.0 962.0 685.9 960.0 684.4 956.5 682.9 955.5 681.9 951.0 679.9 950.0 678.9 918.5 663.4 917.5 663.4 913.0 660.9 912.0 660.9 907.5 658.4 906.5 658.4 902.0 655.9 901.0 655.9 898.5 654.3 897.5 654.3 895.0 652.8 891.5 651.8 887.5 649.8 885.0 649.3 883.5 648.3 881.0 647.8 879.5 646.8 877.0 646.2 875.0 645.0 873.5 645.0 870.9 644.0 819.5 592.1 817.0 594.5 820.5 598.0 819.5 598.1 818.5 597.1 816.5 596.2 815.5 596.2 813.5 598.5 813.7 599.0 813.0 599.0 810.5 601.8 803.9 607.0 796.6 620.5 792.0 640.5 792.2 643.0 791.0 643.5 793.3 653.5 797.5 666.5 797.5 695.0ZM820.5 598.6 820.5 598.0 821.0 598.5 820.5 598.6ZM821.0 599.1 821.0 598.5 821.5 599.0 821.0 599.1Z"/>
<path fill="#009cff" fill-rule="evenodd" d="M795.0 695.0 770.6 695.0 770.6 666.5 761.5 656.1 759.0 653.7 757.0 652.5 736.0 652.9 723.0 655.0 710.5 663.3 692.0 677.5 683.5 684.7 683.3 685.5 683.6 686.5 675.1 695.0 657.0 695.0 657.0 687.4 668.0 678.4 673.8 675.0 683.2 661.5 692.6 649.5 701.2 637.5 704.8 628.0 703.9 627.0 705.7 618.0 704.6 599.5 701.0 589.0 697.0 581.2 695.0 581.2 693.0 582.2 692.0 582.2 690.0 583.2 689.0 583.2 685.5 584.7 668.0 590.2 657.0 594.3 657.0 235.0 962.0 235.0 962.0 685.9 960.0 684.4 956.5 682.9 955.5 681.9 951.0 679.8 950.0 678.8 918.5 663.3 917.5 663.3 913.0 660.8 912.0 660.8 907.5 658.3 906.5 658.3 902.0 655.8 901.0 655.8 898.5 654.2 897.5 654.2 895.0 652.7 891.5 651.7 887.5 649.7 885.0 649.2 883.5 648.2 881.0 647.6 879.5 646.6 877.0 646.1 856.1 621.5 832.1 589.0 828.0 585.0 827.5 585.0 827.5 586.0 828.5 588.0 837.3 600.0 837.0 600.2 824.5 587.7 822.8 589.0 822.7 590.0 823.6 591.5 823.5 592.5 821.5 590.5 821.0 590.5 818.1 593.0 810.5 601.4 803.6 607.0 795.9 620.5 790.6 640.5 790.5 642.5 788.6 643.0 790.7 652.0 795.4 666.5 795.4 695.0 795.0 695.0ZM824.0 593.0 823.5 592.5 824.0 592.4 824.0 593.0ZM824.5 593.5 824.0 593.0 824.5 592.9 824.5 593.5ZM837.5 600.7 837.5 600.2 837.8 600.5 837.5 600.7ZM838.0 601.2 838.0 600.7 838.3 601.0 838.0 601.2ZM838.5 601.7 838.5 601.2 838.8 601.5 838.5 601.7ZM839.0 602.2 839.0 601.7 839.3 602.0 839.0 602.2ZM839.5 602.7 839.5 602.2 839.8 602.5 839.5 602.7Z"/>
<path fill="#00a8ff" fill-rule="evenodd" d="M793.0 695.0 770.7 695.0 770.7 666.5 761.0 655.4 758.0 652.8 756.5 652.2 736.0 652.6 723.5 654.5 711.0 662.8 692.0 677.4 683.5 684.6 683.2 685.5 683.6 686.5 675.1 695.0 657.0 695.0 657.0 694.0 674.7 676.5 684.5 662.5 694.0 650.5 702.6 638.5 706.8 628.0 705.5 627.5 706.9 618.0 705.4 599.5 701.5 588.5 694.5 574.0 693.3 574.0 694.0 573.8 694.0 572.9 692.0 572.9 691.5 573.4 690.5 573.4 690.0 573.9 687.5 574.4 687.0 574.9 686.0 574.9 685.5 575.4 684.5 575.4 684.0 575.9 683.0 575.9 682.5 576.4 681.5 576.4 681.0 576.9 680.0 576.9 678.0 577.9 677.0 577.9 675.0 578.9 657.5 584.4 657.0 584.9 657.0 235.0 962.0 235.0 962.0 685.8 960.0 684.3 956.5 682.8 955.5 681.8 951.0 679.8 950.0 678.8 928.0 667.7 927.0 667.7 918.5 663.2 917.5 663.2 913.0 660.7 912.0 660.7 907.5 658.2 906.5 658.2 902.0 655.7 901.0 655.7 898.5 654.1 897.5 654.1 895.0 652.6 894.0 652.6 890.0 650.6 889.0 650.6 887.5 649.6 882.8 648.0 873.8 636.5 836.3 586.0 832.0 581.8 831.4 582.0 831.0 583.5 830.0 583.0 829.3 583.5 829.0 584.7 828.5 584.2 827.2 585.0 827.1 586.0 828.0 588.2 826.0 586.2 825.5 586.4 818.0 592.8 810.0 601.5 803.5 606.5 795.4 620.0 789.1 640.5 788.9 642.5 786.4 642.5 789.0 653.5 793.3 666.5 793.0 695.0ZM831.5 584.0 831.0 583.5 831.5 583.2 831.8 583.5 831.5 584.0ZM829.5 585.2 829.5 584.9 829.5 585.2Z"/>
<path fill="#00b4ff" fill-rule="evenodd" d="M791.0 695.0 770.8 695.0 770.8 666.5 760.5 654.8 757.5 652.3 756.0 651.9 735.5 652.3 723.5 654.3 710.0 663.4 688.0 680.6 683.4 684.5 683.2 685.5 683.6 686.5 675.1 695.0 657.0 695.0 657.0 694.2 659.5 691.7 667.5 685.1 668.0 685.1 675.8 677.5 703.9 639.5 708.7 628.5 707.1 627.5 708.1 618.0 706.2 599.5 702.3 588.5 692.0 566.6 690.7 566.5 691.5 566.2 691.5 565.4 689.5 565.4 689.0 565.9 688.0 565.9 687.5 566.4 686.5 566.4 686.0 566.9 685.0 566.9 684.5 567.4 683.5 567.4 683.0 567.9 682.0 567.9 681.5 568.4 680.5 568.4 680.0 568.9 679.0 568.9 678.5 569.4 677.5 569.4 677.0 569.9 676.0 569.9 675.5 570.4 674.5 570.4 674.0 570.9 673.0 570.9 672.5 571.4 671.5 571.4 671.0 571.9 670.0 571.9 669.5 572.4 668.5 572.4 668.0 572.9 667.0 572.9 666.5 573.4 665.5 573.4 665.0 573.9 657.0 576.4 657.0 235.0 962.0 235.0 962.0 685.7 960.0 684.2 956.5 682.7 955.5 681.7 951.0 679.7 950.0 678.7 928.0 667.6 927.0 667.6 918.5 663.1 917.5 663.1 913.0 660.6 912.0 660.6 907.5 658.1 906.5 658.1 902.0 655.6 901.0 655.6 898.5 654.0 897.5 654.0 895.6 653.0 842.1 581.5 838.0 577.5 837.5 577.5 837.5 578.5 838.3 580.5 836.0 578.6 835.3 579.0 835.0 580.3 834.5 579.8 834.0 579.9 827.5 584.6 818.0 592.6 810.0 601.1 803.5 606.0 794.6 620.0 787.3 642.0 784.3 642.0 787.2 654.5 789.6 660.5 791.3 666.5 791.0 695.0ZM835.5 580.8 835.5 580.3 835.5 580.8ZM838.5 581.1 838.5 580.7 838.8 581.0 838.5 581.1ZM839.0 581.6 839.0 581.2 839.3 581.5 839.0 581.6Z"/>
<path fill="#00c1ff" fill-rule="evenodd" d="M789.0 695.0 770.9 695.0 770.9 666.5 760.5 654.7 758.0 652.4 756.0 651.5 735.5 651.9 724.0 653.9 710.0 663.3 687.0 681.4 683.3 684.5 683.6 686.5 675.1 695.0 657.0 695.0 657.0 694.3 662.5 689.3 663.0 689.3 667.5 685.3 676.8 678.5 705.5 640.0 710.5 628.5 708.7 628.0 709.4 618.5 706.9 599.0 702.9 588.0 698.0 578.0 689.5 558.9 685.5 559.1 685.0 559.6 683.5 559.6 683.0 560.1 681.5 560.1 679.0 561.1 675.5 561.6 675.0 562.1 673.5 562.1 673.0 562.6 667.5 563.7 667.0 564.2 665.5 564.2 663.5 565.2 662.0 565.2 660.0 566.2 657.0 566.7 657.0 235.0 962.0 235.0 962.0 685.7 960.0 684.2 956.5 682.7 955.5 681.7 951.0 679.7 950.0 678.7 929.0 668.0 927.0 667.5 918.5 663.0 917.5 663.0 913.0 660.5 912.0 660.5 904.8 657.0 846.3 578.5 842.0 574.3 841.4 574.5 841.0 575.9 840.0 575.5 839.2 576.0 839.0 577.0 838.5 576.5 827.0 584.7 817.8 592.5 809.7 601.0 803.2 606.0 794.0 619.8 785.7 641.5 783.5 641.8 782.3 641.5 785.6 655.5 787.9 661.0 789.3 666.5 789.3 695.0 789.0 695.0ZM841.5 576.4 841.1 576.0 841.5 575.7 841.8 576.0 841.5 576.4Z"/>
<path fill="#00cdff" fill-rule="evenodd" d="M787.0 695.0 771.0 695.0 771.0 666.5 760.0 654.0 757.5 651.9 755.5 651.2 735.5 651.6 724.5 653.5 719.5 656.5 710.0 663.2 687.0 681.2 683.1 684.5 683.6 686.5 675.1 695.0 662.5 695.0 677.5 680.0 685.0 669.5 706.7 641.0 712.4 629.0 711.0 628.7 710.4 628.0 710.6 618.5 707.7 599.0 703.7 588.0 696.3 572.5 687.5 552.0 686.5 552.0 687.0 552.0 687.0 550.8 685.0 550.6 684.5 551.1 683.5 551.1 683.0 551.6 682.0 551.6 681.5 552.1 680.5 552.1 680.0 552.6 679.0 552.6 678.5 553.1 677.5 553.1 677.0 553.6 676.0 553.6 675.5 554.1 674.5 554.1 674.0 554.6 673.0 554.6 672.5 555.1 671.5 555.1 671.0 555.6 670.0 555.6 669.5 556.1 668.5 556.1 668.0 556.6 667.0 556.6 666.5 557.1 665.5 557.1 665.0 557.6 657.0 560.1 657.0 235.0 962.0 235.0 962.0 685.6 960.0 684.1 956.5 682.6 955.5 681.6 951.0 679.6 950.0 678.6 930.5 669.0 928.8 667.5 928.8 667.0 923.8 661.5 923.8 661.0 918.8 655.5 918.8 655.0 916.3 652.5 916.3 652.0 913.8 649.5 913.8 649.0 878.8 607.5 878.8 607.0 871.3 598.5 868.8 595.0 861.3 586.5 861.3 586.0 858.8 583.5 858.8 583.0 854.6 578.5 854.6 578.0 847.0 570.4 845.8 571.0 845.7 571.5 846.5 574.0 844.5 572.0 829.0 583.0 817.5 592.5 809.5 600.8 803.0 605.8 793.4 619.5 783.9 641.5 780.3 641.0 783.7 655.5 786.4 662.0 787.5 666.5 787.5 695.0 787.0 695.0Z"/>
<path fill="#00d9ff" fill-rule="evenodd" d="M785.5 695.0 771.1 695.0 771.1 666.5 760.5 654.4 757.5 651.7 755.5 650.9 735.5 651.3 726.5 652.6 724.1 653.5 709.0 663.8 683.0 684.4 683.5 686.5 675.0 695.0 664.0 695.0 679.4 679.5 698.9 654.0 708.5 641.0 714.2 629.5 714.0 628.9 712.0 628.5 711.9 618.5 708.3 598.5 704.2 587.5 694.0 565.5 684.5 542.0 680.5 542.1 680.0 542.6 678.5 542.6 678.0 543.1 676.5 543.1 676.0 543.6 674.5 543.6 674.0 544.1 672.5 544.1 672.0 544.6 670.5 544.6 670.0 545.1 668.5 545.1 668.0 545.6 666.5 545.6 666.0 546.1 664.5 546.1 664.0 546.6 662.5 546.6 662.0 547.1 657.0 548.1 657.0 235.0 962.0 235.0 962.0 685.6 960.0 684.1 956.5 682.6 955.5 681.6 947.5 677.5 944.7 674.5 944.7 674.0 932.2 659.5 932.2 659.0 929.7 656.5 929.7 656.0 927.2 653.5 927.2 653.0 922.2 647.5 922.2 647.0 912.2 635.5 912.2 635.0 909.7 632.5 909.7 632.0 904.7 626.5 904.7 626.0 899.7 620.5 899.7 620.0 867.2 581.5 867.2 581.0 864.7 578.5 864.7 578.0 852.5 565.6 851.8 566.5 852.7 568.5 852.5 569.3 850.5 567.3 850.0 567.4 848.5 568.9 827.0 584.3 817.5 592.3 809.4 600.5 802.9 605.5 792.7 619.5 782.3 641.0 779.0 640.9 778.3 640.5 781.1 652.5 782.7 658.0 784.7 662.5 785.7 666.5 785.5 695.0ZM853.0 569.8 853.0 569.3 853.0 569.8ZM853.5 570.3 853.5 569.8 853.5 570.3Z"/>
<path fill="#00e5f7" fill-rule="evenodd" d="M783.5 695.0 771.2 695.0 771.2 666.5 760.5 654.3 757.5 651.6 755.5 650.6 735.5 650.9 727.0 652.2 725.0 652.9 720.5 655.5 709.5 663.3 683.0 684.3 683.5 686.5 675.0 695.0 664.1 695.0 673.3 687.5 679.3 681.5 709.3 642.5 716.1 629.5 714.5 629.2 713.6 628.5 713.1 618.5 709.1 598.5 704.9 587.5 699.8 577.0 691.2 557.0 682.0 532.4 680.7 532.0 681.5 531.7 681.5 530.8 677.5 530.8 677.0 531.3 675.5 531.3 675.0 531.8 673.5 531.8 673.0 532.3 671.5 532.3 671.0 532.8 669.5 532.8 669.0 533.3 661.5 534.8 661.0 535.3 657.5 535.8 657.0 536.3 657.0 235.0 962.0 235.0 962.0 685.5 960.0 684.0 956.5 682.5 952.9 679.5 952.9 679.0 950.9 677.0 949.4 674.5 947.4 672.5 945.9 670.0 943.9 668.0 942.4 665.5 940.4 663.5 938.9 661.0 936.9 659.0 935.4 656.5 933.4 654.5 931.9 652.0 929.9 650.0 928.4 647.5 926.4 645.5 924.9 643.0 922.9 641.0 921.4 638.5 919.4 636.5 917.9 634.0 915.9 632.0 915.9 631.5 908.0 622.0 908.0 621.5 866.0 569.5 862.9 565.0 858.5 560.9 857.3 561.5 857.0 562.8 856.5 562.3 856.0 562.4 854.5 564.0 827.0 584.1 817.5 592.0 809.0 600.5 802.5 605.5 792.2 619.0 780.7 640.5 776.5 640.5 778.5 649.8 781.0 658.0 783.2 663.0 784.0 666.5 784.0 695.0 783.5 695.0ZM857.5 563.3 857.5 562.9 857.5 563.3Z"/>
<path fill="#0af2ed" fill-rule="evenodd" d="M782.0 695.0 771.3 695.0 771.3 666.5 760.0 653.6 757.0 651.0 755.0 650.2 743.5 650.8 735.5 650.6 727.5 651.7 725.0 652.7 720.5 655.4 709.5 663.2 683.0 684.2 682.7 684.5 683.5 686.5 675.0 695.0 664.3 695.0 671.0 689.3 680.1 682.5 710.4 643.5 717.8 630.0 717.0 629.3 715.3 629.0 714.4 619.0 709.9 598.5 705.5 587.2 698.2 571.5 687.8 546.5 680.3 524.0 676.0 505.6 675.0 505.5 675.9 505.0 675.0 500.2 673.9 500.0 674.8 499.5 674.0 494.3 672.9 494.0 673.9 493.5 673.5 491.1 672.5 491.0 673.4 490.5 673.0 487.9 672.0 487.9 671.9 487.5 672.8 487.0 672.5 484.4 671.5 484.4 671.4 484.0 672.4 483.5 672.0 480.5 671.0 480.5 670.9 480.0 671.9 479.5 671.5 476.5 669.5 476.5 671.3 475.5 671.0 472.5 669.0 472.5 668.9 472.0 670.8 471.0 670.5 468.2 668.5 468.0 670.3 467.0 670.0 463.9 666.0 463.9 665.9 463.5 667.5 463.4 669.8 462.0 669.5 459.1 665.5 459.0 667.0 459.0 669.3 457.5 669.0 454.2 663.0 454.0 666.5 453.4 668.8 452.0 668.5 448.4 662.5 448.4 662.4 448.0 666.0 447.4 668.3 446.0 668.0 441.2 657.0 441.2 657.0 440.4 665.5 438.8 667.8 437.5 667.5 430.0 657.0 430.0 657.0 414.8 667.5 414.8 667.8 407.0 665.5 405.6 662.0 405.1 661.5 404.6 659.0 404.6 658.5 404.0 657.0 403.7 668.0 403.7 668.3 398.5 666.0 397.1 664.5 397.1 664.0 396.5 662.5 396.3 668.5 396.3 668.8 392.0 666.5 390.6 664.9 390.5 665.0 390.1 669.0 390.1 669.3 386.5 667.0 385.0 665.5 384.8 669.5 384.8 669.9 381.5 668.0 380.5 670.0 380.4 670.3 378.0 668.5 377.0 670.5 376.8 670.8 374.5 669.9 374.0 671.0 373.8 671.4 371.5 670.5 371.0 671.5 370.9 671.8 369.0 670.9 368.5 672.0 368.3 672.3 366.5 671.4 366.0 672.5 365.7 672.8 364.0 671.9 363.5 673.0 363.2 673.3 361.5 672.4 361.0 673.5 360.8 673.8 359.0 672.9 358.5 674.0 358.4 674.8 354.5 673.9 354.0 675.0 353.7 675.3 352.0 674.4 351.5 675.5 351.3 678.2 340.5 678.0 339.6 677.4 339.5 678.5 339.4 679.2 337.0 679.0 336.1 678.4 336.0 679.5 335.8 681.7 329.0 681.5 328.0 681.0 328.0 682.0 328.0 684.3 321.5 689.9 309.5 693.8 302.5 701.9 290.5 705.8 285.5 718.5 272.1 725.0 266.4 732.4 261.0 732.5 260.4 733.0 260.6 737.9 257.5 738.0 256.9 738.5 257.2 743.5 254.5 743.5 253.9 744.0 254.2 745.4 253.5 745.5 253.0 746.0 253.3 748.0 252.5 748.0 252.0 748.5 252.3 756.8 249.5 757.0 248.9 757.5 249.3 762.7 248.0 763.0 247.4 763.5 247.9 765.6 247.5 766.0 246.9 766.5 247.3 768.4 247.0 768.5 246.5 769.0 246.9 771.4 246.5 771.5 245.5 772.5 246.4 776.6 246.0 776.6 245.0 777.0 244.9 778.0 245.9 782.5 245.5 782.5 235.0 786.1 235.0 786.6 238.5 787.1 239.0 787.1 241.0 787.6 241.5 788.1 244.0 789.5 245.4 792.5 245.4 793.0 244.5 793.5 244.5 793.5 245.5 799.0 245.9 800.1 244.0 800.1 246.0 810.5 247.7 818.5 249.9 837.0 256.8 852.0 264.2 863.5 271.0 871.5 277.1 872.0 277.4 872.5 276.9 872.7 278.0 874.5 279.4 875.0 278.9 875.2 280.0 876.5 281.1 877.0 281.4 877.5 280.9 877.7 282.0 881.5 285.3 889.5 277.3 889.5 278.0 884.6 284.5 883.7 286.5 883.7 287.5 892.5 296.2 893.5 296.3 898.5 293.3 907.0 286.4 907.5 286.4 910.0 283.9 910.9 284.0 895.5 299.5 898.0 302.2 899.0 302.3 901.0 301.4 902.0 300.4 902.9 300.5 899.5 303.9 900.5 305.2 901.5 305.2 903.5 304.3 906.0 302.3 906.5 302.5 908.0 301.0 908.6 301.0 902.4 307.5 903.0 308.2 904.0 308.2 907.0 306.3 908.0 306.5 904.5 310.0 905.0 310.7 906.0 310.7 907.5 309.7 908.0 309.9 909.0 308.9 909.7 309.0 906.5 312.6 907.5 312.6 909.0 311.6 909.5 311.8 910.5 310.8 911.3 311.0 908.0 314.5 908.5 315.2 911.0 315.0 909.5 316.5 910.0 317.2 912.3 317.0 911.0 318.6 912.0 318.7 912.5 318.2 913.4 318.5 912.0 320.0 913.0 320.0 916.5 318.2 913.4 322.0 914.5 322.3 915.5 321.8 915.8 322.0 914.5 323.6 915.5 323.7 916.0 323.2 916.8 323.5 915.4 325.0 917.7 325.0 916.5 326.7 917.5 327.0 923.5 324.0 921.0 325.5 918.0 328.8 919.0 329.2 919.5 328.7 920.2 329.0 919.0 330.7 920.0 331.0 937.0 322.5 932.5 325.0 931.5 326.0 930.0 326.5 929.0 327.7 928.5 327.5 927.5 328.7 924.0 330.7 920.9 334.0 921.9 334.5 921.5 335.1 922.5 335.5 922.0 336.0 923.0 336.1 962.0 316.6 962.0 324.0 926.5 341.5 925.5 343.0 926.4 343.5 926.0 344.1 928.5 344.2 932.0 342.7 933.0 342.7 933.5 342.2 934.5 342.2 936.0 341.2 937.0 341.2 943.5 338.2 944.5 338.2 948.5 336.2 949.5 336.2 952.0 334.7 953.0 334.7 955.5 333.2 956.5 333.2 959.0 331.7 960.0 331.8 962.0 330.8 962.0 333.4 961.5 333.9 930.0 349.4 929.0 350.5 929.9 351.0 929.5 351.5 930.4 352.0 929.9 352.5 930.9 353.0 930.5 353.7 933.0 353.7 938.0 351.7 939.0 351.7 940.5 350.7 941.5 350.7 943.0 349.7 944.0 349.7 945.5 348.7 949.0 347.7 950.5 346.7 951.5 346.7 953.0 345.7 954.0 345.7 956.5 344.2 957.5 344.2 960.0 342.7 962.0 342.2 962.0 350.3 936.5 362.8 935.5 364.0 936.5 364.5 936.0 365.0 937.0 365.5 936.5 366.0 937.4 366.5 937.0 367.0 937.9 367.5 937.5 368.0 938.4 368.5 938.0 369.1 938.9 369.5 938.5 370.0 939.4 370.5 939.0 371.2 941.5 371.2 945.0 369.7 946.0 369.8 946.5 369.2 947.5 369.3 949.0 368.3 950.0 368.3 951.5 367.3 952.5 367.3 954.0 366.3 955.0 366.3 956.5 365.3 957.5 365.4 959.0 364.3 960.0 364.4 962.0 363.4 961.5 364.6 942.0 374.1 941.0 375.5 941.8 376.0 941.5 376.7 943.0 376.9 944.0 376.9 946.0 375.9 947.1 376.0 943.5 377.6 942.5 379.2 945.0 379.3 947.0 378.3 948.2 378.5 944.5 380.2 943.5 381.6 946.0 381.9 948.0 380.9 949.1 381.0 945.5 382.6 944.4 384.0 945.7 384.5 945.0 385.7 946.4 386.0 945.5 387.1 946.9 387.5 946.0 388.5 947.4 389.0 946.4 390.0 947.8 390.5 946.9 391.5 948.2 392.0 947.5 393.4 950.1 393.5 949.0 393.6 947.9 395.0 949.1 395.5 948.3 396.5 948.5 397.2 949.7 397.5 948.8 398.5 949.0 399.3 951.6 399.5 950.5 399.6 949.3 401.0 949.5 401.7 953.7 402.0 951.0 402.8 949.9 404.0 950.0 404.9 956.5 405.0 954.5 405.0 954.0 405.7 951.5 406.2 950.3 407.5 950.5 410.3 962.0 410.3 962.0 425.9 950.5 425.9 950.4 427.5 951.5 428.7 954.0 429.3 954.5 429.8 956.7 430.0 956.5 430.5 950.0 430.5 949.9 431.5 951.0 432.7 953.7 433.5 953.5 434.0 949.5 434.0 949.3 435.0 950.5 436.3 953.0 437.0 949.0 437.1 948.8 438.0 950.0 439.4 951.1 439.5 951.0 439.9 948.5 439.9 948.4 440.5 949.5 441.8 950.7 442.0 950.5 442.3 948.0 442.3 947.9 443.0 949.0 444.4 950.1 444.5 947.5 444.6 947.4 445.0 948.5 446.3 949.7 446.5 947.0 446.7 948.0 448.4 949.1 448.5 946.5 448.6 947.3 450.0 947.0 450.5 946.0 450.5 945.9 451.0 946.6 452.0 945.4 452.5 946.2 453.5 944.9 454.0 945.8 455.0 944.5 455.4 945.4 456.5 944.0 456.8 944.8 458.0 943.5 458.3 944.2 459.5 943.0 459.7 943.6 461.0 942.5 461.0 942.7 462.0 941.9 462.5 942.7 463.5 941.5 463.6 941.7 464.5 941.0 465.0 941.7 466.0 940.5 466.1 940.7 467.0 939.9 467.5 940.3 468.0 939.5 468.5 940.1 469.5 939.0 469.5 939.1 470.5 938.3 471.0 938.7 471.5 937.8 472.0 938.2 472.5 937.4 473.0 937.7 473.5 936.9 474.0 937.3 474.5 936.5 474.8 936.7 475.5 936.0 475.7 936.2 476.5 935.5 476.7 935.6 477.5 935.0 477.6 935.1 478.5 934.5 478.6 934.0 479.5 934.5 480.0 933.5 480.4 933.8 481.0 933.0 481.3 933.2 482.0 932.5 482.1 932.0 483.0 932.5 483.5 931.5 483.8 931.7 484.5 931.0 484.6 930.4 485.5 930.8 486.0 930.0 486.2 929.4 487.0 930.8 488.5 928.5 488.2 927.5 489.5 928.9 491.0 926.5 490.7 925.0 492.5 928.1 496.0 927.5 496.0 926.5 495.0 924.5 494.1 923.5 494.2 921.5 496.6 924.9 500.0 924.0 500.1 923.0 499.1 921.0 498.2 920.0 498.2 918.0 500.5 924.4 507.0 923.5 507.1 922.0 505.6 921.5 505.7 919.0 503.7 917.0 502.7 916.0 502.8 914.5 504.5 929.6 520.0 929.0 520.0 926.5 517.5 926.0 517.6 917.5 510.7 912.5 507.7 911.5 507.8 909.0 510.5 945.4 547.0 944.5 547.0 940.5 543.0 940.0 543.1 932.5 536.1 932.0 536.1 919.5 525.2 919.0 525.2 910.5 518.2 905.5 515.2 904.5 515.3 890.5 529.5 962.0 601.4 962.0 605.1 910.5 558.6 910.0 558.7 903.5 552.7 903.0 552.7 892.5 543.7 892.0 543.7 885.5 538.7 883.5 537.7 882.5 537.7 879.0 541.5 889.5 552.0 888.5 552.1 882.5 547.1 877.5 544.2 876.5 544.3 872.5 548.5 962.0 638.3 962.0 640.3 871.5 549.8 867.2 553.5 867.0 554.8 866.5 554.3 866.0 554.5 864.0 556.4 826.9 584.0 817.3 592.0 809.0 600.1 802.5 605.1 791.4 619.0 779.0 640.3 774.6 640.0 776.8 650.0 782.3 666.0 782.4 695.0 782.0 695.0ZM913.0 281.9 912.9 281.5 913.4 281.5 913.0 281.9ZM912.5 282.4 912.4 282.0 912.9 282.0 912.5 282.4ZM912.0 282.9 912.0 282.4 912.4 282.5 912.0 282.9ZM911.5 283.4 911.4 283.0 911.9 283.0 911.5 283.4ZM911.0 283.9 910.9 283.5 911.4 283.5 911.0 283.9ZM903.5 299.9 903.5 299.4 903.9 299.5 903.5 299.9ZM903.0 300.4 902.9 300.0 903.4 300.0 903.0 300.4ZM908.5 306.0 908.5 305.3 909.0 305.5 908.5 306.0ZM908.0 306.5 908.0 305.8 908.5 306.0 908.0 306.5ZM912.0 310.3 912.0 309.8 912.3 310.0 912.0 310.3ZM911.5 310.8 911.5 310.3 911.8 310.5 911.5 310.8ZM911.0 315.0 911.0 314.3 911.5 314.5 911.0 315.0ZM912.5 316.8 912.5 316.3 912.5 316.8ZM917.5 317.6 917.2 317.5 917.5 317.2 917.5 317.6ZM913.5 318.4 913.2 318.0 913.5 317.7 913.9 318.0 913.5 318.4ZM917.0 318.1 916.7 318.0 917.0 317.7 917.0 318.1ZM916.0 321.8 916.0 321.3 916.0 321.8ZM939.0 321.5 938.5 321.5 939.0 321.5ZM938.0 322.0 937.5 322.0 938.0 322.0ZM917.0 323.3 916.7 323.0 917.0 322.7 917.3 323.0 917.0 323.3ZM924.5 323.5 924.0 323.5 924.5 323.5ZM918.0 324.7 918.0 324.2 918.0 324.7ZM920.5 328.7 920.5 328.2 920.5 328.7ZM948.0 375.6 947.4 375.5 948.0 375.6ZM950.0 377.7 950.0 377.3 950.0 377.7ZM949.0 378.2 948.3 378.0 949.0 377.8 949.0 378.2ZM950.0 380.6 949.4 380.5 950.0 380.6ZM931.0 489.1 931.0 488.7 931.0 489.1ZM929.0 491.6 929.0 491.1 929.4 491.5 929.0 491.6ZM925.0 500.6 925.0 500.1 925.4 500.5 925.0 500.6ZM925.5 501.1 925.5 500.6 925.9 501.0 925.5 501.1ZM924.5 507.6 924.5 507.1 924.9 507.5 924.5 507.6ZM925.0 508.1 925.0 507.6 925.4 508.0 925.0 508.1ZM925.5 508.6 925.5 508.1 925.9 508.5 925.5 508.6ZM945.5 547.5 945.5 547.1 945.9 547.5 945.5 547.5ZM946.0 548.0 946.0 547.6 946.4 548.0 946.0 548.0ZM946.5 548.5 946.5 548.1 946.9 548.5 946.5 548.5ZM947.0 549.0 947.0 548.6 947.4 549.0 947.0 549.0ZM947.5 549.5 947.5 549.1 947.9 549.5 947.5 549.5ZM948.0 550.0 948.0 549.6 948.4 550.0 948.0 550.0ZM948.5 550.5 948.5 550.1 948.9 550.5 948.5 550.5ZM949.0 551.0 949.0 550.6 949.4 551.0 949.0 551.0ZM889.5 552.6 889.5 552.0 890.0 552.5 889.5 552.6ZM890.0 553.1 890.0 552.5 890.5 553.0 890.0 553.1ZM890.5 553.6 890.5 553.0 891.0 553.5 890.5 553.6ZM891.0 554.1 891.0 553.5 891.5 554.0 891.0 554.1ZM867.5 555.3 867.2 555.0 867.5 555.3Z"/>
<path fill="#14fee3" fill-rule="evenodd" d="M780.5 695.0 771.5 695.0 771.5 666.5 759.5 653.0 756.5 650.5 754.5 649.9 743.5 650.4 735.0 650.3 728.0 651.3 725.0 652.5 710.0 662.7 684.5 682.7 682.6 684.5 683.0 686.0 674.0 695.0 664.5 695.0 675.0 686.4 680.9 683.0 711.5 644.3 719.7 630.0 717.5 629.6 716.9 629.0 715.7 619.5 710.6 598.5 706.1 587.0 698.9 571.5 689.4 548.5 683.7 532.5 679.7 519.0 675.1 497.0 670.6 464.0 668.5 440.0 668.0 417.5 668.8 400.5 670.7 379.5 673.2 365.0 678.2 342.5 682.5 328.5 687.7 315.5 694.4 303.0 701.7 292.0 713.1 278.5 723.5 268.7 732.0 262.2 745.0 254.6 753.0 251.4 762.0 249.0 771.5 247.3 781.5 246.4 791.5 246.2 802.5 247.1 810.0 248.4 819.0 250.9 836.0 257.2 853.5 265.9 863.0 271.7 877.5 282.5 885.5 289.8 897.5 302.2 904.0 309.8 912.0 320.5 912.5 320.5 912.4 321.0 917.0 327.9 917.6 328.0 917.3 328.5 919.5 331.9 920.1 332.0 920.0 332.8 920.7 333.0 920.4 333.5 922.0 336.5 922.6 336.5 922.5 337.4 923.2 337.5 923.0 338.3 923.8 338.5 923.4 339.0 924.2 339.5 923.9 340.0 924.7 340.5 924.3 341.0 925.1 341.5 924.8 342.0 925.6 342.5 925.3 343.0 926.0 343.5 926.0 344.5 926.9 345.0 926.5 345.5 927.4 346.0 926.9 346.5 927.8 347.0 927.4 347.5 928.3 348.0 927.9 348.5 928.7 349.0 928.4 349.5 929.2 350.0 928.8 350.5 929.6 351.0 929.3 351.5 930.1 352.0 929.8 352.5 930.5 353.0 930.5 354.0 931.5 354.5 931.0 355.0 931.9 355.5 931.5 356.0 932.4 356.5 931.9 357.0 932.8 357.5 932.4 358.0 933.3 358.5 932.9 359.0 933.8 359.5 933.4 360.0 934.2 360.5 933.9 361.0 934.7 361.5 934.3 362.0 935.2 362.5 934.8 363.0 935.6 363.5 935.3 364.0 936.1 364.5 935.8 365.0 936.6 365.5 936.3 366.0 937.0 366.5 936.8 367.0 937.5 367.5 937.3 368.0 939.0 371.7 939.8 372.0 939.4 372.5 940.2 373.0 939.8 373.5 940.6 374.0 940.3 374.5 941.5 377.4 942.1 377.5 941.7 378.0 942.5 379.9 943.1 380.0 942.8 380.5 943.5 382.4 944.1 382.5 943.7 383.0 948.3 398.0 949.9 407.0 950.4 421.0 949.9 428.5 948.0 440.5 944.1 455.5 940.6 465.0 936.4 474.0 932.0 482.1 927.3 489.0 908.5 510.5 868.0 552.3 843.5 571.5 826.6 584.0 817.0 592.0 809.0 599.8 802.2 605.0 790.6 619.0 777.3 640.0 772.7 639.5 775.5 651.0 780.8 666.0 780.9 695.0 780.5 695.0Z"/>
<path fill="#1effd9" fill-rule="evenodd" d="M779.0 695.0 771.6 695.0 771.6 666.5 759.5 652.8 756.5 650.3 754.5 649.6 743.5 650.1 735.0 650.0 728.5 650.9 726.0 651.8 721.0 654.8 709.0 663.3 691.5 676.8 682.5 684.5 681.7 684.0 681.8 683.0 713.0 644.5 721.3 630.5 721.0 629.9 718.6 629.5 717.0 619.5 711.4 598.5 690.8 550.0 684.8 533.5 680.5 519.0 675.8 497.0 671.2 464.0 669.1 440.0 668.6 417.5 669.4 400.5 671.4 379.5 673.7 365.5 678.7 343.0 683.1 328.5 687.7 317.0 691.5 309.3 699.3 296.5 708.5 284.6 719.6 273.0 732.0 263.1 743.5 256.2 753.0 252.2 762.0 249.8 771.5 248.1 781.5 247.2 791.5 247.0 802.5 247.9 810.0 249.2 818.5 251.5 836.0 257.9 853.0 266.3 862.5 272.0 877.0 282.7 885.5 290.3 897.4 302.5 909.2 317.0 915.5 326.0 920.7 334.5 926.0 344.9 926.6 345.0 926.5 346.0 927.0 346.0 926.8 346.5 929.5 352.2 930.5 354.3 931.2 354.5 930.8 355.0 931.6 355.5 931.3 356.0 932.1 356.5 932.0 357.5 932.5 357.5 932.3 358.0 941.7 378.5 946.7 393.0 949.5 407.0 950.0 421.0 949.5 428.5 947.7 440.5 943.8 455.5 940.2 465.0 936.0 474.0 930.0 484.4 926.7 489.0 908.5 510.0 870.9 549.0 864.0 555.2 826.5 583.9 817.0 591.8 808.5 599.9 802.0 604.9 790.2 618.5 775.7 639.5 770.9 639.0 774.2 652.0 779.4 666.0 779.4 695.0 779.0 695.0Z"/>
<path fill="#27ffcf" fill-rule="evenodd" d="M778.0 695.0 771.7 695.0 771.7 666.5 760.0 653.2 757.0 650.5 754.5 649.2 743.5 649.8 735.0 649.6 729.0 650.4 726.5 651.4 721.5 654.3 713.0 660.3 683.0 683.5 682.2 683.5 703.5 658.5 713.5 646.0 717.0 641.0 723.0 630.5 720.3 629.5 718.3 620.0 711.9 598.0 691.7 550.5 685.6 533.5 681.1 518.5 676.4 496.5 671.7 463.5 669.5 437.5 669.3 415.0 670.5 394.5 672.4 376.5 675.7 358.5 679.4 342.5 683.7 328.5 688.8 316.0 695.6 303.5 703.0 292.5 714.0 279.5 724.1 270.0 732.6 263.5 745.0 256.3 753.5 252.9 762.5 250.5 771.5 248.9 781.5 248.0 792.0 247.8 803.0 248.8 810.0 249.9 818.5 252.3 835.5 258.4 853.0 266.9 862.5 272.6 876.7 283.0 885.0 290.4 897.0 302.6 909.2 317.5 919.0 332.0 923.7 340.5 938.2 371.0 944.2 386.0 947.6 398.0 949.2 407.0 949.6 421.0 949.1 428.5 947.3 441.0 945.0 450.5 941.8 460.0 937.8 469.5 933.5 477.7 928.7 485.5 924.4 491.0 903.8 514.5 870.5 548.9 863.5 555.1 826.5 583.7 817.0 591.6 808.5 599.6 801.5 605.0 789.4 618.5 774.1 639.0 772.0 639.2 771.5 638.8 770.0 638.9 769.1 638.5 773.0 653.0 778.0 666.0 778.0 695.0Z"/>
<path fill="#31ffc6" fill-rule="evenodd" d="M776.5 695.0 771.8 695.0 771.8 666.5 760.0 653.0 757.0 650.3 754.5 648.9 743.5 649.4 735.5 649.2 729.5 650.0 727.5 650.7 723.0 653.2 717.0 657.3 686.5 680.4 686.1 680.0 704.5 659.0 714.7 646.5 719.2 640.0 724.7 630.5 722.1 630.0 719.6 620.0 712.6 598.0 700.6 570.5 692.3 550.0 686.2 533.0 681.9 518.5 677.1 496.5 672.3 463.5 670.0 437.5 669.8 415.0 671.1 394.5 673.0 376.5 676.2 359.0 680.0 342.5 684.1 329.0 689.2 316.5 696.0 304.0 703.5 292.9 714.5 279.9 724.5 270.5 733.0 264.1 745.0 257.1 753.5 253.7 762.5 251.2 771.5 249.7 781.5 248.7 792.0 248.6 801.0 249.2 809.5 250.6 818.5 253.0 835.5 259.1 852.5 267.3 862.0 272.9 876.5 283.4 885.0 290.9 897.0 303.0 909.0 317.6 918.8 332.0 923.8 341.0 938.0 371.0 943.7 385.5 947.3 398.0 948.8 407.0 949.3 421.5 948.5 431.0 946.7 442.0 944.7 450.5 941.5 460.0 937.2 470.0 931.4 480.5 927.5 486.5 921.0 494.5 902.9 515.0 867.2 551.5 843.0 571.0 826.5 583.5 816.9 591.5 808.5 599.3 801.7 604.5 789.0 618.0 772.1 639.0 767.3 638.0 771.9 654.0 776.8 666.0 776.8 695.0 776.5 695.0ZM686.0 680.8 685.6 680.5 686.0 680.1 686.4 680.5 686.0 680.8ZM685.5 681.2 685.5 680.7 685.5 681.2Z"/>
<path fill="#3bffbc" fill-rule="evenodd" d="M775.5 695.0 772.0 695.0 772.0 666.5 759.5 652.3 756.5 649.7 754.0 648.5 743.5 649.1 735.0 648.9 730.0 649.6 728.0 650.3 721.0 654.3 690.5 676.9 690.0 676.5 705.0 660.0 715.8 647.0 721.1 639.5 726.5 630.5 723.8 630.0 723.5 629.2 713.3 598.0 701.3 570.5 693.8 552.0 687.3 534.0 682.6 518.5 677.7 496.0 672.8 463.5 670.6 437.5 670.4 415.0 671.6 394.5 673.5 376.5 676.7 359.0 680.6 342.5 684.7 329.0 689.8 316.5 696.5 304.3 704.0 293.3 715.0 280.4 725.0 271.0 733.5 264.6 745.5 257.6 754.0 254.3 762.5 252.0 772.0 250.4 781.5 249.5 792.0 249.3 802.5 250.2 809.5 251.3 818.0 253.6 835.0 259.6 852.5 267.9 862.0 273.5 876.0 283.6 884.5 290.9 897.0 303.5 909.0 318.0 918.8 332.5 923.8 341.5 937.8 371.0 943.6 386.0 947.0 398.5 948.4 407.0 948.9 421.5 948.1 431.5 945.8 445.0 943.2 454.5 939.3 464.5 935.0 473.5 928.7 484.0 913.7 502.5 898.6 519.0 866.6 551.5 843.0 570.7 826.3 583.5 808.0 599.4 801.3 604.5 788.2 618.0 770.4 638.5 765.6 637.5 770.7 654.5 775.7 666.0 775.5 695.0ZM690.0 677.3 689.6 677.0 690.0 676.5 690.4 677.0 690.0 677.3ZM689.5 677.7 689.1 677.5 689.5 677.1 689.5 677.7ZM689.0 678.1 689.0 677.7 689.0 678.1Z"/>
<path fill="#45ffb2" fill-rule="evenodd" d="M774.5 695.0 772.1 695.0 772.1 666.5 759.5 652.2 756.5 649.5 754.0 648.2 743.5 648.8 735.0 648.5 728.5 649.8 721.5 653.8 694.0 674.0 693.5 674.3 693.2 674.0 705.3 661.0 716.8 647.5 723.0 639.0 728.2 630.5 725.5 630.0 724.4 627.5 713.8 597.5 701.9 570.5 693.5 549.5 687.7 533.0 683.3 518.5 678.3 496.0 673.4 463.5 671.1 437.0 670.9 414.5 672.2 394.5 674.1 376.5 677.2 359.0 681.1 342.5 685.3 329.0 690.2 317.0 697.1 304.5 704.5 293.6 715.5 280.7 725.5 271.4 734.0 265.0 745.5 258.4 754.0 255.0 763.0 252.6 772.0 251.1 782.0 250.2 792.0 250.0 802.0 250.8 809.5 252.0 818.0 254.3 835.0 260.3 852.0 268.3 861.5 273.8 876.0 284.1 884.5 291.4 896.6 303.5 908.7 318.0 918.6 332.5 927.4 349.0 937.6 371.0 943.3 386.0 946.7 398.5 948.1 407.0 948.6 421.5 947.8 431.5 945.4 445.0 942.9 454.5 939.0 464.5 933.7 475.0 928.2 484.0 912.8 503.0 898.2 519.0 866.5 551.2 843.0 570.4 826.1 583.5 808.0 599.1 800.9 604.5 787.9 617.5 768.7 638.0 763.9 637.0 765.8 644.0 769.8 655.5 774.6 666.0 774.5 695.0ZM693.0 674.7 692.7 674.5 693.0 674.2 693.0 674.7Z"/>
<path fill="#4fffa8" fill-rule="evenodd" d="M773.5 695.0 772.3 695.0 772.3 666.5 759.5 652.0 756.5 649.3 754.0 647.9 743.5 648.4 735.5 648.1 729.5 649.2 722.0 653.3 697.0 671.5 696.3 671.5 706.9 660.5 718.2 647.5 724.8 638.5 729.8 630.5 727.3 630.0 725.5 626.5 714.5 597.5 700.3 565.0 691.1 541.0 683.9 518.0 678.7 495.0 673.9 463.5 671.6 437.0 671.4 414.5 672.7 394.5 674.6 376.5 677.3 361.0 681.5 343.0 685.7 329.5 690.8 317.0 697.4 305.0 705.0 294.0 715.1 282.0 726.0 271.8 734.0 265.8 745.7 259.0 754.0 255.7 763.0 253.3 772.0 251.8 782.0 250.9 792.0 250.7 801.0 251.4 809.0 252.6 819.0 255.2 835.0 260.9 852.0 268.9 861.5 274.4 875.9 284.5 886.5 293.8 897.2 304.5 908.5 318.2 918.4 332.5 927.2 349.0 937.4 371.0 943.0 386.0 946.4 398.5 947.8 407.5 948.1 423.5 946.9 435.5 945.2 445.0 942.6 454.5 938.4 465.0 933.3 475.0 926.6 485.5 909.3 506.5 897.8 519.0 865.6 551.5 801.0 604.1 768.5 636.2 766.5 637.5 762.3 636.5 764.4 644.0 768.8 656.0 773.9 666.5 773.9 695.0 773.5 695.0Z"/>
<path fill="#59ff9e" fill-rule="evenodd" d="M702.0 667.5 701.5 667.8 701.1 667.5 710.3 658.0 720.8 646.0 727.0 637.6 731.5 630.5 729.0 630.0 726.3 625.0 714.9 597.0 702.8 569.5 694.7 549.0 688.9 532.5 684.6 518.0 681.3 504.5 677.7 486.0 675.0 468.5 672.7 446.5 671.8 430.5 671.8 417.5 673.0 398.0 675.1 377.0 677.8 361.0 682.0 343.0 686.2 329.5 690.4 319.0 694.5 311.0 701.3 300.0 709.7 289.0 716.5 281.4 726.5 272.1 734.5 266.2 746.0 259.6 753.5 256.6 762.5 254.1 772.0 252.5 782.0 251.6 792.5 251.4 802.0 252.2 809.5 253.4 817.5 255.4 829.0 259.2 844.5 265.7 860.0 274.0 869.5 280.3 883.5 291.4 896.0 303.6 907.7 317.5 915.2 328.0 923.3 341.5 934.1 364.0 940.2 378.5 944.9 393.5 947.4 407.0 947.9 421.0 946.6 435.5 943.8 449.5 940.5 459.5 936.4 468.5 931.7 477.0 926.1 485.5 912.4 502.5 902.6 513.5 872.9 544.0 859.5 556.3 800.8 604.0 768.5 634.4 765.0 636.9 760.6 636.0 763.1 644.0 767.9 656.5 773.0 666.0 772.5 666.4 759.0 651.3 754.5 647.9 753.0 647.4 743.5 648.0 736.0 647.7 731.0 648.4 725.0 651.3 702.0 667.5ZM773.0 695.0 772.6 695.0 772.6 666.5 773.0 666.0 773.0 695.0ZM701.0 668.2 700.6 668.0 701.0 667.6 701.3 668.0 701.0 668.2ZM700.5 668.6 700.1 668.5 700.5 668.2 700.5 668.6Z"/>
<path fill="#63ff94" fill-rule="evenodd" d="M705.0 665.0 704.5 665.3 704.3 665.0 712.7 656.5 722.5 645.5 727.8 638.5 732.7 631.0 732.5 630.4 730.6 630.0 727.1 624.0 704.6 572.5 696.2 551.5 689.7 533.0 685.2 518.0 682.1 505.0 678.3 486.5 675.5 468.5 673.1 446.5 672.3 430.5 672.3 417.5 673.4 398.5 675.6 377.0 678.3 361.0 682.3 343.5 686.4 330.5 690.7 319.5 694.8 311.5 701.6 300.5 710.4 289.0 717.2 281.5 727.0 272.5 735.0 266.6 746.0 260.3 754.0 257.1 763.0 254.7 772.0 253.1 782.5 252.2 792.5 252.1 802.0 252.8 810.5 254.2 817.0 255.9 827.5 259.3 844.0 266.1 859.5 274.2 869.0 280.4 883.5 291.9 895.5 303.5 903.4 312.5 914.3 327.0 923.1 341.5 933.8 363.5 940.2 379.0 944.7 393.5 947.1 407.0 947.6 421.0 946.3 435.5 943.8 448.5 940.4 459.0 936.1 468.5 931.6 476.5 925.6 485.5 912.4 502.0 902.5 513.2 872.4 544.0 859.0 556.4 800.5 604.0 768.0 633.1 763.0 636.4 759.2 635.5 763.0 647.0 767.2 657.0 770.8 663.5 770.5 663.9 759.5 651.6 754.5 647.6 752.5 647.0 743.5 647.7 736.0 647.3 731.5 647.9 725.5 650.8 705.0 665.0ZM771.0 664.4 770.7 664.0 771.0 663.8 771.0 664.4ZM704.0 665.7 704.0 665.3 704.0 665.7Z"/>
<path fill="#6cff8a" fill-rule="evenodd" d="M709.5 661.5 709.0 661.8 708.6 661.5 717.0 653.0 724.9 644.0 734.3 631.0 732.3 630.0 728.5 624.1 722.8 612.5 705.2 572.5 698.1 555.0 691.9 537.5 686.7 521.0 682.6 505.0 678.8 486.5 676.1 469.0 674.1 452.0 673.0 437.0 672.6 422.5 673.3 406.5 675.6 380.5 677.7 366.5 681.4 349.0 684.7 337.0 688.9 325.0 694.3 313.5 699.0 305.5 706.5 294.7 716.0 283.6 723.2 276.5 733.0 268.7 740.0 264.2 747.0 260.5 754.5 257.6 763.5 255.2 772.5 253.7 782.0 252.9 791.5 252.7 801.5 253.4 810.5 254.8 827.0 259.7 842.5 265.9 852.5 270.8 868.5 280.5 881.5 290.6 890.5 298.8 903.0 312.3 914.1 327.0 923.2 342.0 933.9 364.0 939.8 378.5 944.4 393.5 946.8 407.0 947.3 421.0 946.0 435.5 943.6 448.0 941.7 454.5 937.7 464.5 932.5 474.4 925.5 485.0 912.0 502.0 902.3 513.0 871.5 544.5 859.0 556.0 807.5 598.4 800.2 604.0 767.5 632.0 761.5 635.6 757.7 635.0 761.0 645.0 765.5 655.3 768.4 660.5 768.0 660.9 758.0 649.9 755.0 647.6 752.5 646.6 743.5 647.3 735.5 646.9 731.5 647.6 723.5 651.7 709.5 661.5ZM768.5 661.4 768.2 661.0 768.5 660.7 768.5 661.4ZM708.5 662.2 708.1 662.0 708.5 661.7 708.5 662.2ZM708.0 662.5 707.7 662.5 708.0 662.5Z"/>
<path fill="#76ff80" fill-rule="evenodd" d="M712.5 659.1 712.0 659.4 711.8 659.0 719.4 651.5 726.5 643.5 735.8 631.0 734.2 630.5 729.4 623.5 723.5 612.0 708.3 578.5 699.3 556.5 693.3 540.0 687.7 522.5 683.2 505.0 679.3 486.5 676.4 468.5 674.5 452.0 673.4 437.0 673.1 422.5 673.7 406.5 676.1 380.5 678.2 366.5 681.7 349.5 685.2 337.0 689.2 325.5 694.8 313.5 699.2 306.0 706.9 295.0 716.3 284.0 723.5 276.9 733.5 269.0 740.0 264.8 747.0 261.1 754.5 258.2 763.5 255.8 773.0 254.3 782.5 253.4 791.5 253.3 801.5 254.0 810.5 255.4 827.0 260.2 842.0 266.2 852.5 271.3 868.0 280.6 882.0 291.4 890.5 299.2 902.9 312.5 913.9 327.0 922.8 341.5 930.8 357.5 939.2 377.5 944.1 393.5 946.5 407.0 947.0 421.0 945.8 435.5 943.4 448.0 941.3 455.0 937.2 465.0 932.4 474.0 925.1 485.0 911.6 502.0 902.0 513.0 871.0 544.6 862.7 552.5 852.1 561.5 807.5 598.2 800.5 603.5 778.0 622.4 766.0 631.6 759.8 635.0 756.2 634.5 759.5 644.1 765.9 657.5 765.5 657.8 757.5 649.2 753.5 646.5 752.0 646.2 743.5 646.9 735.5 646.5 732.5 646.9 727.5 649.1 712.5 659.1ZM766.0 658.4 765.7 658.0 766.0 657.6 766.0 658.4ZM711.5 659.7 711.8 659.5 711.5 659.7Z"/>
<path fill="#80ff77" fill-rule="evenodd" d="M717.0 655.6 716.5 655.9 716.2 655.5 728.1 643.0 737.2 631.0 735.8 630.5 730.0 622.6 724.3 612.0 708.9 578.5 702.8 564.0 694.2 541.0 688.5 523.0 683.7 505.0 679.8 486.5 676.9 468.5 674.9 452.0 673.8 437.0 673.5 422.5 674.2 406.5 676.6 380.5 678.6 366.5 681.8 351.0 685.4 337.5 689.6 325.5 693.3 317.5 698.8 307.5 707.0 295.7 712.9 288.5 722.0 279.0 730.0 272.2 740.0 265.4 747.0 261.7 754.5 258.8 763.5 256.4 773.0 254.9 782.5 254.0 791.5 253.9 801.5 254.5 810.5 256.0 827.0 260.8 842.0 266.7 852.5 271.8 868.0 281.1 881.5 291.4 890.0 299.0 902.6 312.5 913.7 327.0 922.7 341.5 930.4 357.0 939.2 378.0 943.9 393.5 946.3 407.0 946.8 421.0 945.6 435.0 943.1 448.0 939.6 459.0 935.7 467.5 932.0 474.1 924.7 485.0 911.7 501.5 901.7 513.0 870.5 544.7 861.7 553.0 842.5 569.3 778.5 621.1 766.0 630.3 757.9 634.5 754.8 634.0 758.0 643.0 763.9 655.0 763.5 655.2 756.0 647.7 753.5 646.2 751.5 645.8 744.0 646.5 733.5 646.3 727.0 649.1 717.0 655.6ZM764.0 655.7 764.0 655.1 764.0 655.7ZM716.0 656.2 715.7 656.0 716.0 655.7 716.4 656.0 716.0 656.2ZM764.5 656.2 764.5 655.9 764.5 656.2Z"/>
<path fill="#8aff6d" fill-rule="evenodd" d="M720.0 653.1 719.5 653.4 719.3 653.0 730.5 641.5 738.6 631.0 737.4 630.5 730.7 622.0 724.9 611.5 715.2 591.5 706.3 571.5 697.8 549.5 691.6 531.5 686.5 514.0 681.8 494.0 678.7 477.5 676.2 460.0 674.3 439.5 673.9 423.0 674.6 406.5 676.7 383.0 678.9 367.0 681.7 353.0 685.7 338.0 689.9 326.0 693.2 318.5 699.0 308.0 704.4 300.0 712.5 289.7 722.5 279.1 730.0 272.8 740.5 265.7 747.0 262.3 755.0 259.2 763.5 257.0 773.5 255.4 782.5 254.6 791.5 254.4 801.5 255.1 810.0 256.4 826.5 261.1 842.0 267.2 852.5 272.2 868.0 281.5 881.5 291.7 890.0 299.4 902.5 312.7 913.8 327.5 922.8 342.0 930.3 357.0 938.8 377.5 943.6 393.5 946.0 407.0 946.5 420.5 945.4 435.0 943.2 446.5 941.2 454.0 937.1 464.0 931.7 474.0 924.6 484.5 911.3 501.5 901.8 512.5 870.5 544.4 860.2 554.0 842.0 569.5 807.5 597.7 783.0 616.9 766.0 629.2 756.0 634.0 753.4 633.5 756.1 641.0 761.8 652.5 756.0 647.3 752.5 645.4 744.0 646.0 735.5 645.5 732.5 646.2 729.0 647.7 720.0 653.1ZM762.0 653.0 762.0 652.7 762.0 653.0ZM719.0 653.7 719.4 653.5 719.0 653.7Z"/>
<path fill="#94ff63" fill-rule="evenodd" d="M724.0 650.1 723.5 650.3 723.2 650.0 731.1 642.0 739.9 631.0 738.8 630.5 731.5 621.5 723.2 607.0 709.8 578.5 700.8 556.5 692.1 531.5 686.9 513.5 680.7 486.5 677.7 468.5 675.7 452.0 674.6 437.5 674.5 415.5 677.7 377.5 681.5 355.5 684.4 344.0 688.3 331.5 692.7 320.5 696.9 312.5 703.5 302.0 712.4 290.5 722.5 279.8 728.5 274.5 736.5 268.8 747.5 262.6 755.0 259.7 763.5 257.5 773.5 255.9 782.5 255.1 791.5 254.9 801.5 255.6 810.0 256.9 826.5 261.6 842.0 267.7 852.0 272.4 867.5 281.5 881.0 291.7 889.8 299.5 902.5 313.0 913.3 327.0 922.7 342.0 930.2 357.0 938.9 378.0 943.3 393.0 945.7 407.0 946.3 420.5 945.1 435.0 943.4 445.0 941.0 454.0 936.9 464.0 931.7 473.5 924.6 484.0 911.4 501.0 901.5 512.5 870.5 544.0 858.5 555.2 842.0 569.3 807.0 597.9 788.5 612.3 765.5 628.4 754.2 633.5 753.5 633.2 752.3 633.5 754.6 640.0 759.3 649.0 759.0 649.4 755.0 646.1 752.0 644.9 744.0 645.6 735.5 645.0 731.0 646.4 724.0 650.1ZM759.5 649.9 759.1 649.5 759.5 649.2 759.5 649.9ZM760.0 650.2 759.7 650.0 760.0 650.2Z"/>
<path fill="#9eff59" fill-rule="evenodd" d="M727.0 647.6 726.4 647.5 732.5 641.5 741.2 631.0 740.2 630.5 732.0 620.9 723.8 607.0 714.3 587.5 704.2 564.0 695.2 539.5 688.2 516.5 682.9 495.0 678.2 469.5 675.3 443.0 674.6 430.0 674.8 417.5 675.3 406.5 677.8 380.5 679.6 367.0 681.8 356.0 684.7 344.0 688.5 332.0 693.1 320.5 696.7 313.5 704.0 302.0 712.5 291.0 722.9 280.0 729.0 274.7 736.5 269.3 747.5 263.1 755.0 260.2 763.5 258.0 773.5 256.4 782.5 255.6 791.5 255.4 801.5 256.1 810.0 257.4 826.5 262.0 842.5 268.3 852.0 272.8 867.5 281.9 880.0 291.2 889.5 299.5 902.3 313.0 912.7 326.5 922.3 341.5 929.9 356.5 936.3 371.5 941.4 386.5 944.6 400.5 946.0 413.5 945.7 428.0 943.8 442.0 940.9 453.5 936.9 463.5 931.4 473.5 924.3 484.0 911.1 501.0 901.2 512.5 864.5 549.5 846.5 565.3 820.5 586.8 788.0 612.3 777.5 619.7 765.0 627.7 752.5 633.0 751.0 633.0 754.0 640.5 757.1 646.0 757.0 646.9 754.5 645.3 751.5 644.2 744.0 645.0 736.0 644.4 732.5 645.2 727.0 647.6ZM757.5 647.2 757.1 647.0 757.5 646.8 757.5 647.2Z"/>
<path fill="#a8ff4f" fill-rule="evenodd" d="M730.5 645.0 729.8 645.0 742.4 631.0 732.5 620.4 726.4 610.5 716.3 591.0 707.2 570.5 698.6 548.0 690.3 522.5 683.4 495.5 679.7 477.0 677.3 460.0 675.7 445.0 674.9 423.0 675.6 407.0 677.2 389.0 679.1 372.5 681.2 360.5 684.8 345.0 688.6 332.5 691.7 324.5 696.6 314.5 704.1 302.5 712.1 292.0 723.0 280.4 729.0 275.2 736.5 269.8 747.5 263.6 755.0 260.7 763.5 258.4 773.0 256.9 782.5 256.0 791.5 255.9 801.0 256.4 810.0 257.8 826.0 262.3 842.5 268.7 853.0 273.7 867.5 282.2 881.0 292.3 889.5 299.7 902.1 313.0 913.3 327.5 922.7 342.5 929.8 356.5 936.2 371.5 941.2 386.5 944.4 400.5 945.8 414.0 945.5 428.0 943.6 442.0 940.7 453.5 936.7 463.5 931.2 473.5 924.3 483.5 910.8 501.0 901.0 512.5 864.7 549.0 851.5 560.8 821.0 586.3 806.5 597.9 788.0 611.9 777.0 619.4 765.0 626.9 751.0 632.5 749.8 632.5 753.0 640.0 755.0 643.5 755.0 644.5 751.0 643.5 744.0 644.4 736.5 643.7 730.5 645.0Z"/>
<path fill="#b2ff45" fill-rule="evenodd" d="M744.0 643.7 735.0 642.6 733.7 642.0 743.4 631.0 733.0 620.0 726.7 610.0 719.1 596.0 710.7 578.0 702.3 557.0 695.7 538.5 689.2 517.0 683.7 495.5 680.1 477.5 677.7 461.0 675.9 444.0 675.2 430.0 676.1 405.0 678.2 382.5 680.3 367.0 683.8 350.0 687.1 338.0 691.1 326.5 696.6 315.0 704.5 302.5 712.2 292.5 719.9 284.0 729.0 275.6 736.5 270.2 748.0 263.7 755.5 260.9 763.5 258.8 773.0 257.3 782.5 256.4 791.0 256.3 801.0 256.8 809.5 258.1 826.0 262.6 842.0 268.8 851.5 273.2 867.0 282.2 880.5 292.2 889.5 300.0 901.9 313.0 912.8 327.0 921.8 341.0 930.2 357.5 936.3 372.0 941.4 387.5 944.3 400.5 945.6 414.0 945.3 428.0 943.5 442.0 941.9 449.0 938.7 458.5 935.7 465.0 930.9 473.5 923.3 484.5 911.4 500.0 896.0 517.5 870.0 543.6 858.0 554.9 833.0 576.3 807.0 597.4 782.5 615.4 765.5 625.8 750.0 631.8 748.7 632.0 753.1 641.0 753.0 641.7 744.0 643.7Z"/>
<path fill="#bbff3b" fill-rule="evenodd" d="M744.5 642.7 742.4 642.5 739.8 641.5 737.5 638.5 744.4 631.0 733.3 619.5 727.2 610.0 716.7 590.5 708.1 571.0 699.7 549.0 693.6 531.0 688.7 514.0 684.1 496.0 680.7 479.0 678.7 467.0 676.7 450.0 675.6 433.5 675.5 423.0 676.2 407.0 678.6 381.0 680.6 366.5 684.1 349.5 687.2 338.5 691.6 326.0 697.2 314.5 704.8 302.5 713.4 291.5 723.5 280.8 729.5 275.6 738.0 269.7 748.0 264.1 755.5 261.3 763.5 259.2 772.5 257.7 783.0 256.8 793.0 256.7 801.0 257.2 809.0 258.4 826.5 263.1 842.0 269.1 855.5 275.7 867.5 282.8 881.5 293.2 889.5 300.2 901.8 313.0 912.3 326.5 921.7 341.0 930.2 357.5 936.2 372.0 941.2 387.5 944.2 401.5 945.4 413.5 945.2 427.5 943.3 442.0 941.7 449.0 938.8 458.0 935.8 464.5 931.4 472.5 923.4 484.0 910.4 501.0 895.9 517.5 870.0 543.4 858.0 554.7 833.0 576.2 807.0 597.3 788.0 611.3 776.5 618.8 764.5 625.7 748.0 631.7 750.9 638.5 744.5 642.7Z"/>
<path fill="#c5ff31" fill-rule="evenodd" d="M744.5 639.4 741.1 635.5 745.3 631.0 733.5 619.0 727.6 610.0 719.2 595.0 710.2 575.5 702.3 555.5 695.2 535.0 689.2 515.0 684.3 495.5 681.2 481.0 678.8 466.0 676.8 448.5 675.8 433.5 675.7 422.5 676.3 409.0 678.7 381.5 680.8 366.5 684.2 350.0 687.7 337.5 691.7 326.5 697.2 315.0 701.7 307.5 709.2 297.0 718.7 286.0 728.5 276.8 736.0 271.2 747.5 264.7 755.0 261.7 764.0 259.4 775.0 257.7 792.0 256.9 801.0 257.5 809.5 258.7 826.0 263.2 840.5 268.7 851.5 273.7 867.0 282.7 879.5 291.8 889.1 300.0 901.6 313.0 912.2 326.5 921.6 341.0 930.1 357.5 936.1 372.0 941.1 387.5 944.2 402.0 945.3 413.5 945.2 425.5 943.2 442.0 940.2 454.0 936.2 463.5 931.2 472.5 924.3 482.5 910.2 501.0 901.7 511.0 870.0 543.2 854.5 557.7 833.0 576.1 813.5 592.1 793.5 607.2 780.0 616.3 764.5 625.2 747.0 631.3 748.5 634.5 748.5 635.5 745.5 637.6 744.5 639.4Z"/>
<path fill="#cfff28" fill-rule="evenodd" d="M745.5 633.0 745.0 632.0 745.8 631.0 733.9 619.0 727.9 610.0 719.9 596.0 713.9 583.5 705.9 564.5 698.4 544.0 691.4 522.0 685.4 499.5 682.4 486.0 679.4 469.0 676.9 448.5 675.9 433.5 676.4 409.0 678.9 381.5 681.0 366.5 684.4 350.0 687.9 337.5 691.4 327.5 697.4 315.0 704.9 303.0 709.4 297.0 718.9 286.0 727.5 277.9 736.0 271.4 747.5 264.9 755.5 261.8 763.0 259.9 771.0 258.4 783.0 257.3 797.5 257.4 809.5 258.9 826.0 263.4 840.5 268.9 851.5 273.9 867.0 282.9 882.0 293.9 892.5 303.4 901.1 312.5 912.1 326.5 922.1 342.0 930.0 357.5 936.0 372.0 941.0 387.5 944.1 402.0 945.1 413.5 945.1 425.0 943.1 442.0 940.0 454.0 936.1 463.5 931.1 472.5 924.1 482.5 910.1 501.0 901.6 511.0 870.0 543.1 854.5 557.6 839.5 570.5 819.0 587.5 797.0 604.5 785.5 612.6 774.0 619.6 764.0 625.1 746.5 630.9 746.5 632.2 745.5 633.0Z"/>
<path fill="#d9ff1e" fill-rule="evenodd" d="M746.5 630.0 734.5 618.4 723.5 601.2 715.0 584.5 706.0 563.4 700.0 547.4 692.0 522.9 686.7 503.5 682.6 485.5 679.5 468.2 677.5 452.0 676.2 433.5 676.1 422.5 677.0 404.7 679.0 383.2 681.0 367.5 684.5 350.5 688.0 338.1 692.1 326.5 697.5 315.4 705.3 303.0 714.0 291.9 724.0 281.3 729.6 276.5 736.5 271.5 747.9 265.0 755.5 262.1 763.6 260.0 772.5 258.5 786.9 257.5 801.0 258.0 809.5 259.2 826.0 263.8 842.3 270.0 858.5 278.0 867.0 283.2 881.7 294.0 892.2 303.5 902.5 314.5 912.9 328.0 922.0 342.2 929.5 356.8 935.9 372.0 940.5 386.2 943.5 399.5 945.0 413.5 944.7 428.0 943.0 441.6 940.0 453.7 936.0 463.4 930.6 473.0 922.5 484.5 910.0 500.8 900.5 512.0 864.5 548.0 851.0 560.2 825.5 581.6 806.5 596.6 793.1 606.5 781.1 614.5 764.0 624.1 746.5 630.0Z"/>
<path fill="#e3ff14" fill-rule="evenodd" d="M747.0 628.5 746.4 628.5 735.3 617.5 724.0 600.0 715.5 583.6 706.5 563.0 700.0 545.8 692.5 523.3 687.0 503.3 683.0 486.0 679.8 468.5 677.7 451.5 676.6 436.5 676.3 423.0 677.1 407.0 679.3 383.5 681.4 367.5 685.0 350.0 688.2 338.5 692.5 326.5 697.8 315.5 705.5 303.3 714.0 292.4 724.4 281.5 730.0 276.6 736.4 272.0 748.5 265.2 756.0 262.4 764.0 260.3 776.7 258.5 792.0 257.8 801.0 258.4 809.5 259.7 825.5 264.0 842.0 270.3 852.0 275.0 866.8 283.5 880.5 293.5 888.6 300.5 901.5 313.8 912.5 327.9 921.8 342.5 929.3 357.0 935.6 372.0 940.5 387.0 943.5 400.5 944.8 414.0 944.5 428.0 942.8 441.5 939.9 453.5 936.0 463.0 930.5 472.8 923.5 482.8 910.0 500.5 900.5 511.7 869.0 543.2 857.0 554.4 838.0 570.4 812.2 591.0 792.6 605.5 780.5 613.5 763.5 623.0 747.0 628.5Z"/>
<path fill="#edff0a" fill-rule="evenodd" d="M747.0 627.1 736.2 616.5 725.0 599.6 716.5 583.5 707.5 563.5 701.0 547.0 693.5 525.1 687.5 503.9 683.2 485.5 680.1 468.0 678.0 451.5 676.9 436.5 676.6 423.0 677.4 407.0 679.6 383.5 681.7 367.5 685.2 350.5 688.6 338.5 692.7 327.0 698.3 315.5 705.9 303.5 714.5 292.4 724.5 281.9 730.2 277.0 736.4 272.5 748.5 265.6 756.0 262.8 764.0 260.7 775.8 259.0 792.0 258.3 801.0 258.8 809.5 260.1 825.6 264.5 842.0 270.8 854.0 276.5 866.5 283.8 880.6 294.0 888.5 300.9 901.2 314.0 912.2 328.0 921.5 342.5 929.0 357.0 935.3 372.0 940.1 386.5 943.2 400.5 944.6 414.0 944.3 428.0 942.6 441.5 939.7 453.5 935.8 463.0 930.5 472.5 923.5 482.5 910.0 500.2 900.4 511.5 869.0 542.7 855.0 555.5 837.5 570.0 811.9 590.0 792.0 604.5 780.0 612.4 763.0 621.8 747.0 627.1Z"/>
<path fill="#f7f600" fill-rule="evenodd" d="M747.5 625.5 737.5 616.1 731.4 607.5 723.5 594.7 717.0 582.5 707.9 562.5 699.0 540.0 693.0 522.2 687.9 504.0 683.6 485.5 680.5 468.5 678.4 451.5 677.2 436.5 677.0 423.0 677.7 407.0 680.0 383.0 682.1 367.5 685.6 350.5 689.0 338.5 693.1 327.0 698.5 315.9 706.0 304.0 715.0 292.5 725.0 282.0 730.3 277.5 736.5 272.9 748.7 266.0 756.0 263.3 764.0 261.2 773.0 259.7 783.0 258.8 796.8 259.0 809.1 260.5 825.5 265.0 841.5 271.0 851.2 275.5 866.1 284.0 878.0 292.5 888.1 301.0 900.7 314.0 912.0 328.3 921.4 343.0 928.9 357.5 935.0 372.0 940.0 387.0 943.0 400.5 944.4 414.0 944.1 428.0 942.4 441.5 939.5 453.4 935.6 463.0 930.0 472.9 923.0 482.8 909.9 500.0 900.0 511.5 868.7 542.5 856.5 553.6 842.0 565.5 817.4 584.5 791.2 603.5 779.5 611.2 762.5 620.6 747.5 625.5Z"/>
<path fill="#fdee00" fill-rule="evenodd" d="M749.0 623.5 747.5 623.8 738.5 615.0 727.1 598.5 718.0 582.2 708.5 562.0 699.0 538.5 693.3 521.5 688.2 503.5 683.9 485.5 680.8 468.0 678.7 451.5 677.5 436.5 677.3 423.0 678.1 407.0 680.3 383.5 682.4 367.5 686.0 350.5 689.4 338.5 693.5 327.1 698.9 316.0 706.5 304.0 715.0 293.2 725.1 282.5 730.5 277.9 737.2 273.0 749.0 266.4 756.0 263.7 764.0 261.7 773.0 260.2 783.0 259.3 797.1 259.5 809.0 261.0 825.5 265.5 841.5 271.5 851.1 276.0 866.0 284.4 880.5 295.0 888.0 301.5 900.5 314.3 911.7 328.5 921.1 343.0 928.5 357.4 934.7 372.0 939.7 387.0 942.7 400.5 944.1 414.0 943.9 428.0 942.2 441.5 939.4 453.0 935.3 463.0 930.0 472.5 923.0 482.5 909.6 500.0 900.0 511.2 868.5 542.1 856.0 553.4 843.5 563.5 816.5 583.8 790.5 602.4 778.5 610.2 762.0 619.2 749.0 623.5Z"/>
<path fill="#ffea00" fill-rule="evenodd" d="M748.5 623.1 747.5 623.1 739.1 615.0 732.9 606.5 724.5 593.3 716.0 577.4 708.5 561.3 699.2 538.5 693.5 521.8 688.5 504.0 684.1 485.5 681.0 468.7 678.8 451.5 677.6 436.5 677.4 423.0 678.2 407.0 680.5 382.9 682.6 367.5 686.1 350.5 689.5 338.7 693.5 327.4 699.0 316.1 706.5 304.3 715.0 293.4 725.4 282.5 730.6 278.0 737.5 273.0 749.0 266.5 756.0 263.9 764.0 261.8 773.0 260.3 783.0 259.5 794.5 259.5 801.0 259.9 809.0 261.1 825.0 265.5 841.5 271.7 856.5 279.0 866.0 284.6 880.5 295.2 888.0 301.7 900.5 314.5 911.5 328.5 920.9 343.0 928.4 357.5 934.6 372.0 939.6 387.0 942.6 400.5 944.1 414.0 943.8 428.0 942.1 441.5 939.3 453.0 935.2 463.0 929.9 472.5 923.0 482.4 909.5 500.0 900.0 511.1 868.5 541.9 856.0 553.1 843.0 563.6 816.5 583.4 790.3 602.0 778.5 609.6 761.5 618.9 748.5 623.1Z"/>
<path fill="#ffe500" fill-rule="evenodd" d="M748.0 622.6 739.5 614.5 733.3 606.0 724.9 593.0 715.7 576.0 708.5 560.5 699.5 538.5 693.6 521.5 688.5 503.5 684.2 485.5 681.0 468.0 679.0 451.5 677.8 436.5 677.5 423.0 678.3 407.0 680.6 383.5 682.7 367.5 686.3 350.5 689.6 339.0 693.7 327.5 699.3 316.0 706.9 304.0 715.5 293.1 725.5 282.6 730.9 278.0 737.1 273.5 749.0 266.8 756.4 264.0 764.2 262.0 773.5 260.5 783.0 259.7 792.0 259.6 801.0 260.1 809.0 261.4 825.0 265.7 841.5 271.9 857.0 279.5 866.0 284.9 880.5 295.4 888.0 301.9 900.3 314.5 911.5 328.7 920.8 343.0 928.3 357.5 934.5 372.1 939.5 387.0 942.5 400.5 944.0 414.0 943.7 428.0 942.0 441.5 939.2 453.0 935.1 463.0 929.8 472.5 922.5 482.9 909.5 499.8 899.5 511.5 868.2 542.0 856.0 552.8 843.0 563.2 816.0 583.1 790.0 601.5 778.0 609.2 761.5 618.2 748.0 622.6Z"/>
<path fill="#ffe000" fill-rule="evenodd" d="M749.0 621.6 748.0 621.7 740.0 614.0 734.0 605.9 725.5 592.9 716.2 576.0 708.5 559.6 699.5 537.8 693.8 521.5 688.7 503.5 684.4 485.5 681.2 468.0 679.1 451.5 677.9 436.5 677.7 423.0 678.5 407.0 680.8 383.5 682.9 367.5 686.5 350.5 689.8 339.0 693.9 327.5 699.5 316.0 707.0 304.2 715.5 293.4 725.5 282.9 731.0 278.2 737.5 273.5 749.0 267.0 756.5 264.2 764.5 262.1 775.8 260.5 792.0 259.8 801.0 260.4 809.0 261.6 825.0 265.9 841.1 272.0 850.0 276.0 865.8 285.0 880.3 295.5 887.8 302.0 900.1 314.5 911.5 329.0 920.6 343.0 928.1 357.5 934.5 372.4 939.3 387.0 942.4 400.5 943.8 414.0 943.6 428.0 941.9 441.5 939.1 453.0 935.0 463.0 929.7 472.5 923.0 482.1 909.5 499.7 899.5 511.3 889.0 521.9 868.4 541.5 856.0 552.5 843.5 562.5 789.5 601.1 777.5 608.8 761.0 617.7 749.0 621.6Z"/>
<path fill="#ffdc00" fill-rule="evenodd" d="M748.5 621.1 740.5 613.6 734.0 604.8 725.9 592.5 716.5 575.5 709.5 561.0 700.0 538.4 694.0 521.4 688.9 503.5 684.5 485.2 681.4 468.0 679.3 451.5 678.1 436.5 677.9 423.0 678.6 407.0 680.9 383.5 683.0 368.0 686.5 351.3 690.0 339.0 694.1 327.5 699.5 316.4 707.0 304.5 715.5 293.7 725.7 283.0 731.0 278.4 737.8 273.5 749.5 267.0 756.5 264.4 764.5 262.4 773.5 260.9 783.0 260.1 792.0 260.0 801.0 260.6 809.0 261.8 825.0 266.2 841.5 272.4 857.1 280.0 865.5 285.0 880.0 295.5 887.5 301.9 900.0 314.7 911.3 329.0 920.5 343.2 928.0 357.5 934.4 372.5 939.2 387.0 942.3 400.5 943.7 414.0 943.5 428.0 941.8 441.5 939.0 453.0 935.0 462.9 929.6 472.5 922.5 482.6 909.5 499.5 899.5 511.1 888.5 522.2 868.0 541.7 855.5 552.7 843.0 562.4 789.0 600.7 777.5 608.0 760.9 617.0 748.5 621.1Z"/>
<path fill="#ffd700" fill-rule="evenodd" d="M749.0 620.2 748.5 620.3 741.0 613.1 734.9 605.0 726.5 592.4 717.0 575.5 709.0 559.0 700.0 537.6 694.1 521.0 689.0 503.2 684.8 485.5 681.5 468.0 679.4 451.5 678.3 436.5 678.0 423.0 678.8 407.0 681.0 384.0 683.2 368.0 686.9 350.5 690.2 339.0 694.3 327.5 699.7 316.5 707.3 304.5 715.9 293.5 726.0 283.0 731.3 278.5 737.5 274.0 749.5 267.2 756.5 264.6 764.5 262.6 775.1 261.0 792.0 260.2 801.0 260.8 809.0 262.0 825.0 266.4 841.1 272.5 849.9 276.5 865.5 285.3 879.7 295.5 887.5 302.2 900.0 315.0 911.1 329.0 920.5 343.5 928.0 357.9 934.2 372.5 939.1 387.0 942.2 400.5 943.6 414.0 943.4 427.5 941.7 441.5 938.9 453.0 935.0 462.6 929.5 472.5 922.5 482.4 909.3 499.5 899.5 511.0 888.0 522.5 868.0 541.4 855.5 552.3 844.5 560.9 788.8 600.0 777.0 607.5 760.5 616.4 749.0 620.2Z"/>
<path fill="#ffd200" fill-rule="evenodd" d="M750.0 619.1 748.5 619.3 741.9 613.0 735.5 604.6 727.0 592.0 717.5 575.4 710.0 560.2 700.4 538.0 694.5 521.6 689.3 503.5 684.9 485.5 681.7 468.0 679.6 451.5 678.4 436.5 678.2 423.0 679.0 407.0 681.3 383.5 683.4 368.0 687.0 350.8 690.4 339.0 694.5 327.5 699.9 316.5 707.5 304.6 716.0 293.8 726.0 283.3 731.5 278.6 737.9 274.0 749.5 267.5 756.5 264.9 764.5 262.8 777.8 261.0 792.0 260.4 801.0 261.1 809.0 262.3 825.0 266.7 841.0 272.7 850.4 277.0 865.5 285.5 880.0 296.0 887.5 302.5 899.8 315.0 911.0 329.2 920.3 343.5 927.9 358.0 934.1 372.5 938.9 387.0 942.0 400.5 943.5 414.0 943.3 427.5 941.6 441.5 938.8 453.0 934.9 462.5 929.5 472.3 922.5 482.3 909.0 499.8 899.3 511.0 888.0 522.4 868.0 541.1 855.5 552.0 844.5 560.5 788.4 599.5 776.6 607.0 760.5 615.6 750.0 619.1Z"/>
<path fill="#ffcd00" fill-rule="evenodd" d="M749.0 618.7 742.0 612.1 733.4 600.5 724.5 586.8 715.5 570.5 707.5 553.9 699.5 534.9 694.5 521.0 689.5 503.5 685.0 485.0 681.9 468.0 679.8 451.5 678.6 436.5 678.3 423.0 679.1 407.0 681.5 383.1 683.6 368.0 687.2 351.0 690.6 339.0 694.5 328.0 700.0 316.7 707.5 304.9 716.0 294.1 726.1 283.5 731.5 278.9 737.5 274.5 749.5 267.7 756.5 265.1 764.5 263.0 774.7 261.5 783.0 260.8 792.0 260.7 800.5 261.2 809.0 262.5 825.0 266.9 841.0 272.9 849.9 277.0 865.1 285.5 879.7 296.0 887.3 302.5 899.5 315.0 911.0 329.5 920.1 343.5 927.5 357.6 933.9 372.5 938.8 387.0 942.0 401.0 943.4 414.0 943.2 427.5 941.5 441.5 938.7 453.0 934.8 462.5 929.5 472.1 922.5 482.1 909.0 499.6 899.1 511.0 887.5 522.7 868.0 540.9 855.1 552.0 845.5 559.4 787.9 599.0 776.0 606.5 760.0 615.1 749.0 618.7Z"/>
<path fill="#ffc900" fill-rule="evenodd" d="M750.0 617.5 749.0 617.7 742.9 612.0 734.2 600.5 725.0 586.5 717.0 572.4 708.0 554.0 700.0 535.4 694.8 521.0 689.6 503.0 685.2 485.0 682.1 468.0 680.0 451.5 678.8 436.5 678.5 423.0 679.3 407.0 681.6 384.0 683.8 368.0 687.4 351.0 690.8 339.0 694.7 328.0 700.1 317.0 707.7 305.0 716.0 294.5 726.4 283.5 731.7 279.0 737.9 274.5 749.5 268.0 756.5 265.4 764.5 263.3 773.5 261.8 783.0 261.0 792.0 260.9 800.5 261.5 809.0 262.8 825.0 267.2 841.0 273.2 849.5 277.0 865.0 285.7 879.3 296.0 887.0 302.5 899.5 315.3 910.5 329.1 920.0 343.6 927.5 357.9 933.8 372.5 938.6 387.0 941.9 401.0 943.3 414.0 943.1 427.5 941.4 441.5 938.6 453.0 934.7 462.5 929.4 472.0 922.5 481.9 909.0 499.4 899.4 510.5 889.5 520.5 873.0 536.0 861.0 546.7 847.5 557.6 787.5 598.4 776.0 605.7 759.5 614.5 750.0 617.5Z"/>
<path fill="#ffc400" fill-rule="evenodd" d="M750.5 616.6 749.0 616.7 743.5 611.5 737.3 603.5 728.6 591.0 718.5 574.1 709.5 556.3 701.0 537.1 695.0 521.0 690.5 505.7 685.5 485.4 682.5 469.5 680.1 451.5 679.0 437.0 679.0 414.5 681.0 391.3 683.1 373.0 686.0 357.7 689.2 345.0 693.0 333.2 697.5 322.4 703.9 311.0 711.0 301.0 717.0 293.6 726.5 283.8 732.1 279.0 743.5 271.3 750.0 268.0 757.0 265.5 765.0 263.4 780.5 261.5 792.0 261.2 801.0 261.8 809.0 263.0 825.1 267.5 841.0 273.5 857.5 281.5 872.4 291.0 885.5 301.5 893.4 309.0 905.0 322.2 915.5 336.6 923.5 350.3 930.5 365.0 936.3 380.0 940.3 394.0 942.6 407.5 943.2 421.0 942.2 435.0 940.5 445.2 938.5 453.0 934.5 462.7 929.0 472.5 918.5 487.1 905.0 504.0 894.5 515.5 885.5 524.2 861.0 546.4 851.0 554.5 841.5 561.4 787.5 597.6 776.0 604.8 759.0 613.8 750.5 616.6Z"/>
<path fill="#ffbf00" fill-rule="evenodd" d="M749.5 616.0 744.0 610.8 732.5 595.5 722.8 580.5 715.6 567.5 708.0 552.2 699.0 531.3 695.0 520.1 690.0 503.0 685.6 485.0 682.4 468.0 680.3 451.5 679.1 436.5 678.9 423.0 679.7 407.0 682.0 383.8 684.2 368.0 687.8 351.0 691.1 339.5 695.2 328.0 700.6 317.0 708.0 305.4 716.6 294.5 726.6 284.0 732.0 279.4 738.0 275.0 750.0 268.3 757.0 265.7 764.5 263.8 773.5 262.3 783.0 261.6 792.9 261.5 800.5 262.0 808.5 263.2 824.5 267.6 840.5 273.5 850.3 278.0 865.0 286.3 879.3 296.5 886.9 303.0 899.2 315.5 910.3 329.5 919.5 343.5 927.2 358.0 933.5 372.7 938.5 387.5 941.6 401.0 943.0 414.0 942.8 427.5 941.1 441.5 938.3 453.0 934.5 462.5 929.2 472.0 922.5 481.5 909.0 499.0 899.1 510.5 889.5 520.1 874.5 534.1 861.0 546.1 848.0 556.4 787.0 597.0 775.0 604.5 759.0 612.9 749.5 616.0Z"/>
<path fill="#ffbb00" fill-rule="evenodd" d="M750.0 615.0 744.5 610.1 733.0 595.0 723.5 580.4 716.1 567.5 708.5 552.3 699.5 531.8 695.5 520.9 690.2 503.0 685.8 485.0 682.6 468.0 680.5 451.5 679.3 436.5 679.1 423.0 679.9 407.0 682.2 384.0 684.4 368.0 688.0 351.0 691.5 339.0 695.5 328.0 700.9 317.0 708.2 305.5 716.9 294.5 727.0 284.0 732.0 279.7 738.5 275.0 750.0 268.6 757.0 266.0 764.5 264.1 773.5 262.6 783.0 261.8 792.5 261.7 800.5 262.3 808.5 263.5 824.5 267.9 840.5 273.8 856.4 281.5 864.9 286.5 878.9 296.5 886.5 303.0 899.0 315.6 910.1 329.5 919.5 343.8 927.0 358.0 933.4 373.0 938.3 387.5 941.4 401.0 942.9 414.0 942.7 427.5 941.0 441.5 938.5 452.0 936.3 458.0 931.7 467.5 925.5 477.2 913.5 493.2 902.5 506.5 894.0 515.6 876.5 532.0 856.0 549.9 840.5 561.1 775.0 603.5 758.5 612.3 750.0 615.0Z"/>
<path fill="#ffb600" fill-rule="evenodd" d="M750.0 614.2 745.1 609.5 733.6 594.5 724.0 580.0 716.5 567.1 709.0 552.3 699.5 531.0 695.5 520.0 690.5 503.1 686.0 485.0 682.8 468.0 680.7 451.5 679.5 436.5 679.3 423.0 680.0 407.5 682.4 383.5 684.5 368.5 688.2 351.0 691.6 339.5 695.7 328.0 701.0 317.3 708.5 305.5 717.0 294.8 727.0 284.3 732.1 280.0 738.2 275.5 750.0 268.8 757.0 266.3 764.5 264.3 773.5 262.9 783.0 262.1 792.2 262.0 800.5 262.6 808.5 263.8 824.5 268.2 840.5 274.1 849.1 278.0 864.5 286.6 879.0 296.9 886.5 303.3 899.0 315.9 910.0 329.7 919.4 344.0 927.0 358.5 933.1 372.5 938.2 387.5 941.3 401.0 942.7 414.0 942.6 427.5 940.9 441.5 938.5 451.5 936.0 458.5 931.6 467.5 925.5 477.0 913.5 493.0 903.5 505.1 894.0 515.4 878.0 530.4 856.0 549.5 840.6 560.5 774.5 602.9 758.1 611.5 750.0 614.2Z"/>
<path fill="#ffb100" fill-rule="evenodd" d="M750.5 613.1 745.8 609.0 734.5 594.3 724.5 579.5 717.0 566.8 709.5 552.3 700.0 531.4 695.9 520.5 690.7 503.0 686.3 485.0 683.1 468.0 680.9 451.5 679.7 436.5 679.4 423.0 680.2 407.5 682.6 384.0 684.8 368.0 688.5 351.0 691.8 339.5 696.0 328.0 701.2 317.5 708.8 305.5 717.0 295.2 727.2 284.5 732.5 280.0 738.7 275.5 750.0 269.2 757.0 266.5 765.0 264.5 773.5 263.2 781.4 262.5 792.0 262.3 800.5 262.8 808.5 264.1 824.5 268.5 840.5 274.4 856.2 282.0 864.5 286.9 878.7 297.0 886.4 303.5 898.7 316.0 910.0 330.0 919.2 344.0 926.6 358.0 933.0 372.8 938.0 387.5 941.1 401.0 942.6 414.0 942.5 427.5 940.8 441.5 938.1 452.5 936.0 458.2 931.5 467.4 925.5 476.7 913.5 492.7 903.4 505.0 894.0 515.2 878.0 530.1 860.0 545.9 851.5 552.5 843.0 558.4 815.0 575.8 774.0 602.1 758.0 610.6 750.5 613.1Z"/>
<path fill="#ffac00" fill-rule="evenodd" d="M750.5 612.1 746.6 608.5 732.1 589.5 722.0 574.2 715.0 562.0 706.5 545.1 699.5 529.3 695.5 518.3 691.0 503.0 686.5 485.0 683.3 468.0 681.1 451.5 679.9 436.5 679.7 423.0 680.5 407.0 682.9 383.5 685.0 368.3 688.7 351.0 692.1 339.5 696.0 328.5 701.5 317.5 709.0 305.7 717.5 295.0 727.5 284.6 732.5 280.3 738.5 275.9 750.0 269.5 757.0 266.8 765.0 264.8 778.9 263.0 792.0 262.6 800.5 263.1 808.5 264.4 824.5 268.8 840.0 274.6 848.9 278.5 864.2 287.0 878.3 297.0 886.0 303.5 898.5 316.1 909.7 330.0 919.0 344.1 926.5 358.3 932.9 373.0 937.8 387.5 941.0 401.0 942.4 414.0 942.3 427.5 940.6 441.5 938.0 452.4 936.0 457.8 931.5 467.2 925.5 476.5 913.5 492.5 903.2 505.0 894.0 515.0 879.0 529.0 860.0 545.5 844.5 557.0 813.5 575.9 773.5 601.4 757.5 609.8 750.5 612.1Z"/>
<path fill="#ffa800" fill-rule="evenodd" d="M751.0 611.0 747.4 608.0 732.7 589.0 722.5 573.7 715.5 561.7 707.0 545.2 700.0 529.7 696.0 518.9 691.5 504.0 686.7 485.0 683.5 468.0 681.4 451.5 680.1 436.5 679.9 423.0 680.5 410.0 684.5 373.0 687.5 357.2 690.5 345.5 694.2 334.0 698.8 323.0 705.4 311.5 712.5 301.5 718.0 294.8 727.5 285.0 733.4 280.0 744.0 272.9 750.5 269.5 757.5 267.0 765.0 265.1 771.9 264.0 782.5 263.0 792.0 262.9 800.5 263.5 808.5 264.7 824.5 269.1 840.5 275.1 856.5 282.8 871.5 292.2 885.0 303.0 892.5 310.0 904.0 323.0 914.5 337.3 922.5 350.9 929.6 365.5 935.4 380.5 939.5 394.5 941.8 407.5 942.4 420.5 941.4 435.0 939.5 446.2 937.6 453.0 933.8 462.5 928.5 471.9 917.5 487.2 903.5 504.5 893.7 515.0 885.0 523.3 860.2 545.0 846.5 555.2 813.0 575.2 773.0 600.6 757.0 609.0 751.0 611.0Z"/>
<path fill="#ffa300" fill-rule="evenodd" d="M752.0 609.7 751.0 610.0 748.3 607.5 736.8 593.0 726.5 578.5 718.5 565.8 711.0 552.1 701.5 532.3 696.8 520.5 692.5 506.5 687.0 485.0 684.5 472.4 681.6 451.5 680.4 437.0 680.1 423.0 680.5 413.3 684.6 373.5 687.5 358.4 690.8 345.5 694.5 334.0 699.1 323.0 705.5 311.9 713.5 300.7 718.5 294.7 727.9 285.0 733.9 280.0 744.4 273.0 750.5 269.9 757.5 267.3 765.0 265.4 774.2 264.0 783.0 263.3 791.5 263.2 800.5 263.8 808.5 265.0 824.6 269.5 840.5 275.4 856.5 283.1 871.4 292.5 885.2 303.5 892.1 310.0 904.0 323.4 914.4 337.5 922.5 351.3 929.5 365.8 935.2 380.5 939.3 394.5 941.6 407.5 942.3 420.5 941.3 435.0 939.5 445.5 937.5 453.0 933.6 462.5 928.5 471.7 919.0 484.9 907.5 499.5 898.0 510.3 885.0 523.0 861.5 543.5 846.5 554.6 812.5 574.6 772.5 599.8 756.9 608.0 752.0 609.7Z"/>
<path fill="#ff9e00" fill-rule="evenodd" d="M752.0 608.6 751.0 608.7 749.0 606.8 734.5 588.3 723.5 572.6 715.6 559.5 707.5 544.1 700.5 529.1 696.5 518.5 692.0 503.8 687.3 485.0 684.0 468.2 681.8 451.5 680.6 436.5 680.3 423.0 681.0 409.4 684.9 373.5 688.0 357.4 691.0 345.5 695.0 333.5 699.5 323.0 705.8 312.0 713.5 301.2 718.5 295.2 728.0 285.3 733.7 280.5 744.5 273.3 750.5 270.2 757.5 267.6 765.0 265.7 778.1 264.0 792.0 263.5 800.5 264.1 808.5 265.4 824.0 269.6 840.0 275.6 856.5 283.5 871.0 292.6 885.0 303.7 892.0 310.3 903.8 323.5 914.1 337.5 922.4 351.5 929.4 366.0 935.0 380.5 939.1 394.5 941.4 407.5 942.1 421.0 941.0 436.0 939.0 447.0 937.5 452.6 933.5 462.4 928.4 471.5 917.5 486.7 903.5 504.0 893.5 514.7 884.5 523.2 861.0 543.5 846.5 554.1 812.0 573.9 772.0 598.9 756.5 607.1 752.0 608.6Z"/>
<path fill="#ff9900" fill-rule="evenodd" d="M752.0 607.5 751.5 607.7 749.7 606.0 732.0 583.4 724.0 571.9 716.0 559.0 708.0 544.0 701.0 529.3 697.0 519.0 692.5 504.5 687.5 484.9 684.5 469.6 682.0 451.0 680.8 436.5 680.6 423.0 681.0 412.9 685.2 373.5 688.0 358.6 691.3 345.5 695.0 334.3 699.5 323.5 706.0 312.2 714.0 301.0 719.0 295.1 728.3 285.5 734.3 280.5 744.8 273.5 751.0 270.4 757.5 268.0 765.5 266.0 776.1 264.5 792.0 263.9 800.5 264.5 808.5 265.7 824.0 270.0 840.0 275.9 856.0 283.6 871.0 292.9 884.9 304.0 892.0 310.7 903.5 323.6 914.0 337.8 922.0 351.3 929.1 366.0 934.8 380.5 938.9 394.5 941.2 407.5 941.9 420.5 941.0 435.0 939.0 446.4 937.4 452.5 933.5 462.1 928.3 471.5 920.5 482.5 907.5 499.0 898.0 509.8 885.5 522.0 860.5 543.5 846.0 553.9 811.5 573.1 771.4 598.0 756.0 606.1 752.0 607.5Z"/>
<path fill="#ff9500" fill-rule="evenodd" d="M753.0 606.1 752.0 606.4 750.7 605.5 736.0 587.0 725.0 572.0 717.0 559.3 708.6 544.0 701.5 529.5 697.5 519.4 693.5 506.8 688.0 485.8 685.0 470.9 682.3 451.5 681.1 436.5 680.8 423.0 681.5 409.4 685.4 373.5 688.5 357.7 691.5 346.0 695.4 334.0 699.9 323.5 706.2 312.5 714.0 301.6 719.0 295.6 728.5 285.7 734.1 281.0 744.7 274.0 751.0 270.7 757.5 268.3 765.0 266.4 774.3 265.0 783.0 264.3 791.5 264.2 800.5 264.8 808.5 266.1 824.3 270.5 840.0 276.3 856.0 284.0 871.0 293.3 884.5 304.0 891.5 310.6 903.5 324.0 913.8 338.0 921.8 351.5 928.9 366.0 934.6 380.5 938.7 394.5 941.1 407.5 941.8 420.5 940.8 435.0 939.0 445.6 937.0 453.0 933.4 462.0 928.1 471.5 918.0 485.5 906.5 499.9 897.5 510.1 885.0 522.2 860.5 543.0 846.5 553.0 811.0 572.3 770.9 597.0 755.5 605.2 753.0 606.1Z"/>
<path fill="#ff9000" fill-rule="evenodd" d="M752.5 605.1 751.4 604.5 733.5 582.1 725.5 571.1 717.0 558.0 709.0 543.7 701.5 528.5 697.5 518.4 693.0 504.0 688.0 484.6 685.0 469.3 682.5 451.0 681.3 436.5 681.1 423.0 681.5 413.1 685.7 373.5 688.5 359.1 692.0 345.5 695.6 334.5 700.2 323.5 706.6 312.5 714.5 301.5 719.5 295.5 728.7 286.0 734.0 281.5 745.0 274.2 751.0 271.1 758.0 268.6 765.5 266.7 773.1 265.5 783.0 264.7 792.0 264.6 800.5 265.2 808.5 266.5 824.6 271.0 839.5 276.5 856.0 284.4 870.6 293.5 884.5 304.4 891.5 311.0 903.1 324.0 913.5 338.0 921.5 351.4 928.6 366.0 934.5 380.9 938.5 394.5 940.9 407.5 941.6 421.0 940.5 436.0 938.5 447.0 937.0 452.6 933.2 462.0 927.9 471.5 917.0 486.6 904.5 502.0 893.4 514.0 884.5 522.3 862.5 541.0 847.2 552.0 811.5 570.8 775.5 593.0 755.0 604.2 752.5 605.1Z"/>
<path fill="#ff8b00" fill-rule="evenodd" d="M753.0 603.7 752.1 603.5 730.9 577.0 723.0 566.0 717.5 557.4 709.5 543.4 702.0 528.6 698.0 518.7 693.5 504.5 688.3 484.5 685.0 467.7 682.8 451.0 681.6 436.5 681.3 423.0 682.0 409.9 686.0 373.8 689.0 358.3 692.2 346.0 696.0 334.3 700.5 323.7 707.0 312.5 714.5 302.0 719.5 296.0 729.0 286.2 734.7 281.5 745.2 274.5 751.5 271.3 758.0 269.0 765.5 267.1 772.4 266.0 783.0 265.0 792.0 265.0 800.5 265.6 808.5 266.9 823.5 271.0 839.5 276.9 855.5 284.5 870.5 293.8 884.1 304.5 891.0 311.0 903.0 324.3 913.2 338.0 921.5 352.0 928.5 366.3 934.1 380.5 938.3 394.5 940.7 407.5 941.4 420.5 940.5 435.0 938.5 446.4 936.8 452.5 933.0 462.0 927.7 471.5 918.0 485.0 906.0 500.0 896.0 511.1 884.5 522.0 864.5 538.9 856.0 545.5 848.0 550.9 839.0 555.9 810.5 570.2 774.5 592.2 753.0 603.7Z"/>
<path fill="#ff8700" fill-rule="evenodd" d="M754.0 602.0 753.0 602.4 752.6 602.0 735.5 581.0 727.0 570.0 718.7 558.0 710.5 544.0 703.0 529.7 698.9 520.0 695.0 508.4 690.8 493.5 686.5 474.4 684.0 458.6 682.0 438.2 681.6 430.0 681.9 415.0 686.0 376.1 688.3 363.0 692.5 346.0 696.3 334.5 700.8 324.0 707.0 313.1 711.5 306.6 719.6 296.5 729.0 286.8 734.6 282.0 745.5 274.8 751.5 271.7 758.0 269.4 765.5 267.5 774.0 266.2 782.3 265.5 792.0 265.4 800.5 266.0 808.0 267.2 823.6 271.5 839.5 277.4 855.5 284.9 870.1 294.0 884.0 304.9 891.0 311.4 902.8 324.5 913.0 338.3 921.0 351.6 928.1 366.0 934.0 380.9 938.1 394.5 940.5 407.5 941.2 420.5 940.3 435.0 938.5 445.4 936.6 452.5 932.8 462.0 927.5 471.5 918.5 484.0 907.0 498.5 897.5 509.2 885.0 521.3 864.5 538.5 848.5 550.0 839.5 554.9 809.0 569.7 774.0 591.0 754.0 602.0Z"/>
<path fill="#ff8200" fill-rule="evenodd" d="M754.0 600.6 753.5 600.9 753.1 600.5 733.0 576.0 719.5 557.7 711.0 543.6 704.0 530.6 699.5 520.5 696.0 510.4 691.0 493.0 687.0 475.5 684.4 459.0 682.7 443.5 681.9 430.0 682.2 415.5 686.1 378.0 688.5 363.6 691.5 350.9 696.5 335.0 701.0 324.4 704.5 317.9 711.5 307.2 720.0 296.6 729.3 287.0 735.0 282.2 745.5 275.2 751.5 272.2 758.0 269.8 765.5 267.9 781.3 266.0 792.0 265.8 800.5 266.4 808.0 267.6 823.5 271.9 839.0 277.6 855.0 285.1 870.0 294.4 883.6 305.0 890.6 311.5 902.5 324.7 912.8 338.5 921.0 352.2 928.0 366.5 933.8 381.0 937.8 394.5 940.2 407.5 941.0 420.5 940.0 435.5 938.0 446.9 936.4 452.5 932.6 462.0 927.5 471.1 919.0 483.1 907.0 498.2 897.0 509.4 884.9 521.0 864.5 538.0 849.0 549.0 840.0 553.9 818.0 563.8 808.5 568.6 773.1 590.0 754.0 600.6Z"/>
<path fill="#ff7d00" fill-rule="evenodd" d="M754.0 599.1 729.5 569.8 717.0 552.2 708.5 537.9 703.3 528.0 699.5 519.3 695.5 507.4 691.4 493.0 687.0 473.5 684.5 457.6 682.5 436.6 682.5 415.5 686.5 377.3 689.0 363.0 693.0 346.9 697.0 334.8 701.4 324.5 707.5 313.8 712.0 307.2 720.2 297.0 729.5 287.4 735.3 282.5 745.9 275.5 751.8 272.5 758.5 270.1 765.5 268.3 773.5 267.1 783.0 266.3 792.0 266.2 800.5 266.9 808.0 268.1 823.8 272.5 839.0 278.1 855.0 285.6 869.5 294.5 883.5 305.4 890.5 312.0 902.0 324.6 912.4 338.5 920.5 351.9 927.7 366.5 933.5 381.0 937.6 394.5 940.0 407.5 940.8 420.5 939.9 435.0 938.0 445.9 936.2 452.5 932.5 461.8 927.4 471.0 918.0 484.1 906.5 498.4 897.0 509.1 884.5 521.0 864.0 537.9 849.5 548.1 840.2 553.0 818.5 562.3 808.0 567.4 772.5 588.7 754.0 599.1Z"/>
<path fill="#ff7800" fill-rule="evenodd" d="M754.5 597.2 730.5 569.2 718.0 552.2 710.0 539.2 704.0 528.3 700.1 519.5 696.5 509.3 691.8 493.0 687.7 475.5 685.0 459.0 683.3 443.5 682.6 430.0 682.8 415.5 686.7 378.5 688.5 367.4 692.0 352.0 695.4 340.5 699.5 329.5 704.8 319.0 711.9 308.0 720.0 297.9 725.5 291.9 733.6 284.5 740.5 279.3 751.8 273.0 758.5 270.6 765.5 268.8 774.0 267.5 783.5 266.8 792.0 266.7 800.0 267.3 808.0 268.6 823.0 272.8 839.0 278.6 854.8 286.0 869.5 295.0 883.0 305.6 890.0 312.0 901.8 325.0 912.0 338.5 920.5 352.5 927.5 366.8 933.2 381.0 937.4 395.0 939.8 407.5 940.5 421.0 939.5 436.0 937.7 446.5 936.0 452.5 932.4 461.5 927.1 471.0 916.5 485.7 904.0 501.0 892.5 513.3 883.5 521.5 863.8 537.5 850.0 547.1 840.5 552.0 817.5 561.3 807.5 566.1 754.5 597.2Z"/>
<path fill="#ff7400" fill-rule="evenodd" d="M755.0 595.3 729.0 565.4 718.0 550.6 709.5 537.0 704.5 528.0 700.5 519.3 697.0 509.4 692.2 493.0 688.1 475.5 685.4 459.0 683.7 443.5 682.9 430.0 683.2 415.5 687.1 378.5 689.0 366.9 692.4 352.0 695.8 340.5 700.0 329.5 705.0 319.5 712.1 308.5 720.5 298.0 726.0 292.1 735.5 283.5 741.0 279.5 752.0 273.4 758.5 271.1 766.0 269.2 774.5 267.9 791.5 267.2 800.0 267.8 808.0 269.1 823.0 273.3 838.7 279.0 854.5 286.4 869.4 295.5 882.9 306.0 889.9 312.5 901.5 325.2 911.9 339.0 920.0 352.4 927.0 366.5 933.0 381.3 937.0 394.5 939.5 407.5 940.3 420.5 939.5 434.5 938.5 441.2 935.9 452.0 932.2 461.5 927.0 470.8 919.0 482.0 906.5 497.7 896.5 508.9 884.2 520.5 863.5 537.1 850.0 546.4 841.0 550.9 817.0 560.1 807.5 564.5 755.0 595.3Z"/>
<path fill="#ff6f00" fill-rule="evenodd" d="M755.5 593.2 728.5 562.9 718.5 549.7 710.0 536.4 704.9 527.5 701.0 519.1 697.5 509.5 692.7 493.0 688.5 475.5 685.8 459.0 684.0 443.5 683.3 430.0 683.6 415.5 687.5 378.5 690.0 364.0 692.8 352.0 696.1 341.0 700.2 330.0 705.5 319.5 712.5 308.8 721.0 298.2 726.3 292.5 735.6 284.0 741.2 280.0 752.0 274.0 758.5 271.6 766.0 269.7 774.5 268.4 791.5 267.7 800.0 268.3 808.0 269.6 823.0 273.9 838.5 279.5 854.5 287.0 869.0 295.8 882.5 306.3 889.5 312.7 901.2 325.5 911.5 339.1 919.5 352.2 926.9 367.0 932.7 381.5 936.8 395.0 939.2 407.5 940.1 420.5 939.0 436.1 937.2 446.5 935.5 452.6 931.9 461.5 926.6 471.0 916.0 485.6 902.0 502.5 892.0 513.1 883.1 521.0 863.0 536.9 849.5 545.9 841.0 550.0 819.0 557.8 808.0 562.7 785.2 575.5 755.5 593.2Z"/>
<path fill="#ff6a00" fill-rule="evenodd" d="M756.0 591.1 747.0 580.5 729.5 562.0 719.5 549.3 710.5 535.8 705.5 527.2 701.5 518.9 697.5 507.9 693.0 492.5 688.9 475.5 686.2 459.0 684.4 443.5 683.7 430.0 684.0 415.5 687.9 378.5 690.5 363.8 693.3 352.0 696.6 341.0 700.8 330.0 706.0 319.7 713.0 309.0 721.0 298.9 726.5 293.0 735.9 284.5 741.5 280.4 752.5 274.3 758.5 272.2 766.0 270.3 774.5 269.0 791.5 268.3 800.0 268.9 807.5 270.1 822.5 274.3 838.2 280.0 854.3 287.5 868.5 296.1 882.0 306.5 889.1 313.0 901.0 325.9 911.3 339.5 919.5 353.0 926.5 367.0 932.4 381.5 936.5 395.0 938.9 407.5 939.8 420.5 939.0 434.5 937.5 443.7 935.4 452.0 931.6 461.5 926.5 470.7 918.0 482.6 906.0 497.5 896.0 508.6 883.8 520.0 862.7 536.5 849.5 545.1 841.0 549.0 820.5 555.7 809.5 560.4 778.0 577.8 756.0 591.1Z"/>
<path fill="#ff6800" fill-rule="evenodd" d="M756.5 588.8 748.2 579.0 730.0 560.4 720.0 548.1 711.0 535.0 706.0 526.7 702.0 518.5 698.0 507.7 693.5 492.5 689.4 475.5 686.6 459.0 684.8 443.0 684.1 430.0 684.4 415.5 688.4 378.5 690.5 366.2 693.7 352.5 697.0 341.5 701.1 330.5 706.4 320.0 713.5 309.2 722.0 298.6 727.0 293.3 735.5 285.5 741.7 281.0 752.5 275.0 759.0 272.6 766.5 270.8 782.1 269.0 792.0 268.9 800.0 269.5 807.5 270.7 814.5 272.5 830.0 277.5 845.5 283.8 854.1 288.0 868.5 296.8 882.0 307.1 889.0 313.6 900.5 326.0 910.8 339.5 919.0 352.9 926.1 367.0 932.0 381.5 936.2 395.0 938.6 407.5 939.5 420.5 938.5 435.8 936.6 446.5 935.0 452.4 931.5 461.2 926.3 470.5 915.5 485.4 903.0 500.5 891.5 512.7 882.7 520.5 862.5 535.9 849.8 544.0 841.0 548.0 821.5 553.9 810.0 558.6 775.5 577.1 756.5 588.8Z"/>
<path fill="#ff6600" fill-rule="evenodd" d="M756.5 588.8 748.2 579.0 730.0 560.4 720.0 548.1 711.0 535.0 706.0 526.7 702.0 518.5 698.0 507.7 693.5 492.5 689.4 475.5 686.6 459.0 684.8 443.0 684.1 430.0 684.4 415.5 688.4 378.5 690.5 366.2 693.7 352.5 697.0 341.5 701.1 330.5 706.4 320.0 713.5 309.2 722.0 298.6 727.0 293.3 735.5 285.5 741.7 281.0 752.5 275.0 759.0 272.6 766.5 270.8 782.1 269.0 792.0 268.9 800.0 269.5 807.5 270.7 814.5 272.5 830.0 277.5 845.5 283.8 854.1 288.0 868.5 296.8 882.0 307.1 889.0 313.6 900.5 326.0 910.8 339.5 919.0 352.9 926.1 367.0 932.0 381.5 936.2 395.0 938.6 407.5 939.5 420.5 938.5 435.8 936.6 446.5 935.0 452.4 931.5 461.2 926.3 470.5 915.5 485.4 903.0 500.5 891.5 512.7 882.7 520.5 862.5 535.9 849.8 544.0 841.0 548.0 821.5 553.9 810.0 558.6 775.5 577.1 756.5 588.8Z"/>
<path fill="#ff6400" fill-rule="evenodd" d="M757.0 587.3 749.0 578.0 730.0 559.0 721.0 548.3 712.0 535.6 706.5 526.7 702.5 518.7 699.0 509.7 694.0 493.0 689.7 475.5 687.0 459.8 685.1 443.5 684.4 430.0 684.7 415.5 688.5 380.0 690.5 367.7 694.0 352.5 697.5 341.0 701.4 330.5 706.8 320.0 713.5 309.8 718.0 303.9 727.0 293.8 735.5 286.0 742.0 281.2 752.5 275.4 759.0 273.0 766.5 271.2 780.5 269.5 791.5 269.3 800.0 269.9 807.5 271.1 822.5 275.3 838.0 281.0 853.5 288.1 868.0 296.8 881.9 307.5 894.4 319.5 900.5 326.5 910.5 339.6 919.0 353.4 926.0 367.4 931.8 381.5 936.0 395.0 938.5 408.0 939.3 420.5 938.5 434.5 936.5 446.4 935.0 452.0 931.4 461.0 926.1 470.5 917.5 482.5 905.0 498.0 895.0 508.9 883.5 519.5 862.5 535.5 850.0 543.4 840.5 547.5 822.5 552.6 810.5 557.5 774.0 576.7 757.0 587.3Z"/>
<path fill="#ff6100" fill-rule="evenodd" d="M757.5 585.7 749.4 576.5 730.0 557.7 720.5 546.4 712.0 534.6 707.0 526.7 702.8 518.5 699.0 508.5 694.2 492.5 690.0 475.5 687.1 458.5 685.4 443.0 684.6 430.0 684.9 415.5 689.0 378.6 691.5 364.4 694.4 352.5 697.7 341.5 701.8 330.5 707.0 320.4 714.0 309.7 722.5 299.1 727.5 293.8 736.7 285.5 742.3 281.5 753.0 275.6 759.0 273.4 766.5 271.5 779.0 270.0 791.5 269.7 800.0 270.3 807.5 271.5 822.0 275.6 837.5 281.2 853.5 288.5 868.0 297.3 881.5 307.6 888.5 314.0 900.1 326.5 910.4 340.0 918.5 353.1 925.8 367.5 931.5 381.5 935.7 395.0 938.2 407.5 939.1 420.5 938.3 434.5 936.5 445.5 934.8 452.0 931.2 461.0 926.0 470.4 918.0 481.6 905.5 497.1 895.5 508.1 883.1 519.5 862.0 535.4 850.5 542.5 841.4 546.5 823.5 551.4 811.5 556.1 771.0 577.0 757.5 585.7Z"/>
<path fill="#ff5e00" fill-rule="evenodd" d="M758.5 583.6 757.5 583.9 751.0 576.2 732.5 558.8 722.5 547.7 713.5 535.7 707.5 526.5 703.5 519.0 700.0 510.3 694.5 492.5 690.3 475.5 687.5 459.1 685.7 443.5 684.9 430.0 685.2 416.0 688.5 384.5 690.9 369.0 693.5 357.3 698.0 341.7 702.0 331.0 707.3 320.5 714.0 310.4 718.9 304.0 727.5 294.3 735.5 287.0 742.5 281.8 753.0 276.0 759.0 273.8 766.5 272.0 774.5 270.8 783.5 270.1 791.5 270.1 800.0 270.7 807.0 271.9 814.0 273.6 829.2 278.5 845.0 284.8 853.5 289.0 867.6 297.5 881.4 308.0 894.0 320.0 900.0 326.9 910.1 340.0 918.4 353.5 925.5 367.5 931.5 382.0 935.5 395.0 938.1 408.0 938.9 420.5 938.0 435.3 936.1 446.5 934.5 452.2 931.0 461.0 926.0 470.1 915.5 484.5 904.0 498.5 892.5 510.8 882.7 519.5 861.9 535.0 850.5 541.9 842.0 545.6 824.0 550.3 812.0 555.0 770.0 576.3 758.5 583.6Z"/>
<path fill="#ff5b00" fill-rule="evenodd" d="M758.5 582.2 758.0 582.2 749.4 572.5 730.5 555.3 722.0 545.8 713.5 534.6 708.0 526.4 703.8 518.5 700.3 510.0 694.9 492.5 690.6 475.0 687.7 458.5 686.0 443.5 685.2 430.0 685.5 416.0 689.0 383.5 691.3 369.0 695.0 352.8 698.5 341.5 702.4 331.0 707.8 320.5 714.5 310.3 719.0 304.5 727.9 294.5 733.1 289.5 742.5 282.3 753.0 276.5 759.5 274.1 772.3 271.5 783.0 270.6 792.0 270.5 800.0 271.2 807.0 272.3 814.0 274.1 829.5 279.1 845.0 285.3 859.8 293.0 867.7 298.0 881.4 308.5 893.5 320.0 899.7 327.0 910.0 340.5 918.0 353.4 925.2 367.5 931.0 381.5 935.3 395.0 937.8 408.0 938.7 420.5 937.9 434.5 936.0 446.0 934.5 451.6 930.8 461.0 925.8 470.0 918.0 481.0 905.0 497.0 894.5 508.5 882.9 519.0 862.5 534.1 850.5 541.3 842.0 544.8 825.0 549.1 813.5 553.4 769.0 575.4 758.5 582.2Z"/>
<path fill="#ff5800" fill-rule="evenodd" d="M759.0 580.3 758.5 580.3 754.5 575.5 750.0 571.0 730.5 553.8 722.0 544.5 714.0 534.2 708.5 526.1 704.1 518.0 700.5 509.3 695.3 492.5 691.0 475.4 688.1 458.5 686.4 443.5 685.6 430.0 685.8 416.0 689.2 384.5 691.5 369.5 694.5 356.3 698.5 342.6 702.8 331.0 708.0 321.0 715.0 310.3 719.5 304.5 728.0 295.0 735.0 288.5 743.0 282.5 753.5 276.7 759.5 274.6 766.5 272.8 776.2 271.5 791.5 271.0 799.5 271.6 807.0 272.8 821.9 277.0 837.2 282.5 852.6 289.5 867.0 298.1 880.8 308.5 887.5 314.5 899.2 327.0 909.6 340.5 917.5 353.2 925.0 367.8 930.9 382.0 935.0 395.0 937.6 408.0 938.5 420.5 937.7 434.5 936.5 442.4 934.3 451.5 930.6 461.0 925.6 470.0 915.0 484.5 903.0 499.0 891.5 511.1 882.5 519.0 862.5 533.5 850.9 540.5 842.5 543.9 826.0 547.9 814.5 552.0 788.5 565.0 768.5 574.3 759.0 580.3Z"/>
<path fill="#ff5500" fill-rule="evenodd" d="M759.5 578.4 759.0 578.3 755.5 574.2 750.7 569.5 731.5 553.2 722.0 543.1 714.5 533.7 709.0 525.8 704.6 518.0 701.0 509.4 695.5 492.0 691.3 475.0 688.5 459.0 686.7 443.5 685.9 430.0 686.2 416.0 689.5 385.2 692.0 369.1 694.5 357.9 699.0 342.4 703.1 331.5 708.5 321.0 715.4 310.5 723.5 300.5 728.5 295.1 734.5 289.5 743.1 283.0 753.5 277.2 759.5 275.1 766.5 273.3 775.0 272.1 788.5 271.5 799.5 272.1 807.0 273.3 821.5 277.4 837.0 283.0 852.6 290.0 867.0 298.6 880.5 308.8 887.5 315.1 899.0 327.3 909.2 340.5 917.5 353.8 924.5 367.5 930.6 382.0 934.8 395.5 937.3 408.0 938.2 420.5 937.5 434.5 935.6 446.0 934.0 451.8 930.5 460.7 925.3 470.0 914.5 484.8 900.5 501.5 890.5 511.7 882.0 519.0 862.5 533.0 850.5 540.0 843.0 543.0 826.5 546.8 815.5 550.7 789.0 563.8 768.0 573.2 759.5 578.4Z"/>
<path fill="#ff5300" fill-rule="evenodd" d="M760.5 576.0 759.5 576.3 751.9 568.5 733.0 552.9 723.5 543.4 715.0 533.1 709.5 525.5 705.2 518.0 701.5 509.5 696.0 492.1 691.7 475.0 689.0 459.9 687.1 443.5 686.3 430.0 686.5 417.0 689.5 388.3 691.5 374.0 694.8 358.5 698.0 346.9 703.6 331.5 708.5 321.9 712.5 315.5 719.9 305.5 728.5 295.8 733.5 291.0 743.5 283.3 754.0 277.5 759.7 275.5 767.0 273.7 776.0 272.5 791.5 272.0 799.5 272.6 807.0 273.8 813.5 275.5 829.0 280.5 844.5 286.6 858.8 294.0 867.5 299.5 880.5 309.4 892.5 320.7 898.6 327.5 909.0 340.9 917.0 353.6 924.4 368.0 930.3 382.0 934.5 395.3 937.1 408.0 938.0 420.5 937.2 434.5 935.5 445.1 933.9 451.5 930.3 460.5 925.1 470.0 914.5 484.4 901.0 500.5 890.3 511.5 882.1 518.5 863.1 532.0 851.0 539.1 843.5 542.0 827.5 545.6 816.5 549.4 788.0 563.2 767.5 572.1 760.5 576.0Z"/>
<path fill="#ff5000" fill-rule="evenodd" d="M761.0 574.1 760.0 574.3 751.0 565.7 733.5 551.6 723.5 541.9 715.9 533.0 710.0 525.0 705.8 518.0 702.1 509.5 696.5 492.2 692.5 476.6 690.4 466.5 688.2 450.5 686.9 436.5 686.6 423.0 687.6 408.0 689.5 391.5 692.0 374.0 693.9 364.0 698.0 348.4 702.0 336.7 706.5 326.5 712.4 316.5 720.0 306.1 724.8 300.5 733.7 291.5 738.5 287.5 747.5 281.5 754.5 277.9 760.0 276.0 766.0 274.5 774.5 273.2 783.5 272.5 792.0 272.5 799.5 273.1 806.5 274.3 813.5 276.1 828.7 281.0 844.0 287.0 858.6 294.5 866.6 299.5 880.0 309.6 892.2 321.0 898.5 328.0 908.6 341.0 917.0 354.4 924.0 368.0 930.0 382.2 934.2 395.5 936.8 408.0 937.7 420.5 937.0 434.5 935.1 446.0 933.6 451.5 930.1 460.5 925.0 469.7 914.5 484.1 902.0 499.0 890.5 510.9 881.6 518.5 864.5 530.5 851.5 538.1 844.5 540.8 828.5 544.4 817.5 548.1 789.0 561.8 769.1 570.0 761.0 574.1Z"/>
<path fill="#ff4d00" fill-rule="evenodd" d="M761.0 572.5 751.4 564.0 732.0 548.5 722.8 539.5 716.5 532.3 710.5 524.5 706.5 517.9 702.7 509.5 697.0 492.2 693.0 476.8 690.9 466.5 688.6 450.5 687.3 436.0 687.0 423.0 688.0 408.0 690.0 391.0 692.3 374.5 694.4 364.0 698.5 348.5 702.5 336.8 706.8 327.0 712.5 317.3 716.9 311.0 725.1 301.0 734.0 292.0 739.0 287.8 744.4 284.0 754.5 278.5 760.2 276.5 766.5 275.0 775.0 273.7 790.5 273.1 799.5 273.7 806.5 274.9 813.5 276.7 828.5 281.5 844.0 287.7 858.4 295.0 866.4 300.0 879.7 310.0 892.0 321.5 898.0 328.1 908.4 341.5 916.5 354.3 923.6 368.0 929.7 382.5 933.9 395.5 936.5 408.0 937.4 420.5 936.5 435.8 934.8 446.0 933.0 452.4 929.8 460.5 924.5 470.0 914.0 484.3 899.5 501.4 890.0 511.0 881.0 518.5 863.5 530.5 851.5 537.3 844.5 539.9 829.5 543.2 819.0 546.6 809.5 550.7 788.5 561.0 768.5 568.9 761.0 572.5Z"/>
<path fill="#ff4a00" fill-rule="evenodd" d="M761.5 570.7 751.9 562.5 731.5 546.3 723.5 538.7 716.5 530.9 710.5 523.1 707.0 517.5 703.1 509.0 697.5 492.1 693.5 476.8 691.4 466.5 689.0 450.0 687.8 436.0 687.5 423.0 688.4 408.0 690.5 390.9 692.8 374.5 694.9 364.0 699.0 348.6 703.0 337.0 707.4 327.0 713.0 317.6 717.5 311.2 725.5 301.4 734.5 292.3 739.5 288.2 748.9 282.0 755.0 279.0 760.5 277.0 767.0 275.5 775.0 274.3 791.5 273.7 799.5 274.4 806.5 275.5 813.0 277.2 828.0 282.1 843.5 288.1 858.1 295.5 866.1 300.5 879.5 310.5 891.5 321.7 897.7 328.5 907.9 341.5 916.0 354.3 923.4 368.5 929.3 382.5 933.5 395.5 936.1 408.0 937.1 420.5 936.4 434.5 934.5 446.0 933.0 451.5 929.5 460.4 924.5 469.5 915.0 482.5 903.0 497.0 891.5 509.1 881.7 517.5 865.5 528.6 851.5 536.5 845.0 538.8 830.0 542.1 820.0 545.3 811.0 549.1 788.0 560.2 768.0 567.8 761.5 570.7Z"/>
<path fill="#ff4700" fill-rule="evenodd" d="M762.5 568.7 761.5 568.9 753.7 562.0 731.5 544.4 724.5 538.0 717.5 530.5 711.5 523.1 707.5 516.9 704.0 509.6 698.5 493.4 694.5 478.7 691.9 466.5 689.5 450.5 688.2 436.0 688.0 423.0 688.9 408.0 690.5 394.9 693.4 374.5 695.4 364.5 699.5 348.9 703.5 337.3 707.5 328.2 711.0 321.9 717.6 312.0 726.0 301.8 735.0 292.7 740.0 288.6 749.5 282.4 755.4 279.5 760.5 277.7 767.0 276.2 775.0 275.0 791.5 274.4 799.5 275.0 813.0 277.9 828.0 282.8 843.5 288.8 858.0 296.2 866.4 301.5 879.0 310.8 891.0 322.0 897.4 329.0 907.5 341.8 915.5 354.4 922.9 368.5 929.0 382.7 933.2 395.5 935.8 408.0 936.8 420.5 936.0 435.0 934.5 444.4 932.9 451.0 929.4 460.0 924.5 469.0 915.5 481.4 903.5 495.9 892.5 507.6 881.6 517.0 866.0 527.6 858.5 532.1 851.5 535.6 846.0 537.5 830.0 541.2 820.5 544.2 811.5 548.0 788.0 559.2 762.5 568.7Z"/>
<path fill="#ff4400" fill-rule="evenodd" d="M762.5 567.2 762.0 567.2 733.5 544.0 722.0 533.7 715.5 526.7 711.0 520.9 707.5 515.3 704.5 509.0 699.0 493.0 695.0 478.4 692.4 466.5 690.1 450.5 688.8 436.0 688.5 423.5 689.0 413.3 690.5 399.2 693.5 377.3 696.0 364.5 700.0 349.4 704.0 337.8 708.0 328.6 711.5 322.3 718.1 312.5 726.2 302.5 735.1 293.5 740.0 289.4 746.5 285.0 755.5 280.2 766.5 277.0 775.0 275.7 784.0 275.1 799.0 275.7 806.0 276.9 813.0 278.7 827.8 283.5 843.0 289.4 857.5 296.7 865.3 301.5 878.5 311.3 890.7 322.5 897.0 329.4 907.0 342.0 915.0 354.5 922.5 368.7 928.5 382.6 932.7 395.5 935.4 408.0 936.4 420.5 935.7 434.5 934.0 445.3 932.5 451.1 929.0 460.0 924.0 469.2 915.0 481.5 903.0 496.0 892.0 507.6 881.6 516.5 866.5 526.5 858.0 531.5 851.7 534.5 846.0 536.4 829.5 540.3 821.5 542.9 812.0 546.9 788.0 558.2 762.5 567.2Z"/>
<path fill="#ff4200" fill-rule="evenodd" d="M763.0 565.5 762.5 565.6 735.4 543.5 721.5 531.4 715.0 524.5 711.5 520.0 708.5 515.4 705.3 509.0 701.5 498.6 696.5 481.8 693.0 466.5 691.0 453.2 689.4 436.5 689.0 426.0 689.4 415.5 691.0 400.0 695.5 369.8 699.5 353.5 703.0 342.4 706.9 332.5 711.9 323.0 719.0 312.5 726.8 303.0 735.7 294.0 740.5 290.0 745.5 286.5 755.6 281.0 761.0 279.1 767.5 277.6 775.0 276.5 784.0 275.9 799.0 276.5 806.0 277.7 812.5 279.4 827.5 284.3 843.0 290.3 857.3 297.5 870.5 306.0 878.0 311.7 890.3 323.0 896.2 329.5 906.5 342.3 914.5 354.7 922.0 368.8 928.0 382.6 932.4 396.0 935.0 408.0 936.0 420.5 935.4 434.0 934.0 443.3 932.1 451.0 928.6 460.0 923.7 469.0 915.0 481.0 903.0 495.4 893.0 506.0 882.0 515.6 868.5 524.6 859.0 530.0 852.8 533.0 848.0 534.7 830.5 539.1 822.0 541.8 812.5 545.7 787.5 557.4 763.0 565.5Z"/>
<path fill="#ff3f00" fill-rule="evenodd" d="M764.5 563.5 763.0 564.0 737.2 543.0 722.5 530.4 716.5 524.4 712.5 519.6 709.5 515.2 706.5 509.5 702.5 499.2 697.5 482.8 694.5 470.4 692.3 458.0 690.5 443.0 689.7 430.0 690.0 416.0 691.0 405.3 695.5 373.5 698.6 359.5 702.0 347.7 705.5 337.9 710.0 328.0 716.0 318.1 723.5 308.0 732.0 298.7 741.0 290.7 746.2 287.0 756.0 281.8 761.5 279.9 767.5 278.4 775.5 277.3 784.0 276.8 799.0 277.4 812.5 280.4 827.0 285.1 842.5 291.0 856.5 298.0 864.0 302.5 877.5 312.3 889.7 323.5 895.8 330.0 906.0 342.7 914.0 355.1 921.5 369.1 927.6 383.0 931.9 396.0 934.5 408.0 935.6 420.5 935.0 434.0 933.5 443.8 931.7 451.0 928.4 459.5 923.5 468.6 914.5 481.0 903.0 494.7 893.0 505.4 882.5 514.5 869.0 523.5 853.5 531.6 848.1 533.5 823.0 540.6 813.5 544.4 788.0 556.2 764.5 563.5Z"/>
<path fill="#ff3c00" fill-rule="evenodd" d="M764.5 562.1 763.5 562.4 763.0 562.0 746.5 548.7 720.5 526.5 712.5 517.7 707.1 508.5 703.5 499.5 698.2 482.5 695.0 469.2 693.0 458.0 691.2 443.0 690.4 430.0 690.5 419.0 691.5 407.0 696.1 374.5 699.4 359.5 702.6 348.5 706.4 338.0 710.7 328.5 716.5 318.9 724.0 308.8 732.5 299.5 741.5 291.4 747.2 287.5 756.5 282.6 767.5 279.4 775.5 278.2 784.0 277.7 799.0 278.4 812.0 281.3 826.6 286.0 842.0 291.9 856.4 299.0 869.0 307.0 877.0 313.0 889.0 323.9 895.2 330.5 905.3 343.0 913.5 355.5 921.0 369.5 927.0 383.1 931.4 396.0 934.0 408.0 935.1 420.5 934.5 434.2 933.5 441.4 931.4 450.5 928.0 459.5 923.0 468.6 915.5 479.0 902.5 494.6 892.5 505.2 881.5 514.5 870.0 522.0 854.5 530.0 847.5 532.4 824.0 539.3 814.0 543.3 788.0 555.2 779.5 558.0 764.5 562.1Z"/>
<path fill="#ff3900" fill-rule="evenodd" d="M765.0 560.5 763.5 560.5 748.5 548.5 719.5 523.4 712.8 516.0 708.0 508.0 704.5 499.5 699.1 482.5 696.0 469.9 694.0 459.1 692.0 443.0 691.1 430.0 691.3 419.0 692.2 408.0 697.0 374.5 700.0 361.0 703.5 348.8 707.2 338.5 711.5 329.0 717.5 319.2 725.0 309.2 733.5 299.9 742.0 292.4 747.6 288.5 757.0 283.5 768.0 280.4 775.5 279.3 784.0 278.8 798.7 279.5 805.5 280.7 812.0 282.4 826.5 287.2 841.5 292.9 855.5 299.7 863.5 304.5 876.0 313.5 883.0 319.4 894.5 331.0 904.7 343.5 913.0 356.2 920.2 369.5 926.4 383.5 930.7 396.0 933.5 408.5 934.6 420.5 934.0 434.0 932.5 444.0 930.9 450.5 927.5 459.4 922.5 468.5 914.5 479.5 902.0 494.4 892.3 504.5 882.4 513.0 870.9 520.5 855.0 528.4 847.0 531.4 821.0 539.5 787.0 554.5 778.5 557.2 765.0 560.5Z"/>
<path fill="#ff3600" fill-rule="evenodd" d="M765.5 559.0 764.0 559.0 749.0 547.0 719.5 521.1 713.5 514.6 709.0 507.2 705.0 497.5 700.1 482.0 697.0 470.0 694.8 458.0 692.9 443.0 692.0 430.0 692.2 419.5 693.1 408.0 697.9 375.0 701.0 361.3 704.5 349.1 708.2 339.0 712.5 329.5 718.3 320.0 725.9 310.0 734.5 300.6 743.0 293.1 750.0 288.5 757.5 284.6 768.0 281.7 775.5 280.6 784.0 280.1 798.5 280.8 811.5 283.6 826.0 288.4 841.0 294.1 855.0 300.8 862.9 305.5 875.5 314.5 887.5 325.1 894.0 332.0 903.9 344.0 912.0 356.2 919.5 369.8 925.6 383.5 930.0 396.1 932.8 408.5 933.9 420.5 933.4 434.0 932.0 443.5 930.3 450.5 927.0 459.1 922.2 468.0 913.0 480.5 901.5 494.0 891.9 504.0 882.5 512.0 870.0 519.9 853.7 527.5 845.8 530.5 821.0 538.6 795.5 550.1 787.5 553.3 779.0 555.9 765.5 559.0Z"/>
<path fill="#ff3300" fill-rule="evenodd" d="M766.0 557.5 764.5 557.6 750.0 546.0 727.5 525.2 719.0 518.0 714.0 512.5 709.5 505.0 706.0 496.4 701.3 482.0 698.0 469.3 695.8 457.5 694.0 443.0 693.1 430.0 693.3 419.0 694.2 408.0 699.1 375.0 702.5 360.5 705.7 349.5 709.5 339.2 713.7 330.0 719.5 320.6 726.8 311.0 735.5 301.5 743.5 294.5 748.5 291.0 758.0 286.0 768.5 283.0 776.0 282.0 784.0 281.5 798.5 282.2 811.0 285.0 825.5 289.8 840.5 295.5 854.5 302.2 868.0 310.6 879.5 319.5 887.0 326.4 898.0 338.3 907.5 351.0 915.1 363.5 921.9 377.0 927.2 390.0 930.9 402.5 932.8 414.0 933.2 427.0 932.5 435.6 931.0 445.0 929.5 450.8 926.5 458.6 921.5 467.8 913.0 479.5 901.0 493.5 891.3 503.5 882.4 511.0 876.5 515.0 869.3 519.0 848.5 528.2 820.5 537.9 789.0 551.8 779.5 554.7 766.0 557.5Z"/>
<path fill="#ff3100" fill-rule="evenodd" d="M766.5 556.0 765.0 556.2 763.5 555.0 751.6 545.5 742.7 537.5 728.0 522.9 717.5 513.5 713.5 508.4 710.5 503.1 707.0 494.6 702.7 481.5 699.5 469.7 697.1 457.5 695.2 442.5 694.4 430.0 694.5 419.5 695.5 408.0 700.5 375.3 704.0 360.5 707.1 350.0 711.0 339.6 715.0 331.0 720.9 321.5 728.1 312.0 736.5 302.9 745.0 295.5 750.2 292.0 758.5 287.6 769.0 284.7 776.0 283.7 784.5 283.3 798.0 284.0 810.5 286.8 824.5 291.4 839.5 297.0 853.5 303.6 866.5 311.5 873.5 316.6 885.5 327.0 892.0 333.6 902.0 345.5 910.2 357.5 917.5 370.5 923.9 384.5 928.4 397.0 931.1 408.5 932.3 420.5 931.9 433.5 931.0 440.6 928.9 450.0 925.7 458.5 921.0 467.2 912.5 478.8 900.5 492.8 890.5 503.0 883.4 509.0 872.2 516.0 851.0 525.8 843.2 529.0 820.0 537.2 793.0 549.3 781.5 553.1 766.5 556.0Z"/>
<path fill="#ff2e00" fill-rule="evenodd" d="M767.5 554.5 765.5 554.8 765.0 554.4 753.2 545.0 743.8 536.5 717.5 509.6 714.5 505.7 711.5 500.2 707.5 490.3 704.0 479.6 700.5 466.5 698.7 457.0 696.8 442.5 695.9 430.0 696.1 420.0 697.1 408.5 702.3 375.5 705.5 362.1 709.0 350.5 712.8 340.5 717.0 331.5 722.7 322.5 729.6 313.5 738.0 304.4 745.9 297.5 751.0 294.0 759.5 289.6 769.5 286.8 776.5 285.9 784.5 285.5 798.0 286.3 810.0 289.0 824.0 293.7 838.5 299.1 852.5 305.6 865.7 313.5 878.0 322.8 884.5 328.6 895.5 340.2 905.0 352.4 912.5 364.5 919.5 377.8 925.0 390.8 928.7 403.0 930.8 414.5 931.2 426.5 930.5 436.4 929.1 445.0 927.0 452.5 924.5 458.7 920.0 466.9 911.5 478.5 899.7 492.0 889.8 502.0 882.5 508.0 873.5 513.6 848.0 525.8 819.5 536.5 794.0 547.9 781.5 552.0 767.5 554.5Z"/>
<path fill="#ff2b00" fill-rule="evenodd" d="M768.5 553.0 765.5 553.0 754.2 544.0 744.4 535.0 721.6 509.5 717.0 503.7 713.9 498.5 710.0 489.4 707.0 480.9 704.0 470.8 701.5 459.8 699.9 449.5 698.4 435.5 698.1 424.5 698.5 416.0 700.0 403.8 703.8 380.5 708.3 361.5 711.6 351.0 717.0 337.5 719.5 332.7 725.0 324.0 732.0 315.0 740.5 306.0 748.1 299.5 756.5 294.2 761.5 292.0 770.0 289.8 777.0 288.9 791.5 288.7 801.3 290.0 809.5 292.1 837.0 301.8 850.5 307.9 857.5 311.7 870.1 320.0 882.0 329.8 888.4 336.0 898.6 347.5 907.0 359.4 914.4 372.0 920.7 385.0 925.5 397.5 928.4 409.0 929.7 420.5 929.4 433.0 928.0 443.5 926.6 449.5 923.6 457.5 919.0 466.0 912.5 475.1 903.5 485.7 893.2 496.5 883.5 505.1 875.0 510.5 842.5 526.9 820.5 535.2 798.0 545.3 790.0 548.5 780.5 551.1 768.5 553.0Z"/>
<path fill="#ff2800" fill-rule="evenodd" d="M770.5 551.5 766.0 551.7 755.2 543.0 745.5 534.0 737.8 525.5 726.9 512.0 721.7 504.5 718.3 498.5 714.6 490.0 710.5 478.8 707.5 469.4 705.0 459.0 703.3 449.0 701.9 435.5 701.5 424.0 702.0 415.6 704.0 401.2 708.0 379.1 710.8 367.5 713.8 357.5 717.4 347.5 721.3 338.5 725.9 330.5 732.0 322.0 739.4 313.5 747.5 305.8 755.0 300.4 762.5 296.5 771.0 294.3 777.5 293.6 785.0 293.3 797.0 293.9 808.0 296.0 821.5 299.7 835.5 304.5 849.0 310.6 860.5 317.3 869.0 323.3 879.5 332.1 888.7 341.5 899.9 355.0 907.9 367.0 914.9 379.5 920.5 391.8 924.5 403.5 926.7 414.5 927.4 426.5 927.0 434.3 925.7 443.5 924.5 448.8 921.7 456.5 917.0 465.2 911.0 473.6 902.0 484.0 891.5 494.8 882.5 502.5 853.6 520.0 842.0 525.9 820.5 534.3 791.5 547.0 781.5 549.8 770.5 551.5Z"/>
<path fill="#ff2500" fill-rule="evenodd" d="M772.5 550.0 766.5 550.3 756.5 542.4 747.6 534.0 739.5 525.0 731.1 514.0 725.8 506.0 721.7 498.0 718.2 488.5 714.7 476.5 711.6 463.5 709.8 452.5 708.6 441.5 707.8 429.0 708.1 417.0 709.1 405.5 713.4 379.5 716.1 368.5 719.3 358.5 723.1 349.0 727.3 340.5 732.3 332.5 738.9 324.0 745.0 317.5 752.5 311.1 759.0 306.7 766.0 303.2 774.0 300.6 784.5 298.7 793.0 298.2 802.0 298.6 814.0 300.7 827.0 304.3 839.5 309.0 849.5 313.8 860.0 320.2 871.0 328.4 879.5 336.1 888.2 345.5 896.6 356.5 902.8 366.5 908.8 378.0 913.9 390.5 918.2 404.5 920.7 415.0 921.7 426.0 921.1 438.0 919.5 446.5 917.0 454.0 913.5 461.0 910.0 466.3 903.5 474.3 886.8 492.5 878.6 500.5 871.3 506.5 853.6 518.5 841.0 525.2 819.5 533.8 793.0 545.5 783.0 548.4 772.5 550.0Z"/>
<path fill="#ff2200" fill-rule="evenodd" d="M768.5 549.0 767.0 549.0 755.5 539.7 747.6 532.0 741.2 524.5 734.8 516.0 729.3 507.5 725.5 500.0 722.3 491.5 718.7 479.0 715.7 465.5 713.7 452.5 712.4 439.5 711.9 427.5 712.2 415.0 713.2 402.5 715.1 389.0 717.3 378.0 720.2 367.5 723.2 358.5 727.3 349.0 731.9 340.5 736.9 333.0 742.6 326.0 748.5 320.1 755.5 314.4 762.0 310.2 769.0 306.7 776.5 304.2 785.0 302.4 793.0 301.6 801.5 301.7 810.5 302.8 821.5 305.2 833.5 309.1 844.0 313.6 853.5 318.7 864.0 325.8 872.5 332.7 881.0 341.0 889.1 350.5 895.9 360.0 901.7 370.0 906.8 381.0 910.8 392.0 913.4 403.0 914.8 414.0 914.8 424.5 913.7 434.5 911.7 443.5 908.7 452.5 904.6 461.5 899.2 471.0 891.8 481.5 883.1 492.0 874.9 500.5 866.8 507.5 854.3 516.5 843.5 522.9 818.0 533.5 798.5 542.3 791.0 545.2 784.5 547.0 777.0 548.3 768.5 549.0Z"/>
<path fill="#ff2000" fill-rule="evenodd" d="M772.5 547.5 767.0 547.3 756.2 538.5 747.3 529.5 740.1 520.5 733.7 511.0 729.4 503.0 725.9 494.5 722.6 483.5 719.3 469.5 717.2 457.0 715.6 443.5 714.9 430.5 715.0 418.0 715.8 405.0 717.5 392.0 719.6 380.5 722.2 370.5 725.4 361.0 729.1 352.0 733.6 343.5 738.2 336.5 743.7 329.5 750.0 323.0 757.0 317.3 763.5 313.1 770.5 309.6 778.0 307.0 786.0 305.2 794.5 304.3 802.5 304.4 811.5 305.4 822.0 307.7 832.5 311.0 843.5 315.7 853.0 320.8 862.5 327.2 871.0 334.1 879.5 342.3 887.0 351.1 893.7 360.5 899.8 371.0 904.7 381.5 908.2 391.5 910.8 402.0 912.3 412.5 912.4 423.5 911.4 433.5 909.3 443.0 906.3 452.0 902.2 461.0 896.8 470.5 889.8 480.5 881.7 490.5 873.2 499.5 864.9 507.0 850.0 517.9 837.0 524.8 793.5 543.3 783.5 546.1 772.5 547.5Z"/>
<path fill="#ff1d00" fill-rule="evenodd" d="M776.5 546.0 767.5 546.0 759.5 539.6 752.0 532.5 745.0 524.5 738.6 515.5 733.3 506.5 729.3 497.5 725.7 486.5 722.4 473.0 719.9 459.5 718.3 447.0 717.4 434.5 717.3 421.0 717.9 408.0 719.3 395.5 721.3 384.0 723.7 374.0 726.7 364.5 730.3 355.5 734.5 347.0 739.2 339.5 744.6 332.5 750.0 326.7 756.0 321.4 763.0 316.6 770.0 312.8 777.5 309.9 785.5 307.9 794.0 306.8 801.5 306.6 810.5 307.4 820.5 309.4 831.5 312.7 841.5 316.8 851.0 321.8 860.5 328.0 868.8 334.5 877.2 342.5 884.7 351.0 891.2 360.0 897.5 370.5 902.3 380.5 906.1 391.0 908.7 401.0 910.3 411.5 910.6 422.0 909.8 432.0 907.8 441.5 904.9 450.5 901.2 459.0 895.9 468.5 889.1 478.5 881.1 488.5 872.4 498.0 863.9 506.0 850.0 516.5 837.5 523.5 795.5 541.7 785.5 544.7 776.5 546.0Z"/>
<path fill="#ff1a00" fill-rule="evenodd" d="M779.5 544.5 768.0 544.7 756.5 535.1 748.9 527.0 742.1 518.0 736.4 508.5 731.9 499.0 728.4 488.5 725.3 476.5 722.6 463.0 720.6 449.0 719.6 436.0 719.3 423.0 719.8 410.5 721.1 397.5 722.9 386.5 725.3 376.0 728.2 366.5 731.5 358.0 735.7 349.5 740.2 342.0 745.1 335.5 751.0 329.0 757.5 323.3 764.0 318.7 770.5 315.2 778.0 312.2 786.0 310.1 794.0 309.0 801.5 308.8 810.5 309.5 820.5 311.3 830.5 314.3 840.5 318.3 850.0 323.2 859.5 329.3 868.0 336.0 876.0 343.6 883.4 352.0 890.0 361.0 895.7 370.5 900.8 381.0 904.5 391.0 907.2 401.5 908.7 411.5 909.0 421.5 908.3 431.0 906.6 440.0 903.8 449.0 899.7 458.5 894.7 467.5 888.3 477.0 880.4 487.0 871.4 497.0 863.0 505.0 849.5 515.5 837.4 522.5 797.0 540.1 788.5 542.9 779.5 544.5Z"/>
<path fill="#ff1700" fill-rule="evenodd" d="M778.0 543.5 768.5 543.5 761.0 537.4 754.3 531.0 747.9 523.5 742.0 515.0 737.0 506.0 732.9 496.5 729.3 485.0 726.2 472.0 723.7 458.5 722.2 445.5 721.3 432.5 721.3 420.0 722.0 407.0 723.5 394.5 725.4 384.0 727.7 374.5 730.7 365.5 734.2 357.0 738.0 349.5 742.7 342.0 748.0 335.3 754.0 329.1 760.0 324.1 766.5 319.8 773.5 316.2 780.5 313.7 788.5 311.8 796.5 310.9 804.5 310.8 813.0 311.7 822.5 313.7 832.5 316.8 842.5 321.1 852.0 326.3 860.5 332.0 869.0 339.0 876.6 346.5 883.8 355.0 890.2 364.0 895.9 374.0 900.2 383.5 903.7 393.5 906.1 403.5 907.4 413.0 907.6 422.5 906.7 432.0 904.9 441.0 901.8 450.5 897.7 459.5 892.8 468.0 886.3 477.5 877.8 488.0 869.0 497.5 860.5 505.5 847.0 515.9 834.5 522.8 796.0 539.6 786.5 542.3 778.0 543.5Z"/>
<path fill="#ff1400" fill-rule="evenodd" d="M781.5 542.0 775.0 542.4 769.0 542.1 759.5 534.3 752.5 527.0 746.0 518.5 740.3 509.0 735.7 499.0 732.1 488.5 728.7 475.5 726.1 462.0 724.2 448.5 723.2 436.0 722.9 423.0 723.4 411.0 724.7 398.5 726.4 388.0 728.6 378.0 731.3 369.0 734.6 360.5 738.5 352.5 743.0 345.0 747.8 338.5 753.5 332.3 759.5 327.0 766.0 322.4 772.5 318.9 780.0 315.9 787.5 314.0 795.5 312.8 803.5 312.6 811.5 313.2 821.0 315.0 830.5 317.8 840.0 321.6 849.0 326.3 858.0 332.0 866.5 338.7 874.2 346.0 881.3 354.0 887.5 362.5 893.3 372.0 898.1 382.0 901.8 392.0 904.4 402.0 905.9 412.0 906.3 421.5 905.6 430.5 903.8 440.0 901.2 448.5 897.3 457.5 892.3 466.5 885.8 476.0 878.3 485.5 869.2 495.5 860.5 504.0 847.5 514.3 835.1 521.5 798.5 537.7 790.0 540.4 781.5 542.0Z"/>
<path fill="#fd1100" fill-rule="evenodd" d="M780.0 541.0 769.5 540.8 764.0 536.5 757.6 530.5 751.0 523.0 745.5 515.0 740.5 506.0 736.5 496.5 732.8 485.0 729.7 472.0 727.3 459.0 725.6 446.0 724.7 433.0 724.6 420.5 725.3 407.5 726.7 395.5 728.7 385.0 730.9 376.0 733.9 367.0 737.2 359.0 741.1 351.5 745.6 344.5 750.7 338.0 756.5 332.0 762.5 327.1 768.5 323.1 775.5 319.6 782.5 317.1 790.0 315.4 797.5 314.5 805.5 314.4 814.0 315.3 824.0 317.4 833.5 320.5 842.5 324.4 851.5 329.4 860.0 335.2 867.6 341.5 875.0 348.8 882.0 357.1 888.2 366.0 893.7 375.5 898.0 385.0 901.3 394.5 903.6 404.0 904.8 413.5 905.0 422.5 904.2 432.0 902.2 441.5 899.3 450.0 895.4 458.5 890.2 467.5 883.6 477.0 875.9 486.5 866.6 496.5 858.0 504.7 845.0 514.8 832.5 521.7 797.5 537.1 788.5 539.8 780.0 541.0Z"/>
<path fill="#fa0f00" fill-rule="evenodd" d="M783.5 539.5 777.0 539.9 770.0 539.4 763.0 533.9 755.7 526.5 749.4 518.5 743.7 509.0 739.3 499.5 735.6 489.0 732.2 476.0 729.4 462.5 727.5 449.5 726.4 436.5 726.1 424.5 726.5 412.0 727.7 400.0 729.3 390.0 731.4 380.5 734.0 371.5 737.2 363.0 740.8 355.5 745.2 348.0 750.0 341.5 755.5 335.4 761.5 330.1 767.5 325.9 774.0 322.3 781.0 319.5 788.5 317.4 796.0 316.3 803.5 316.0 812.0 316.6 821.5 318.3 830.5 321.0 839.5 324.6 848.5 329.3 857.0 334.7 865.5 341.4 872.9 348.5 879.5 356.0 885.8 364.5 891.2 373.5 895.8 383.0 899.6 393.0 902.2 403.0 903.6 412.5 903.9 421.5 903.3 430.5 901.5 439.5 898.9 448.0 895.2 456.5 890.2 465.5 884.0 474.6 876.5 484.0 867.5 494.0 858.8 502.5 845.9 513.0 834.0 520.0 799.5 535.4 791.0 538.1 783.5 539.5Z"/>
<path fill="#f60c00" fill-rule="evenodd" d="M782.5 538.5 776.0 538.7 770.0 538.0 761.3 530.5 754.9 523.5 749.1 515.5 744.0 506.5 739.9 497.0 736.3 486.0 733.1 473.5 730.6 460.5 728.8 447.0 727.8 434.0 727.6 421.5 728.2 409.5 729.5 397.5 731.3 387.5 733.6 378.0 736.3 369.5 739.6 361.5 743.2 354.5 747.6 347.5 752.5 341.1 758.0 335.4 763.8 330.5 770.0 326.4 776.5 323.0 783.5 320.4 791.0 318.6 798.5 317.7 806.5 317.7 814.0 318.4 823.0 320.2 832.0 323.0 841.0 326.8 850.0 331.7 858.0 337.1 866.0 343.6 873.5 350.9 880.0 358.5 886.0 367.0 891.2 376.0 895.4 385.0 898.8 394.5 901.1 403.5 902.5 413.0 902.8 422.5 902.0 431.5 900.3 440.0 897.3 449.0 893.5 457.5 888.6 466.0 882.4 475.0 874.7 484.5 865.6 494.5 856.7 503.0 844.0 513.1 831.5 520.2 798.5 534.8 790.5 537.2 782.5 538.5Z"/>
<path fill="#f30900" fill-rule="evenodd" d="M786.0 537.0 778.0 537.5 771.0 536.8 766.5 533.5 759.2 526.5 752.7 518.5 747.2 509.5 742.6 500.0 739.0 490.0 735.6 477.5 732.7 464.0 730.7 451.0 729.5 439.0 729.0 426.5 729.3 414.5 730.3 402.5 731.8 392.5 733.9 382.5 736.5 373.5 739.5 365.5 743.1 358.0 747.1 351.0 751.8 344.5 757.0 338.6 762.5 333.6 768.5 329.2 775.0 325.6 782.0 322.7 789.0 320.7 796.5 319.5 804.0 319.2 812.0 319.7 821.0 321.2 830.0 323.8 839.0 327.4 847.5 331.8 855.7 337.0 863.5 343.0 871.0 350.0 878.0 357.9 884.0 366.1 889.4 375.0 893.8 384.0 897.2 393.0 899.7 402.0 901.2 411.5 901.7 421.0 901.2 429.5 899.7 438.0 897.0 447.0 893.4 455.5 888.7 464.0 883.0 472.5 875.5 482.0 867.0 491.5 858.0 500.5 845.0 511.2 833.0 518.5 801.0 532.9 793.0 535.6 786.0 537.0Z"/>
<path fill="#ef0600" fill-rule="evenodd" d="M785.0 536.0 777.5 536.2 771.0 535.4 765.1 530.5 758.3 523.5 752.7 516.0 747.4 507.0 743.1 497.5 739.6 487.0 736.2 474.0 733.5 461.0 731.8 448.5 730.7 436.0 730.4 424.0 730.9 412.0 732.1 400.0 733.6 390.5 735.8 381.0 738.4 372.5 741.4 365.0 745.0 357.5 749.3 350.5 754.0 344.3 759.0 338.9 764.6 334.0 771.0 329.6 777.5 326.2 784.0 323.7 791.0 321.9 798.5 320.9 806.0 320.7 813.5 321.3 822.5 323.0 831.5 325.8 840.0 329.3 848.5 333.8 856.5 339.1 864.0 345.0 871.3 352.0 878.0 359.8 883.9 368.0 889.2 377.0 893.5 386.0 896.7 395.0 899.0 404.0 900.4 413.0 900.7 422.0 900.1 430.5 898.4 439.0 895.9 447.0 892.2 455.5 887.5 464.0 881.4 473.0 874.2 482.0 865.5 491.6 856.5 500.5 843.7 511.0 831.5 518.3 801.0 531.9 792.5 534.7 785.0 536.0Z"/>
<path fill="#ec0300" fill-rule="evenodd" d="M782.5 535.0 776.0 534.8 771.0 533.8 762.0 525.7 756.4 519.0 751.4 511.5 747.0 503.0 743.1 493.5 739.7 482.5 736.7 470.0 734.3 457.5 732.7 445.0 731.9 432.5 731.8 421.0 732.5 409.0 733.8 397.5 735.5 388.0 737.8 379.0 740.5 371.0 743.6 363.5 747.3 356.5 751.5 350.0 756.2 344.0 761.5 338.6 767.2 334.0 773.0 330.2 779.5 327.0 786.0 324.7 793.0 323.1 800.0 322.3 807.5 322.2 815.0 322.9 824.0 324.8 832.5 327.5 841.5 331.4 849.5 335.9 857.5 341.3 865.0 347.5 872.0 354.5 878.3 362.0 884.0 370.1 889.1 379.0 893.1 388.0 896.2 397.0 898.4 406.0 899.5 415.0 899.6 424.0 898.8 432.0 896.9 441.0 893.9 449.5 890.1 457.5 885.1 466.0 878.6 475.0 870.7 484.5 861.8 494.0 853.0 502.4 846.2 508.0 840.0 512.4 826.0 519.9 807.0 528.5 798.5 531.9 790.5 534.1 782.5 535.0Z"/>
<path fill="#e80000" fill-rule="evenodd" d="M787.0 533.5 780.0 533.8 773.5 533.1 771.5 532.6 768.0 529.7 761.3 523.0 755.5 515.5 750.4 507.0 746.1 497.5 742.6 487.5 739.2 475.0 736.5 462.0 734.6 449.5 733.5 437.5 733.1 425.5 733.4 413.5 734.5 402.0 738.0 383.5 740.5 375.0 743.6 367.0 747.0 360.0 751.0 353.3 755.5 347.2 760.5 341.7 766.0 336.8 771.5 332.9 778.0 329.3 784.5 326.7 791.5 324.9 799.0 323.8 806.0 323.6 813.5 324.1 822.5 325.8 831.0 328.4 839.5 331.9 847.5 336.1 855.5 341.3 863.0 347.2 870.0 353.9 876.2 361.0 882.0 369.0 887.1 377.5 891.2 386.0 894.6 395.0 896.8 403.5 898.3 412.5 898.7 421.5 898.1 430.0 896.7 438.0 894.1 446.5 890.6 454.5 885.9 463.0 880.1 471.5 873.0 480.5 864.5 489.9 855.5 498.8 843.0 509.2 831.0 516.5 802.0 529.6 794.0 532.2 787.0 533.5Z"/>
<path fill="#e50000" fill-rule="evenodd" d="M785.5 532.5 778.5 532.4 772.0 531.2 766.5 526.5 760.5 520.0 755.1 512.5 750.4 504.0 746.4 494.5 742.9 484.0 739.7 471.5 737.2 458.5 735.5 446.5 734.6 435.0 734.4 423.0 734.9 411.0 736.2 399.5 739.9 381.5 742.3 374.0 745.5 366.0 749.0 359.2 753.0 352.9 757.5 347.0 762.8 341.5 768.2 337.0 774.0 333.1 780.0 330.1 786.5 327.7 793.5 326.0 800.5 325.1 808.0 325.0 815.0 325.7 823.0 327.3 831.5 329.9 840.0 333.5 848.5 338.1 856.0 343.1 863.5 349.2 870.4 356.0 876.4 363.0 882.1 371.0 887.0 379.5 890.9 388.0 894.1 397.0 896.2 405.5 897.5 414.0 897.7 423.0 897.0 431.5 895.3 439.5 892.7 447.5 889.0 455.7 884.2 464.0 878.2 472.5 870.5 481.9 862.0 491.1 853.0 499.8 840.3 510.0 827.1 517.5 801.0 529.0 793.0 531.4 785.5 532.5Z"/>
<path fill="#e10000" fill-rule="evenodd" d="M789.0 531.0 783.0 531.4 778.0 531.1 772.5 529.9 771.0 528.8 764.4 522.5 758.3 515.0 753.4 507.0 748.9 497.5 745.4 487.5 742.0 475.5 739.3 463.0 737.3 450.5 736.1 439.0 735.6 427.0 735.9 415.5 736.9 404.0 740.2 385.5 742.7 377.0 745.5 369.5 748.8 362.5 752.6 356.0 756.9 350.0 761.8 344.5 767.0 339.8 772.5 335.8 778.5 332.4 785.0 329.7 791.5 327.8 798.5 326.7 805.5 326.4 813.0 326.8 821.0 328.1 829.5 330.5 837.5 333.6 846.0 337.9 854.0 343.1 861.0 348.5 868.0 355.0 874.2 362.0 880.0 369.8 885.0 377.9 889.2 386.5 892.5 395.0 894.8 403.5 896.3 412.5 896.8 421.0 896.4 429.0 894.9 437.5 892.5 445.5 889.1 453.5 884.7 461.5 879.3 469.5 872.5 478.2 864.5 487.2 855.5 496.3 843.0 507.0 831.0 514.5 803.5 527.1 796.0 529.6 789.0 531.0Z"/>
<path fill="#de0000" fill-rule="evenodd" d="M788.0 530.0 781.5 530.1 776.0 529.4 772.5 528.3 769.8 526.0 763.5 519.5 758.0 512.2 753.3 504.0 749.3 495.0 745.9 485.0 742.6 472.5 739.9 459.5 738.2 447.5 737.2 435.5 736.9 424.5 737.3 413.0 738.4 402.0 741.8 384.5 744.4 376.0 747.2 369.0 750.6 362.0 754.5 355.6 758.7 350.0 763.5 344.8 769.0 340.0 774.5 336.2 780.5 333.1 787.0 330.5 793.5 328.9 800.5 327.9 807.5 327.8 814.5 328.3 823.0 329.9 831.5 332.5 839.5 335.9 847.5 340.2 855.0 345.2 862.0 350.8 868.9 357.5 874.9 364.5 880.5 372.4 885.2 380.5 889.0 388.5 892.1 397.0 894.3 405.5 895.6 414.0 895.9 422.5 895.2 430.5 893.7 438.5 891.1 446.5 887.6 454.5 883.0 462.5 877.1 471.0 870.2 479.5 862.0 488.5 853.4 497.0 841.0 507.3 828.5 514.8 802.5 526.5 795.0 528.8 788.0 530.0Z"/>
<path fill="#da0000" fill-rule="evenodd" d="M791.0 528.5 781.5 528.8 777.0 528.2 773.0 527.0 766.5 520.9 760.8 514.0 756.0 506.3 751.7 497.5 748.1 487.5 744.8 476.0 742.0 464.0 739.9 451.5 738.7 440.0 738.1 428.5 738.3 417.0 739.2 405.5 742.4 387.5 744.6 379.5 747.3 372.0 750.8 364.5 754.5 358.1 758.5 352.5 763.3 347.0 768.5 342.3 774.0 338.3 780.0 334.9 786.0 332.4 792.5 330.5 799.0 329.4 806.0 329.1 813.5 329.5 822.0 331.0 830.0 333.3 838.0 336.5 846.0 340.6 853.5 345.5 860.5 350.9 867.0 357.0 873.2 364.0 878.7 371.5 883.5 379.3 887.5 387.5 890.8 396.0 893.1 404.5 894.5 413.0 895.0 421.5 894.5 429.0 893.1 437.0 890.9 444.5 887.8 452.0 883.5 460.0 878.2 468.0 871.6 476.5 863.6 485.5 855.3 494.0 842.5 505.1 830.5 512.8 805.0 524.5 797.5 527.1 791.0 528.5Z"/>
<path fill="#d70000" fill-rule="evenodd" d="M789.5 527.5 784.5 527.7 779.0 527.2 773.5 525.7 772.0 524.5 766.0 518.4 760.7 511.5 756.0 503.5 751.9 494.5 748.3 484.0 745.2 472.5 742.6 460.5 740.8 448.5 739.7 437.0 739.3 426.0 739.7 414.5 740.7 403.5 743.9 386.5 746.3 378.5 749.2 371.0 752.5 364.1 756.2 358.0 760.3 352.5 765.0 347.3 770.0 342.9 775.5 339.0 781.5 335.7 787.5 333.4 794.0 331.6 801.0 330.6 807.5 330.4 814.5 330.9 822.5 332.4 830.5 334.8 838.5 338.0 846.0 341.9 853.5 346.8 860.5 352.4 867.0 358.5 873.0 365.4 878.5 373.0 883.3 381.0 887.1 389.0 890.3 397.5 892.5 406.0 893.7 414.5 894.1 422.0 893.5 430.0 892.0 438.0 889.6 445.5 886.4 453.0 882.0 460.8 876.5 468.9 870.0 477.0 861.5 486.5 852.9 495.0 840.5 505.5 828.5 512.8 804.0 523.9 796.0 526.4 789.5 527.5Z"/>
<path fill="#d40000" fill-rule="evenodd" d="M792.5 526.0 787.0 526.5 782.0 526.3 777.0 525.3 773.5 524.0 767.8 518.5 762.6 512.0 758.2 505.0 754.3 497.0 750.7 487.5 747.3 476.0 744.5 464.0 742.5 452.0 741.2 440.5 740.6 429.0 740.7 417.5 741.5 407.0 744.5 389.5 746.6 381.5 749.3 374.0 752.5 367.0 756.2 360.5 760.4 354.5 764.8 349.5 770.0 344.7 775.5 340.7 781.0 337.5 787.0 335.0 793.0 333.3 799.5 332.1 806.5 331.7 813.5 332.1 821.5 333.4 829.5 335.7 837.0 338.6 845.0 342.7 852.5 347.5 859.0 352.5 865.5 358.5 871.5 365.2 877.0 372.5 881.6 380.0 885.7 388.0 888.8 396.0 891.1 404.0 892.6 412.5 893.1 420.5 892.8 428.5 891.4 436.5 889.2 444.0 886.1 451.5 882.1 459.0 876.8 467.0 870.6 475.0 863.0 483.6 854.8 492.0 842.0 503.2 830.1 511.0 806.5 521.9 799.0 524.5 792.5 526.0Z"/>
<path fill="#d00000" fill-rule="evenodd" d="M791.0 525.0 782.0 524.9 777.5 524.0 774.0 522.7 768.0 516.7 762.8 510.0 758.3 502.5 754.2 493.5 750.8 483.5 747.6 472.0 745.0 460.0 743.2 448.5 742.2 437.5 741.8 426.0 742.1 415.0 743.0 404.5 746.2 387.5 748.4 380.0 751.3 372.5 754.5 366.0 758.1 360.0 762.2 354.5 766.7 349.5 771.8 345.0 777.0 341.4 783.0 338.1 789.0 335.8 795.0 334.2 801.5 333.3 808.0 333.1 815.0 333.6 823.0 335.1 830.5 337.3 838.0 340.3 845.5 344.3 852.5 348.8 859.7 354.5 866.0 360.5 871.7 367.0 877.0 374.3 881.6 382.0 885.5 390.0 888.5 398.0 890.6 406.0 891.9 414.0 892.3 422.0 891.7 430.0 890.3 437.5 888.0 445.0 884.7 452.5 880.5 460.0 875.0 468.0 868.5 476.1 860.5 485.0 852.0 493.4 839.5 504.0 827.5 511.4 805.0 521.5 797.5 523.9 791.0 525.0Z"/>
<path fill="#cd0000" fill-rule="evenodd" d="M793.5 523.5 788.5 524.0 783.5 523.8 778.5 522.8 774.5 521.3 769.0 515.9 764.4 510.0 760.0 503.0 756.4 495.5 752.9 486.0 749.6 475.0 746.8 463.0 744.8 451.5 743.5 440.0 743.0 429.0 743.1 418.0 743.9 407.5 746.8 390.5 751.5 375.5 754.4 369.0 758.1 362.5 762.3 356.5 766.5 351.7 771.5 347.0 776.5 343.3 782.0 340.2 788.0 337.6 794.0 335.9 800.5 334.7 807.0 334.4 814.0 334.8 821.5 336.0 829.5 338.2 837.0 341.2 844.5 345.0 852.0 349.8 858.5 354.8 864.6 360.5 870.4 367.0 875.6 374.0 880.3 381.5 884.0 389.0 887.3 397.5 889.6 405.5 890.9 413.5 891.4 421.0 891.0 428.5 889.6 436.5 887.6 443.5 884.5 450.9 880.7 458.0 875.5 465.8 869.5 473.6 854.0 490.3 841.3 501.5 829.5 509.3 820.0 514.0 807.5 519.5 800.0 522.1 793.5 523.5Z"/>
<path fill="#c90000" fill-rule="evenodd" d="M792.0 522.5 783.0 522.3 779.0 521.5 775.0 519.9 769.5 514.4 764.6 508.0 760.5 501.0 756.6 492.5 753.2 483.0 750.0 471.5 747.5 460.0 745.6 448.5 744.6 437.5 744.2 427.0 744.4 416.0 745.4 405.5 748.4 389.0 753.3 374.5 759.6 362.5 763.6 357.0 768.1 352.0 773.0 347.6 778.0 344.0 783.5 341.0 789.5 338.6 795.5 336.9 802.0 335.9 808.5 335.7 815.0 336.2 822.5 337.5 830.0 339.7 837.5 342.7 845.0 346.6 852.0 351.1 858.8 356.5 865.0 362.4 870.3 368.5 875.5 375.5 880.0 383.0 883.7 390.5 886.7 398.5 888.7 406.0 890.0 414.0 890.5 422.0 890.0 429.5 888.6 437.0 886.3 444.5 883.3 451.5 879.1 459.0 874.0 466.5 867.6 474.5 860.0 483.0 851.5 491.5 839.0 502.1 827.0 509.6 815.6 515.0 805.5 519.2 798.5 521.4 792.0 522.5Z"/>
<path fill="#c60000" fill-rule="evenodd" d="M794.5 521.0 789.5 521.4 784.5 521.2 780.0 520.2 775.5 518.5 770.5 513.5 766.0 507.7 762.0 501.2 758.6 494.0 755.0 484.5 751.9 474.0 749.1 462.0 747.1 450.5 746.0 440.0 745.4 429.0 745.5 418.0 746.3 408.0 749.2 391.0 753.8 376.5 756.8 370.0 760.2 364.0 764.2 358.5 768.5 353.5 773.5 349.0 778.5 345.4 784.0 342.3 789.5 340.0 795.5 338.3 801.5 337.3 808.0 337.0 814.5 337.4 822.0 338.7 829.5 340.8 836.5 343.5 844.0 347.3 851.0 351.7 857.5 356.8 863.5 362.4 869.0 368.5 874.3 375.5 878.6 382.5 882.4 390.0 885.5 397.9 887.8 406.0 889.1 413.5 889.6 421.0 889.2 428.5 888.0 435.8 885.9 443.0 883.0 450.0 879.3 457.0 874.5 464.3 868.5 472.1 853.3 488.5 840.5 499.9 829.0 507.5 819.5 512.2 808.5 517.0 801.0 519.6 794.5 521.0Z"/>
<path fill="#c20000" fill-rule="evenodd" d="M792.5 520.0 788.0 520.1 783.0 519.5 779.0 518.4 775.5 516.7 770.5 511.4 765.8 505.0 761.8 498.0 758.3 490.0 755.1 480.5 751.9 469.0 749.5 457.5 747.8 446.5 746.9 436.0 746.6 425.5 746.9 415.0 747.9 405.0 751.0 389.0 755.6 375.5 758.5 369.5 762.2 363.5 766.0 358.4 770.5 353.5 775.1 349.5 780.5 345.8 785.8 343.0 791.5 340.8 797.5 339.3 803.5 338.5 810.0 338.4 816.0 338.9 823.5 340.3 831.0 342.6 838.5 345.7 845.5 349.5 852.0 353.8 858.4 359.0 864.5 364.9 869.8 371.0 874.5 377.6 878.9 385.0 882.5 392.5 885.2 400.0 887.3 408.0 888.4 415.5 888.7 423.0 888.1 430.0 886.7 437.5 884.5 444.5 881.1 452.0 877.1 459.0 871.8 466.5 865.8 474.0 850.0 490.5 837.5 501.0 825.5 508.3 814.5 513.4 805.5 517.0 798.5 519.1 792.5 520.0Z"/>
<path fill="#bf0000" fill-rule="evenodd" d="M794.5 518.5 789.5 518.8 784.5 518.3 779.6 517.0 776.0 515.2 771.5 510.5 767.4 505.0 763.8 499.0 760.3 491.5 757.0 482.4 753.8 471.5 751.3 460.5 749.4 449.0 748.3 439.0 747.8 428.5 747.9 418.0 748.8 407.5 751.7 391.0 756.2 377.5 759.0 371.4 762.4 365.5 766.0 360.5 770.4 355.5 775.0 351.4 780.0 347.7 785.0 344.9 790.5 342.6 796.1 341.0 802.0 340.0 808.5 339.7 815.0 340.0 822.5 341.3 829.5 343.3 837.0 346.3 844.0 349.9 850.5 354.1 857.0 359.2 863.0 364.8 868.5 371.0 873.3 377.5 877.5 384.5 881.2 392.0 884.1 399.5 886.1 407.0 887.4 414.5 887.8 422.0 887.4 429.0 886.2 436.0 883.9 443.5 880.9 450.5 877.3 457.0 872.6 464.0 866.7 471.5 851.5 487.8 839.0 498.7 827.5 506.1 818.0 510.8 808.0 515.0 801.0 517.3 794.5 518.5Z"/>
<path fill="#bb0000" fill-rule="evenodd" d="M796.5 517.0 791.0 517.5 785.5 517.0 781.0 515.9 776.8 514.0 772.5 509.5 768.5 504.2 765.1 498.5 762.0 492.2 758.7 483.5 755.5 472.9 752.8 461.5 750.8 450.5 749.6 440.0 749.0 430.0 749.1 419.5 749.8 409.5 752.4 393.5 756.8 379.5 762.8 367.5 766.5 362.1 770.5 357.4 775.0 353.2 780.0 349.4 785.0 346.5 790.5 344.1 796.5 342.3 802.5 341.3 808.5 341.0 815.0 341.3 822.0 342.5 829.5 344.6 836.5 347.4 843.5 350.9 850.0 355.1 856.0 359.7 862.0 365.3 867.2 371.0 872.1 377.5 876.4 384.5 880.0 391.5 882.9 399.0 885.1 406.5 886.4 414.0 886.9 421.5 886.5 428.5 885.5 435.0 883.5 442.0 880.6 449.0 877.0 455.8 872.6 462.5 867.0 469.8 852.5 485.6 840.0 496.8 829.0 504.2 820.5 508.6 810.0 513.1 803.0 515.5 796.5 517.0Z"/>
<path fill="#b80000" fill-rule="evenodd" d="M793.5 516.0 789.0 516.0 784.5 515.3 780.5 514.1 777.0 512.3 772.2 507.0 768.1 501.0 764.5 494.5 761.3 487.0 758.1 477.5 755.3 467.0 753.0 456.2 751.4 445.5 750.5 435.5 750.2 425.5 750.5 415.5 751.5 405.5 754.5 390.5 759.0 377.5 762.0 371.5 765.5 365.8 769.5 360.6 773.4 356.5 778.0 352.6 783.0 349.2 788.0 346.7 793.5 344.6 799.0 343.2 805.0 342.5 811.0 342.4 817.0 342.9 824.0 344.3 831.0 346.4 838.0 349.4 844.7 353.0 851.0 357.2 857.0 362.0 862.7 367.5 868.0 373.7 872.5 380.0 876.7 387.0 880.0 394.0 882.7 401.5 884.6 409.0 885.7 416.0 886.0 423.0 885.4 430.0 884.1 437.0 881.8 444.0 878.7 451.0 874.9 457.5 870.0 464.6 864.0 472.0 848.2 488.5 836.2 498.5 824.5 505.5 814.8 510.0 806.0 513.4 799.5 515.2 793.5 516.0Z"/>
<path fill="#b40000" fill-rule="evenodd" d="M795.5 514.5 790.5 514.6 785.6 514.0 781.0 512.6 777.5 510.7 773.3 506.0 769.5 500.7 766.3 495.0 763.1 488.0 759.9 479.0 757.0 468.7 754.6 458.0 752.9 447.5 751.9 437.5 751.4 427.5 751.6 417.5 752.5 408.0 755.3 392.5 759.6 379.5 765.7 368.0 769.3 363.0 773.4 358.5 782.0 351.5 787.4 348.5 792.5 346.4 798.5 344.8 804.0 343.9 809.5 343.7 816.0 344.1 823.0 345.3 830.0 347.4 836.6 350.0 843.3 353.5 849.5 357.5 855.5 362.1 861.2 367.5 866.5 373.5 871.3 380.0 875.5 386.9 878.9 394.0 881.6 401.0 883.5 408.0 884.7 415.5 885.0 422.5 884.6 429.5 883.4 436.0 881.3 443.0 878.5 449.5 874.5 456.5 869.7 463.5 864.0 470.7 849.0 486.4 837.3 496.5 826.0 503.6 817.0 507.9 808.1 511.5 801.5 513.5 795.5 514.5Z"/>
<path fill="#b10000" fill-rule="evenodd" d="M796.5 513.0 791.5 513.2 786.5 512.6 782.0 511.2 778.0 509.1 774.0 504.6 770.5 499.6 764.5 487.8 761.3 479.0 758.3 468.5 755.9 458.0 754.2 447.5 753.1 437.5 752.7 427.5 752.9 418.0 753.7 408.5 756.4 393.5 760.6 380.5 766.5 369.3 770.0 364.4 774.0 359.9 778.3 356.0 783.0 352.6 788.0 349.8 793.0 347.8 798.5 346.2 804.0 345.4 810.0 345.1 816.0 345.4 822.5 346.5 829.5 348.5 836.5 351.3 843.0 354.7 849.5 358.9 855.4 363.5 861.0 368.8 866.0 374.5 870.5 380.6 874.7 387.5 878.1 394.5 880.7 401.5 882.6 408.5 883.8 415.5 884.1 422.5 883.7 429.0 882.6 435.5 880.5 442.5 877.7 449.0 874.1 455.5 869.5 462.3 864.0 469.3 849.5 484.7 837.5 495.2 826.5 502.2 818.0 506.3 809.0 510.0 802.5 512.0 796.5 513.0Z"/>
<path fill="#ad0000" fill-rule="evenodd" d="M797.5 511.5 792.0 511.7 787.0 511.1 782.5 509.7 778.5 507.5 771.5 498.5 765.8 487.5 762.5 478.5 759.8 469.0 757.3 458.5 755.5 448.0 754.4 438.0 754.0 428.5 754.1 419.0 754.8 409.5 757.3 395.0 761.5 382.0 767.4 370.5 774.5 361.5 778.8 357.5 783.5 354.0 793.0 349.3 798.5 347.7 804.0 346.8 810.0 346.5 816.0 346.8 823.0 348.0 829.5 349.9 836.0 352.4 842.5 355.8 848.5 359.6 854.5 364.2 860.0 369.4 865.0 375.0 869.5 381.0 873.5 387.5 877.0 394.5 879.7 401.5 881.6 408.5 882.7 415.0 883.2 421.5 882.8 428.5 881.6 435.5 879.9 441.5 877.2 448.0 873.7 454.5 869.3 461.0 863.9 468.0 849.9 483.0 838.0 493.6 827.0 500.8 819.0 504.7 810.0 508.4 803.5 510.4 797.5 511.5Z"/>
<path fill="#aa0000" fill-rule="evenodd" d="M798.0 510.0 792.5 510.2 787.5 509.5 783.0 508.0 779.0 505.7 772.5 497.4 766.9 486.5 764.0 478.5 761.0 468.5 756.8 448.0 755.3 429.0 755.4 419.5 756.1 410.0 758.6 395.5 762.5 383.0 765.3 377.0 768.4 371.5 775.5 362.6 779.5 358.8 784.0 355.5 789.0 352.7 794.0 350.6 799.5 349.0 804.5 348.2 810.0 347.9 816.0 348.2 822.5 349.3 829.0 351.1 835.5 353.6 842.0 356.9 848.5 361.0 854.0 365.3 859.1 370.0 864.0 375.5 868.6 381.5 872.6 388.0 875.9 394.5 878.6 401.5 880.5 408.0 881.8 415.0 882.2 422.0 881.9 428.5 880.8 435.0 879.0 441.2 876.4 447.5 872.9 454.0 863.5 467.0 849.5 482.1 837.5 492.7 827.0 499.6 819.0 503.5 810.5 506.9 804.0 508.9 798.0 510.0Z"/>
<path fill="#a60000" fill-rule="evenodd" d="M798.0 508.5 793.0 508.6 788.0 507.9 783.5 506.4 779.5 504.0 773.1 495.5 767.8 485.0 764.8 476.5 762.0 466.9 758.0 446.8 756.6 428.0 756.7 419.0 757.5 409.5 760.1 395.0 764.1 383.0 769.5 372.5 776.7 363.5 785.0 356.7 789.8 354.0 794.5 352.0 799.8 350.5 805.0 349.6 810.5 349.3 816.5 349.7 823.0 350.8 829.5 352.6 835.5 355.0 842.0 358.3 848.0 362.1 853.6 366.5 859.0 371.6 864.0 377.2 868.3 383.0 872.0 389.1 875.4 396.0 877.9 402.5 879.7 409.0 880.9 416.0 881.2 422.5 880.9 429.0 879.7 435.5 877.7 442.0 875.0 448.2 871.5 454.5 861.9 467.5 848.0 482.2 836.5 492.2 826.0 498.9 810.5 505.6 804.0 507.5 798.0 508.5Z"/>
<path fill="#a30000" fill-rule="evenodd" d="M796.0 507.0 791.5 506.8 787.0 505.8 783.0 504.1 780.0 502.1 776.3 497.5 773.1 492.5 767.5 480.1 762.0 461.1 758.8 442.5 757.9 424.5 759.3 406.5 762.0 393.3 766.3 381.5 772.0 371.5 779.4 363.0 787.5 357.0 792.0 354.7 797.0 352.8 802.5 351.5 807.5 350.9 818.5 351.4 824.5 352.6 831.0 354.6 837.5 357.4 843.5 360.7 849.2 364.5 854.6 369.0 859.7 374.0 864.4 379.5 868.5 385.3 872.1 391.5 875.1 398.0 877.5 404.7 879.1 411.0 880.0 417.5 880.2 424.0 879.7 430.5 878.3 437.0 876.1 443.5 873.2 449.5 869.5 455.8 864.7 462.5 858.8 469.5 844.0 484.5 833.0 493.4 822.1 499.5 807.5 505.1 801.5 506.5 796.0 507.0Z"/>
<path fill="#9f0000" fill-rule="evenodd" d="M800.5 505.0 795.5 505.3 790.5 504.8 786.0 503.4 782.0 501.3 780.0 499.6 776.2 494.5 770.9 484.5 767.8 476.5 765.0 467.2 761.0 448.0 759.3 430.0 760.0 412.0 762.3 398.0 766.0 386.0 771.2 375.5 778.0 366.7 782.0 362.9 786.5 359.5 795.5 355.0 805.5 352.7 811.0 352.3 816.5 352.6 822.5 353.6 829.0 355.4 835.5 357.9 841.5 361.0 847.0 364.5 852.5 368.8 857.5 373.4 862.1 378.5 866.5 384.4 870.3 390.5 873.5 397.0 876.0 403.5 877.8 410.0 878.8 416.0 879.2 422.0 878.9 428.5 877.9 434.5 876.1 440.5 873.7 446.5 870.4 452.5 861.4 465.0 848.4 479.0 837.0 489.1 827.0 495.7 820.3 499.0 812.6 502.0 806.0 504.0 800.5 505.0Z"/>
<path fill="#9c0000" fill-rule="evenodd" d="M802.5 503.0 797.5 503.5 792.5 503.2 788.0 502.1 784.0 500.3 781.5 498.5 778.6 495.0 772.8 485.0 769.8 477.5 767.0 468.9 762.7 449.5 760.9 432.0 761.3 414.0 763.4 400.0 767.0 387.6 772.0 377.3 778.5 368.5 782.5 364.6 786.5 361.5 791.0 358.8 795.5 356.8 800.5 355.2 805.5 354.3 816.0 354.1 822.0 355.0 828.5 356.7 834.5 359.0 840.5 362.0 846.0 365.4 851.4 369.5 856.3 374.0 860.9 379.0 865.2 384.5 868.9 390.5 874.5 402.6 876.4 409.0 877.6 415.0 878.1 421.0 877.9 427.5 877.0 433.5 875.5 439.2 873.2 445.0 870.1 451.0 862.0 462.6 849.9 476.0 838.5 486.5 828.5 493.5 822.5 496.6 815.5 499.5 809.0 501.6 802.5 503.0Z"/>
<path fill="#980000" fill-rule="evenodd" d="M799.5 501.5 794.5 501.4 790.0 500.6 786.0 499.1 782.5 496.8 777.0 489.4 772.0 479.0 766.8 462.0 763.4 444.0 762.2 426.5 763.3 409.5 765.8 396.5 769.6 385.5 775.0 375.7 781.5 367.9 789.5 361.7 798.5 357.6 808.0 355.7 818.5 356.0 824.5 357.2 830.5 359.0 836.4 361.5 842.0 364.5 852.5 372.2 861.5 381.7 865.5 387.2 869.0 393.1 872.0 399.4 874.2 405.5 875.9 412.0 876.8 418.0 877.0 423.8 876.6 429.5 875.4 435.5 873.5 441.5 870.8 447.5 867.5 453.2 858.0 465.7 844.5 479.7 834.0 488.5 824.5 494.2 811.0 499.4 805.0 500.8 799.5 501.5Z"/>
<path fill="#950000" fill-rule="evenodd" d="M804.0 499.0 798.5 499.5 794.0 499.2 790.0 498.3 786.0 496.6 783.0 494.5 781.5 492.8 778.3 488.0 775.5 482.8 772.7 476.0 770.0 467.8 765.7 449.0 763.9 432.0 764.3 415.0 766.1 402.0 769.6 390.0 774.3 380.0 780.5 371.5 788.0 364.8 796.5 360.2 806.0 357.7 816.5 357.5 822.5 358.4 828.0 359.8 833.9 362.0 839.5 364.8 850.0 371.9 859.2 381.0 863.5 386.5 867.0 392.0 870.0 397.9 872.5 404.0 874.2 410.0 875.4 416.0 875.8 422.0 875.6 427.5 874.8 433.0 873.4 438.5 871.0 444.5 868.2 450.0 860.0 461.6 848.5 474.2 837.5 484.3 828.0 490.8 816.1 496.0 804.0 499.0Z"/>
<path fill="#910000" fill-rule="evenodd" d="M802.5 497.0 797.5 497.2 793.0 496.6 789.0 495.5 785.5 493.6 783.1 491.5 780.9 488.5 775.8 479.0 770.5 463.2 766.9 445.5 765.5 429.0 766.2 412.5 768.3 400.0 771.8 389.0 776.7 379.5 783.0 371.6 790.5 365.5 798.6 361.5 808.0 359.4 818.0 359.4 824.0 360.5 829.3 362.0 835.0 364.3 840.5 367.1 850.5 374.2 859.5 383.5 866.6 394.0 871.6 405.5 874.2 417.0 874.6 422.5 874.3 428.5 873.3 434.5 871.6 440.0 869.2 445.5 866.2 451.0 857.5 462.8 845.0 475.9 834.5 485.0 825.5 490.5 814.0 494.8 802.5 497.0Z"/>
<path fill="#8e0000" fill-rule="evenodd" d="M801.5 494.5 793.0 494.0 789.0 492.7 786.0 490.9 784.0 489.1 781.1 485.0 776.4 475.5 771.5 459.7 768.2 442.5 767.2 426.5 768.2 410.5 770.6 398.5 774.3 388.0 779.5 379.0 785.5 372.0 792.8 366.5 801.0 362.9 810.0 361.2 819.5 361.5 825.0 362.6 830.5 364.3 841.0 369.3 850.7 376.5 859.2 385.5 866.0 396.0 870.8 407.5 873.1 418.5 873.3 424.0 872.9 429.5 871.8 435.0 870.0 440.7 867.5 446.1 864.1 452.0 854.5 464.3 841.5 477.4 832.5 484.7 823.7 489.5 813.0 492.9 801.5 494.5Z"/>
<path fill="#8b0000" fill-rule="evenodd" d="M806.5 491.0 796.5 491.4 790.0 489.9 785.0 486.5 780.3 479.0 777.5 472.5 775.0 465.0 771.0 448.0 769.3 432.5 769.5 417.0 771.2 404.5 774.1 394.0 778.5 384.5 784.0 376.7 791.0 370.3 798.9 366.0 807.5 363.7 817.0 363.3 822.5 364.1 828.0 365.5 838.5 370.0 848.1 376.5 856.5 384.8 863.5 394.6 868.6 405.5 871.3 416.5 871.8 422.0 871.7 427.5 870.9 432.5 869.5 438.0 867.5 443.0 864.5 448.7 856.5 459.8 845.1 472.0 835.5 480.5 827.0 486.0 818.0 489.2 806.5 491.0Z"/>
<path fill="#870000" fill-rule="evenodd" d="M799.0 487.6 795.0 487.6 791.5 486.9 788.5 485.4 786.0 483.3 781.5 475.8 777.5 465.4 773.6 450.0 771.6 435.0 771.5 420.0 773.2 406.0 776.0 395.6 779.8 387.0 784.9 379.5 791.0 373.5 798.3 369.0 806.0 366.4 814.0 365.6 822.9 366.5 833.5 369.9 843.0 375.2 851.5 382.1 859.0 390.9 864.9 401.0 868.7 411.5 870.2 422.0 869.4 432.0 868.0 437.5 866.0 442.5 863.1 448.0 859.5 453.4 849.0 465.8 836.0 478.0 829.0 482.7 822.0 485.5 816.0 486.5 807.0 486.4 799.0 487.6Z"/>
<path fill="#840000" fill-rule="evenodd" d="M796.0 482.6 793.5 482.7 791.0 482.1 788.5 480.6 786.5 478.4 784.0 474.2 781.5 468.6 777.5 455.4 774.9 441.5 773.9 428.0 774.6 414.5 776.9 402.0 780.0 393.0 784.0 385.6 789.3 379.0 795.5 374.0 802.5 370.5 810.0 368.7 818.0 368.6 826.0 370.0 835.5 373.6 845.0 379.5 853.0 386.9 859.5 395.5 864.5 405.2 867.5 415.4 868.3 425.0 866.9 434.5 865.3 439.5 863.0 444.4 856.0 455.0 844.2 468.0 838.0 473.7 833.0 477.6 826.5 481.1 823.5 481.9 820.5 482.0 818.1 481.0 815.5 477.1 813.5 475.1 811.5 474.0 809.5 473.9 806.0 475.2 799.0 481.3 796.0 482.6Z"/>
<path fill="#800000" fill-rule="evenodd" d="M828.5 476.0 827.0 476.1 825.7 475.5 821.2 464.0 818.5 459.1 816.5 457.2 814.0 456.4 810.5 457.4 806.5 460.3 801.5 465.6 794.0 474.8 792.0 475.3 790.0 474.6 787.5 471.8 784.5 465.8 782.0 458.4 779.5 448.0 777.6 434.0 777.5 421.0 779.1 408.0 782.5 396.5 787.3 387.5 793.5 380.5 797.5 377.5 801.0 375.5 809.0 372.9 818.0 372.3 827.2 374.0 836.0 377.6 844.4 383.0 852.0 390.2 858.0 398.4 862.5 407.5 865.0 416.3 865.7 424.0 865.0 431.6 863.0 438.5 859.0 446.5 852.0 456.0 842.6 466.0 834.5 473.0 831.2 475.0 828.5 476.0Z"/></g></g>
<path fill="none" stroke="#b4b4b4" stroke-width="1.5" d="M636 130.5V714.5M984.5 130.5V714.5"/>
<path fill="none" stroke="#808080" stroke-width="1.6" d="M635.3 130.5H985.2M635.3 714.5H985.2"/>
<path fill="none" stroke="#333" stroke-width="1.4" stroke-linejoin="round" transform="translate(562,0)" d="M93.7 660.5L93.7 195.4L90.4 182.6L95.9 182.1L99.3 192.9C117 193.1 147 193 154.5 157.1L186.1 157.1L186.1 164.6L175.3 164.6L175.3 167.3L231 206.2Q234.5 209.9 238.6 209.9L272 209.9L306.5 214.1L335.1 217Q345.5 219.5 352.3 229.4L403.9 341.2L405.6 343.3L404.1 343.3L404.1 498.1L405.4 500.5L405.4 502L351 610.8L272 651Q266.3 654 266.1 660L266.1 666.4L175.5 666.4L175.5 681.4L186.7 681.4L186.7 687.8L123.4 687.8Z"/>
<line x1="632" y1="224.2" x2="636" y2="224.2" stroke="#555" stroke-width="1.3"/>
<text x="628.2" y="234.4" font-size="26.6" text-anchor="end">1.0</text>
<line x1="632" y1="322.4" x2="636" y2="322.4" stroke="#555" stroke-width="1.3"/>
<text x="628.2" y="332.6" font-size="26.6" text-anchor="end">0.5</text>
<line x1="632" y1="420.7" x2="636" y2="420.7" stroke="#555" stroke-width="1.3"/>
<text x="628.2" y="430.9" font-size="26.6" text-anchor="end">0.0</text>
<line x1="632" y1="519" x2="636" y2="519" stroke="#555" stroke-width="1.3"/>
<text x="628.2" y="529.2" font-size="26.6" text-anchor="end">−0.5</text>
<line x1="632" y1="617.2" x2="636" y2="617.2" stroke="#555" stroke-width="1.3"/>
<text x="628.2" y="627.4" font-size="26.6" text-anchor="end">−1.0</text>
<line x1="651.7" y1="714.5" x2="651.7" y2="719" stroke="#555" stroke-width="1.3"/>
<text x="651.7" y="743.2" font-size="26.6" text-anchor="middle">1.0</text>
<line x1="766.9" y1="714.5" x2="766.9" y2="719" stroke="#555" stroke-width="1.3"/>
<text x="766.9" y="743.2" font-size="26.6" text-anchor="middle">1.5</text>
<line x1="882.1" y1="714.5" x2="882.1" y2="719" stroke="#555" stroke-width="1.3"/>
<text x="882.1" y="743.2" font-size="26.6" text-anchor="middle">2.0</text>
<text x="634.2" y="123.6" font-size="26.85">Electron Temperature (eV)</text>
<text transform="translate(662.5,175.5) scale(0.97,1)" font-size="39" font-weight="bold" style="font-family:'Liberation Sans',sans-serif">b)</text>
<rect x="1006.5" y="119.7" width="30.7" height="606.3" fill="url(#gjet)" stroke="#444" stroke-width="0.8"/>
<line x1="1037.2" y1="692.8" x2="1039.7" y2="692.8" stroke="#444" stroke-width="1"/>
<line x1="1037.2" y1="667.4" x2="1039.7" y2="667.4" stroke="#444" stroke-width="1"/>
<line x1="1037.2" y1="647.6" x2="1039.7" y2="647.6" stroke="#444" stroke-width="1"/>
<line x1="1037.2" y1="631.5" x2="1039.7" y2="631.5" stroke="#444" stroke-width="1"/>
<line x1="1037.2" y1="617.9" x2="1039.7" y2="617.9" stroke="#444" stroke-width="1"/>
<line x1="1037.2" y1="606.1" x2="1039.7" y2="606.1" stroke="#444" stroke-width="1"/>
<line x1="1037.2" y1="595.7" x2="1039.7" y2="595.7" stroke="#444" stroke-width="1"/>
<line x1="1037.2" y1="525.1" x2="1039.7" y2="525.1" stroke="#444" stroke-width="1"/>
<line x1="1037.2" y1="489.3" x2="1039.7" y2="489.3" stroke="#444" stroke-width="1"/>
<line x1="1037.2" y1="463.8" x2="1039.7" y2="463.8" stroke="#444" stroke-width="1"/>
<line x1="1037.2" y1="444.1" x2="1039.7" y2="444.1" stroke="#444" stroke-width="1"/>
<line x1="1037.2" y1="428" x2="1039.7" y2="428" stroke="#444" stroke-width="1"/>
<line x1="1037.2" y1="414.4" x2="1039.7" y2="414.4" stroke="#444" stroke-width="1"/>
<line x1="1037.2" y1="402.6" x2="1039.7" y2="402.6" stroke="#444" stroke-width="1"/>
<line x1="1037.2" y1="392.2" x2="1039.7" y2="392.2" stroke="#444" stroke-width="1"/>
<line x1="1037.2" y1="321.6" x2="1039.7" y2="321.6" stroke="#444" stroke-width="1"/>
<line x1="1037.2" y1="285.8" x2="1039.7" y2="285.8" stroke="#444" stroke-width="1"/>
<line x1="1037.2" y1="260.3" x2="1039.7" y2="260.3" stroke="#444" stroke-width="1"/>
<line x1="1037.2" y1="240.6" x2="1039.7" y2="240.6" stroke="#444" stroke-width="1"/>
<line x1="1037.2" y1="224.5" x2="1039.7" y2="224.5" stroke="#444" stroke-width="1"/>
<line x1="1037.2" y1="210.9" x2="1039.7" y2="210.9" stroke="#444" stroke-width="1"/>
<line x1="1037.2" y1="199.1" x2="1039.7" y2="199.1" stroke="#444" stroke-width="1"/>
<line x1="1037.2" y1="188.6" x2="1039.7" y2="188.6" stroke="#444" stroke-width="1"/>
<line x1="1037.2" y1="179.3" x2="1041.7" y2="179.3" stroke="#444" stroke-width="1.3"/>
<text x="1044" y="188.1" font-size="26.6">10<tspan font-size="19.3" dx="1.2" dy="-10.3">3</tspan></text>
<line x1="1037.2" y1="382.9" x2="1041.7" y2="382.9" stroke="#444" stroke-width="1.3"/>
<text x="1044" y="391.7" font-size="26.6">10<tspan font-size="19.3" dx="1.2" dy="-10.3">2</tspan></text>
<line x1="1037.2" y1="586.4" x2="1041.7" y2="586.4" stroke="#444" stroke-width="1.3"/>
<text x="1044" y="595.2" font-size="26.6">10<tspan font-size="19.3" dx="1.2" dy="-10.3">1</tspan></text>
<rect x="1188.3" y="54.3" width="496.7" height="298.1" fill="none" stroke="#444" stroke-width="1.8"/>
<line x1="1183.5" y1="350.4" x2="1188.3" y2="350.4" stroke="#444" stroke-width="1.5"/>
<text x="1179.1" y="358.3" font-size="22" text-anchor="end">0</text>
<line x1="1183.5" y1="313.1" x2="1188.3" y2="313.1" stroke="#444" stroke-width="1.5"/>
<text x="1179.1" y="321" font-size="22" text-anchor="end">1</text>
<line x1="1183.5" y1="275.9" x2="1188.3" y2="275.9" stroke="#444" stroke-width="1.5"/>
<text x="1179.1" y="283.8" font-size="22" text-anchor="end">2</text>
<line x1="1183.5" y1="238.6" x2="1188.3" y2="238.6" stroke="#444" stroke-width="1.5"/>
<text x="1179.1" y="246.5" font-size="22" text-anchor="end">3</text>
<line x1="1183.5" y1="201.4" x2="1188.3" y2="201.4" stroke="#444" stroke-width="1.5"/>
<text x="1179.1" y="209.3" font-size="22" text-anchor="end">4</text>
<line x1="1183.5" y1="164.1" x2="1188.3" y2="164.1" stroke="#444" stroke-width="1.5"/>
<text x="1179.1" y="172" font-size="22" text-anchor="end">5</text>
<line x1="1183.5" y1="126.9" x2="1188.3" y2="126.9" stroke="#444" stroke-width="1.5"/>
<text x="1179.1" y="134.8" font-size="22" text-anchor="end">6</text>
<line x1="1183.5" y1="89.6" x2="1188.3" y2="89.6" stroke="#444" stroke-width="1.5"/>
<text x="1179.1" y="97.5" font-size="22" text-anchor="end">7</text>
<line x1="1188.3" y1="352.4" x2="1188.3" y2="357.2" stroke="#444" stroke-width="1.5"/>
<text x="1188.3" y="378.5" font-size="22" text-anchor="middle">0.0</text>
<line x1="1278.6" y1="352.4" x2="1278.6" y2="357.2" stroke="#444" stroke-width="1.5"/>
<text x="1278.6" y="378.5" font-size="22" text-anchor="middle">0.2</text>
<line x1="1368.9" y1="352.4" x2="1368.9" y2="357.2" stroke="#444" stroke-width="1.5"/>
<text x="1368.9" y="378.5" font-size="22" text-anchor="middle">0.4</text>
<line x1="1459.2" y1="352.4" x2="1459.2" y2="357.2" stroke="#444" stroke-width="1.5"/>
<text x="1459.2" y="378.5" font-size="22" text-anchor="middle">0.6</text>
<line x1="1549.5" y1="352.4" x2="1549.5" y2="357.2" stroke="#444" stroke-width="1.5"/>
<text x="1549.5" y="378.5" font-size="22" text-anchor="middle">0.8</text>
<line x1="1639.8" y1="352.4" x2="1639.8" y2="357.2" stroke="#444" stroke-width="1.5"/>
<text x="1639.8" y="378.5" font-size="22" text-anchor="middle">1.0</text>
<line x1="1591.7" y1="55.3" x2="1591.7" y2="351.4" stroke="#e8202a" stroke-width="2.2" stroke-dasharray="7.5,3.4"/>
<line x1="1639.8" y1="55.3" x2="1639.8" y2="351.4" stroke="#2020e0" stroke-width="2.2" stroke-dasharray="7.5,3.4"/>
<circle cx="1329.5" cy="90.7" r="4.6" fill="#087808"/><circle cx="1353.3" cy="87.7" r="4.6" fill="#087808"/><circle cx="1395.1" cy="92" r="4.6" fill="#087808"/><circle cx="1418.3" cy="99.3" r="4.6" fill="#087808"/><circle cx="1431" cy="80.9" r="4.6" fill="#087808"/><circle cx="1447.5" cy="97" r="4.6" fill="#087808"/><circle cx="1461.4" cy="89.5" r="4.6" fill="#087808"/><circle cx="1492.1" cy="93.8" r="4.6" fill="#087808"/><circle cx="1522.5" cy="115.8" r="4.6" fill="#087808"/><circle cx="1541.7" cy="120.2" r="4.6" fill="#087808"/><circle cx="1553.3" cy="116.7" r="4.6" fill="#087808"/><circle cx="1560.8" cy="135.4" r="4.6" fill="#087808"/><circle cx="1572.6" cy="140.4" r="4.6" fill="#087808"/><circle cx="1582.2" cy="157.2" r="4.6" fill="#087808"/><circle cx="1594.4" cy="156" r="4.6" fill="#087808"/><circle cx="1600.1" cy="167.6" r="4.6" fill="#087808"/><circle cx="1607.3" cy="164" r="4.6" fill="#087808"/><circle cx="1614.4" cy="172.1" r="4.6" fill="#087808"/><circle cx="1619.4" cy="178.3" r="4.6" fill="#087808"/><circle cx="1623.9" cy="181" r="4.6" fill="#087808"/><circle cx="1629.2" cy="176.5" r="4.6" fill="#087808"/><circle cx="1633.4" cy="224.6" r="4.6" fill="#087808"/><circle cx="1639.3" cy="268.6" r="4.6" fill="#087808"/><circle cx="1643.9" cy="303.2" r="4.6" fill="#087808"/><circle cx="1647.6" cy="310.6" r="4.6" fill="#087808"/><circle cx="1650.2" cy="321" r="4.6" fill="#087808"/><circle cx="1653.3" cy="324.2" r="4.6" fill="#087808"/><circle cx="1651.2" cy="330.5" r="4.6" fill="#087808"/><circle cx="1658.6" cy="327.3" r="4.6" fill="#087808"/><circle cx="1664.8" cy="330.5" r="4.6" fill="#087808"/><circle cx="1671.1" cy="332.6" r="4.6" fill="#087808"/><circle cx="1676.4" cy="334.7" r="4.6" fill="#087808"/><circle cx="1681.6" cy="338.9" r="4.6" fill="#087808"/>
<polyline fill="none" stroke="#000" stroke-width="5" stroke-linejoin="round" points="1199.6,67.3 1209.5,67.5 1219.3,67.6 1229.2,67.9 1239.1,68.2 1249,68.6 1258.8,69 1268.7,69.6 1278.6,70.2 1288.5,70.8 1298.3,71.6 1308.2,72.4 1318.1,73.3 1328,74.2 1337.8,75.3 1347.7,76.4 1357.6,77.6 1367.5,78.9 1377.3,80.3 1387.2,81.7 1397.1,83.3 1407,84.9 1416.8,86.7 1426.7,88.5 1436.6,90.4 1446.5,92.4 1456.3,94.6 1466.2,96.8 1476.1,99.1 1486,101.6 1495.8,104.1 1505.7,106.8 1515.6,109.6 1525.5,112.6 1535.3,115.6 1545.2,118.8 1555.1,122.1 1565,125.6 1574.8,129.2 1584.7,132.9 1588.3,151 1591.9,164.4 1595.5,175.3 1599.1,185 1602.7,194.2 1606.3,203 1609.9,211.5 1613.5,219.9 1617.1,228.3 1620.6,236.6 1624.2,245.2 1627.8,254.1 1631.4,262.5 1635,270.2 1638.6,276.9 1642.2,282.5 1645.8,287.4 1649.4,291.8 1653,295.7 1656.6,299.3 1660.2,302.6 1663.8,305.9 1667.4,308.9 1671,311.7"/>
<rect x="1197.7" y="226.4" width="208" height="116.8" rx="4" fill="#fff" fill-opacity="0.85" stroke="#d6d6d6" stroke-width="1.3"/>
<line x1="1202.7" y1="241.6" x2="1245.7" y2="241.6" stroke="#000" stroke-width="5.5"/>
<text x="1257.6" y="248.6" font-size="19.3" text-anchor="start">SICAS</text>
<line x1="1204.7" y1="269.2" x2="1243.7" y2="269.2" stroke="#e8202a" stroke-width="2.2" stroke-dasharray="7.2,3.2"/>
<text x="1257.6" y="276.2" font-size="19.3" text-anchor="start">Core boundary</text>
<line x1="1204.7" y1="296.8" x2="1243.7" y2="296.8" stroke="#2020e0" stroke-width="2.2" stroke-dasharray="7.2,3.2"/>
<text x="1257.6" y="303.8" font-size="19.3" text-anchor="start">Separatrix</text>
<circle cx="1224.2" cy="324.4" r="4.8" fill="#087808"/>
<text x="1257.6" y="331.4" font-size="19.3" text-anchor="start">TS</text>
<text transform="translate(1230.6,137.6) scale(0.88,1)" font-size="39" font-weight="bold" style="font-family:'Liberation Sans',sans-serif">c)</text>
<text transform="translate(1153.4,204.9) rotate(-90)" text-anchor="middle" font-size="26.5" textLength="188.8" lengthAdjust="spacing"><tspan font-style="italic">n</tspan><tspan font-size="19" font-style="italic" dy="5">e</tspan><tspan dy="-5"> (10</tspan><tspan font-size="19" dy="-11">19</tspan><tspan dy="11"> </tspan><tspan font-style="italic">m</tspan><tspan font-size="19" dy="-11">−3</tspan><tspan dy="11">)</tspan></text>
<text x="1437" y="408.5" font-size="26" font-style="italic" text-anchor="middle">ρ</text>
<rect x="1221.4" y="435" width="458.8" height="297.4" fill="none" stroke="#444" stroke-width="1.8"/>
<line x1="1216.6" y1="720.6" x2="1221.4" y2="720.6" stroke="#444" stroke-width="1.5"/>
<text x="1212.2" y="728.5" font-size="22" text-anchor="end">0</text>
<line x1="1216.6" y1="654.4" x2="1221.4" y2="654.4" stroke="#444" stroke-width="1.5"/>
<text x="1212.2" y="662.3" font-size="22" text-anchor="end">500</text>
<line x1="1216.6" y1="588.2" x2="1221.4" y2="588.2" stroke="#444" stroke-width="1.5"/>
<text x="1212.2" y="596.1" font-size="22" text-anchor="end">1000</text>
<line x1="1216.6" y1="522" x2="1221.4" y2="522" stroke="#444" stroke-width="1.5"/>
<text x="1212.2" y="529.9" font-size="22" text-anchor="end">1500</text>
<line x1="1216.6" y1="455.8" x2="1221.4" y2="455.8" stroke="#444" stroke-width="1.5"/>
<text x="1212.2" y="463.7" font-size="22" text-anchor="end">2000</text>
<line x1="1221.4" y1="732.4" x2="1221.4" y2="737.2" stroke="#444" stroke-width="1.5"/>
<text x="1221.4" y="758.5" font-size="22" text-anchor="middle">0.0</text>
<line x1="1304.8" y1="732.4" x2="1304.8" y2="737.2" stroke="#444" stroke-width="1.5"/>
<text x="1304.8" y="758.5" font-size="22" text-anchor="middle">0.2</text>
<line x1="1388.2" y1="732.4" x2="1388.2" y2="737.2" stroke="#444" stroke-width="1.5"/>
<text x="1388.2" y="758.5" font-size="22" text-anchor="middle">0.4</text>
<line x1="1471.7" y1="732.4" x2="1471.7" y2="737.2" stroke="#444" stroke-width="1.5"/>
<text x="1471.7" y="758.5" font-size="22" text-anchor="middle">0.6</text>
<line x1="1555.1" y1="732.4" x2="1555.1" y2="737.2" stroke="#444" stroke-width="1.5"/>
<text x="1555.1" y="758.5" font-size="22" text-anchor="middle">0.8</text>
<line x1="1638.5" y1="732.4" x2="1638.5" y2="737.2" stroke="#444" stroke-width="1.5"/>
<text x="1638.5" y="758.5" font-size="22" text-anchor="middle">1.0</text>
<line x1="1594.1" y1="436" x2="1594.1" y2="731.4" stroke="#e8202a" stroke-width="2.2" stroke-dasharray="7.5,3.4"/>
<line x1="1638.5" y1="436" x2="1638.5" y2="731.4" stroke="#2020e0" stroke-width="2.2" stroke-dasharray="7.5,3.4"/>
<circle cx="1352" cy="448.3" r="4.3" fill="#087808"/><circle cx="1374" cy="463.3" r="4.3" fill="#087808"/><circle cx="1412.7" cy="535.5" r="4.3" fill="#087808"/><circle cx="1434" cy="537.8" r="4.3" fill="#087808"/><circle cx="1445.5" cy="580.7" r="4.3" fill="#087808"/><circle cx="1460" cy="548.8" r="4.3" fill="#087808"/><circle cx="1473.4" cy="587.8" r="4.3" fill="#087808"/><circle cx="1502.4" cy="576.1" r="4.3" fill="#087808"/><circle cx="1529.5" cy="604.1" r="4.3" fill="#087808"/><circle cx="1547.9" cy="613.5" r="4.3" fill="#087808"/><circle cx="1558.5" cy="625.7" r="4.3" fill="#087808"/><circle cx="1565.3" cy="631.7" r="4.3" fill="#087808"/><circle cx="1575.6" cy="633.3" r="4.3" fill="#087808"/><circle cx="1585.1" cy="633.9" r="4.3" fill="#087808"/><circle cx="1596.7" cy="649.6" r="4.3" fill="#087808"/><circle cx="1602.1" cy="655.6" r="4.3" fill="#087808"/><circle cx="1608.1" cy="663.7" r="4.3" fill="#087808"/><circle cx="1615.7" cy="667.8" r="4.3" fill="#087808"/><circle cx="1620.3" cy="674" r="4.3" fill="#087808"/><circle cx="1624.4" cy="682.7" r="4.3" fill="#087808"/><circle cx="1629.3" cy="692.2" r="4.3" fill="#087808"/><circle cx="1633.9" cy="701.1" r="4.3" fill="#087808"/><circle cx="1636.6" cy="712.5" r="4.3" fill="#087808"/><circle cx="1643.4" cy="716.6" r="4.3" fill="#087808"/><circle cx="1656.9" cy="718" r="4.3" fill="#087808"/><circle cx="1670.5" cy="719.3" r="4.3" fill="#087808"/><circle cx="1677.3" cy="719.3" r="4.3" fill="#087808"/>
<polyline fill="none" stroke="#000" stroke-width="5" stroke-linejoin="round" points="1231.8,455.7 1239.1,455.5 1246.3,455.4 1253.5,455.4 1260.8,455.5 1268,455.8 1275.2,456.4 1282.5,457.3 1289.7,458.5 1296.9,460 1304.2,461.8 1311.4,464.1 1318.7,466.7 1325.9,469.6 1333.1,472.9 1340.4,476.6 1347.6,480.6 1354.8,484.9 1362.1,489.4 1369.3,494.3 1376.5,499.4 1383.8,504.6 1391,510 1398.2,515.6 1405.5,521.2 1412.7,526.9 1419.9,532.6 1427.2,538.3 1434.4,543.9 1441.7,549.4 1448.9,554.8 1456.1,560 1463.4,565.1 1470.6,569.9 1477.8,574.6 1485.1,579 1492.3,583.2 1499.5,587.2 1506.8,590.9 1514,594.5 1521.2,598 1528.5,601.3 1535.7,604.6 1543,607.9 1550.2,611.3 1557.4,615 1564.7,618.9 1571.9,623.3 1579.1,628.2 1586.4,633.9 1588.4,642.8 1590.5,650.6 1592.6,657.4 1594.7,660.3 1596.8,662 1598.9,663.7 1601,665.5 1603,667.3 1605.1,669.1 1607.2,671 1609.3,672.9 1611.4,675 1613.5,677.2 1615.6,679.6 1617.6,682.2 1619.7,685 1621.8,688.2 1623.9,691.8 1626,695.7 1628.1,699.4 1630.2,702.9 1632.2,706.4 1634.3,709 1636.4,710.6 1638.5,711.6 1640.6,712.4 1642.7,713 1644.8,713.6 1646.8,714 1648.9,714.4 1651,714.7 1653.1,715 1655.2,715.3 1657.3,715.6 1659.4,715.8 1661.4,716 1663.5,716.3 1665.6,716.5 1667.7,716.6"/>
<rect x="1232" y="606.5" width="208" height="118" rx="4" fill="#fff" fill-opacity="0.85" stroke="#d6d6d6" stroke-width="1.3"/>
<line x1="1237" y1="622.2" x2="1280" y2="622.2" stroke="#000" stroke-width="5.5"/>
<text x="1291.6" y="629.2" font-size="19.2" text-anchor="start">SICAS</text>
<line x1="1239" y1="649.8" x2="1278" y2="649.8" stroke="#e8202a" stroke-width="2.2" stroke-dasharray="7.2,3.2"/>
<text x="1291.6" y="656.8" font-size="19.2" text-anchor="start">Core boundary</text>
<line x1="1239" y1="677.4" x2="1278" y2="677.4" stroke="#2020e0" stroke-width="2.2" stroke-dasharray="7.2,3.2"/>
<text x="1291.6" y="684.4" font-size="19.2" text-anchor="start">Separatrix</text>
<circle cx="1258.5" cy="705" r="4.8" fill="#087808"/>
<text x="1291.6" y="712" font-size="19.2" text-anchor="start">TS</text>
<text transform="translate(1230.2,499.5) scale(0.98,1)" font-size="39" font-weight="bold" style="font-family:'Liberation Sans',sans-serif">d)</text>
<text transform="translate(1146.3,583.6) rotate(-90)" text-anchor="middle" font-size="26.5" textLength="91.7" lengthAdjust="spacing"><tspan font-style="italic">T</tspan><tspan font-size="19" font-style="italic" dy="5">e</tspan><tspan dy="-5"> (eV)</tspan></text>
<text x="1451.4" y="788.3" font-size="26" font-style="italic" text-anchor="middle">ρ</text>
</svg></body></html>
